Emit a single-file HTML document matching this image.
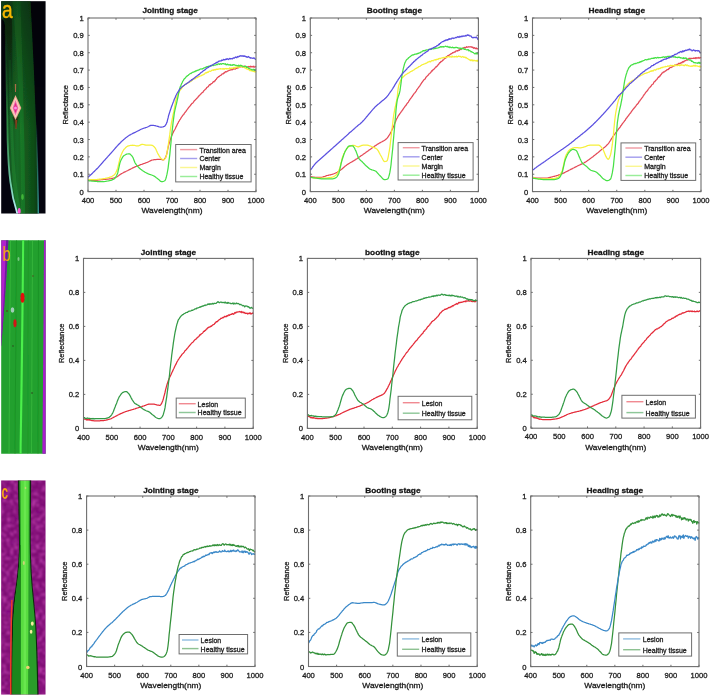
<!DOCTYPE html>
<html><head><meta charset="utf-8"><style>
html,body{margin:0;padding:0;background:#fff;width:710px;height:697px;overflow:hidden}
svg{display:block;filter:blur(0.42px)}
text{font-family:"Liberation Sans", sans-serif;fill:#1e1e1e;stroke:#1e1e1e;stroke-width:0.3px}
.tk{font-size:7.6px}
.lb{font-size:7.6px}
.lg{font-size:7.0px}
.ti{font-size:8.1px;font-weight:bold;fill:#111}
</style></head><body>
<svg width="710" height="697" viewBox="0 0 710 697">
<rect width="710" height="697" fill="#fff"/>
<defs>
 <linearGradient id="la_g" x1="0" y1="0" x2="1" y2="0">
  <stop offset="0" stop-color="#15622a"/>
  <stop offset="0.25" stop-color="#125620"/>
  <stop offset="0.45" stop-color="#186c26"/>
  <stop offset="0.65" stop-color="#135a1e"/>
  <stop offset="0.88" stop-color="#0f4c17"/>
  <stop offset="1" stop-color="#0a3410"/>
 </linearGradient>
 <linearGradient id="la_top" x1="0" y1="0" x2="0" y2="1">
  <stop offset="0" stop-color="#000" stop-opacity="0.38"/>
  <stop offset="0.6" stop-color="#000" stop-opacity="0.15"/>
  <stop offset="1" stop-color="#000" stop-opacity="0"/>
 </linearGradient>
 <linearGradient id="la_lf" x1="0" y1="0" x2="0" y2="1">
  <stop offset="0" stop-color="#020a04" stop-opacity="0.5"/>
  <stop offset="0.5" stop-color="#020a04" stop-opacity="0.3"/>
  <stop offset="1" stop-color="#020a04" stop-opacity="0"/>
 </linearGradient>
 <linearGradient id="la_re" x1="0" y1="0" x2="0" y2="1">
  <stop offset="0" stop-color="#3aa0a0" stop-opacity="0"/>
  <stop offset="0.6" stop-color="#3aa0a0" stop-opacity="0.6"/>
  <stop offset="1" stop-color="#40b0b0" stop-opacity="0.85"/>
 </linearGradient>
 <linearGradient id="la_edge" x1="0" y1="0" x2="0" y2="1">
  <stop offset="0" stop-color="#1e7a2e" stop-opacity="0.3"/>
  <stop offset="0.55" stop-color="#3aa050" stop-opacity="0.8"/>
  <stop offset="0.85" stop-color="#80e0c0" stop-opacity="0.9"/>
  <stop offset="1" stop-color="#c0f0ff" stop-opacity="1"/>
 </linearGradient>
 <linearGradient id="la_v" x1="0" y1="0" x2="0" y2="1">
  <stop offset="0" stop-color="#000" stop-opacity="0.25"/>
  <stop offset="0.5" stop-color="#000" stop-opacity="0"/>
  <stop offset="1" stop-color="#000" stop-opacity="0"/>
 </linearGradient>
 <filter id="noise" x="0" y="0" width="100%" height="100%">
  <feTurbulence type="fractalNoise" baseFrequency="0.28" numOctaves="2" seed="7" result="t"/>
  <feColorMatrix in="t" type="matrix" values="0 0 0 0 0.78  0 0 0 0 0.12  0 0 0 0 0.62  2.2 0 0 0 -1.05" result="c"/>
  <feGaussianBlur in="c" stdDeviation="0.9" result="cb"/>
  <feTurbulence type="fractalNoise" baseFrequency="0.2" numOctaves="2" seed="23" result="t2"/>
  <feColorMatrix in="t2" type="matrix" values="0 0 0 0 0.25  0 0 0 0 0.0  0 0 0 0 0.28  -2.2 0 0 0 1.05" result="d"/>
  <feGaussianBlur in="d" stdDeviation="1.0" result="db"/>
  <feMerge result="m"><feMergeNode in="db"/><feMergeNode in="cb"/></feMerge>
  <feComposite in="m" in2="SourceGraphic" operator="in"/>
 </filter>
 <filter id="blurL" x="-5%" y="-2%" width="110%" height="104%"><feGaussianBlur stdDeviation="0.6"/></filter>
 <filter id="blurS" x="-50%" y="-50%" width="200%" height="200%"><feGaussianBlur stdDeviation="0.5"/></filter>
 <clipPath id="clipA"><rect x="1.2" y="1.2" width="44.3" height="212.4"/></clipPath>
 <clipPath id="clipB"><rect x="1.2" y="240.3" width="44.5" height="213.5"/></clipPath>
 <clipPath id="clipC"><rect x="1.2" y="480.5" width="44.3" height="214"/></clipPath>
</defs>
<!-- leaf a -->
<g clip-path="url(#clipA)">
 <rect x="0" y="0" width="46" height="215" fill="#04040e"/>
 <g filter="url(#blurL)">
 <path d="M0,0 L30.5,0 C32.5,40 34.5,80 35.5,110 C37,140 38.3,170 38.6,214 L17.4,214 C14.5,205 12,196 10.4,180 C9,165 8,150 7.4,130 C6.6,90 6,50 5,25 C4,20 2,18 0,18 Z" fill="url(#la_g)"/>
 <path d="M12.5,0 L20.5,0 C22,50 23.5,100 24.5,150 C25,180 25.2,200 25,214 L21,214 C21,190 20.5,150 19.5,110 C18,60 14.5,30 12.5,0Z" fill="#1e8a2c" opacity="0.5"/>
 <path d="M8.5,60 C9.5,110 10.5,150 12.5,180 C14,196 16,206 19,214 L22,214 C18.5,200 16.5,185 15,165 C13.5,140 12,100 11,60Z" fill="#1f8a34" opacity="0.5"/>
 <path d="M5.6,30 C6.4,80 7,120 7.6,140 C8.2,160 9,172 10.4,182 C12,196 14.5,205 17.4,214" fill="none" stroke="url(#la_edge)" stroke-width="1.8"/>
 <rect x="0" y="0" width="46" height="130" fill="url(#la_top)"/>
 <path d="M36.2,120 C37.4,160 38.2,190 38.3,214" fill="none" stroke="url(#la_re)" stroke-width="1.4"/>
 <path d="M3,18 L12,18 C12.5,40 12.5,70 12,120 L7.4,120 C6.6,70 6,40 3,18Z" fill="url(#la_lf)"/>
 <ellipse cx="22.5" cy="197" rx="1.3" ry="3" fill="#52d040" opacity="0.7"/>
 <ellipse cx="19.2" cy="211" rx="1.5" ry="3" fill="#ff5ad8"/>
 <path d="M14.8,84 L16.2,84 L16,92 L15,92Z" fill="#d07050" opacity="0.8"/>
 <path d="M12.5,117 L18.5,117 L16.3,128 L15.5,128Z" fill="#2a2a10" opacity="0.7"/>
 <path d="M15.2,120 L17.2,120 L16.5,129 L15.5,129Z" fill="#a04020" opacity="0.8"/>
 <path d="M15.5,95 L21.3,108 L15.5,120 L9.8,108 Z" fill="#f0a890"/>
 <path d="M15.5,97.5 L20,108 L15.5,118 L11,108 Z" fill="#f8d0c4"/>
 <path d="M15.5,100 L18.4,108 L15.5,115.5 L12.6,108 Z" fill="#f06ea8"/>
 <path d="M15.5,102.5 L17.3,108 L15.5,113 L13.7,108 Z" fill="#e02a8a"/>
 <circle cx="15.5" cy="108" r="1.5" fill="#ff8ee8"/>
 </g>
 <text x="2.1" y="18.2" font-size="24.5" textLength="10.6" lengthAdjust="spacingAndGlyphs" style="fill:#f8b800;stroke:#f8b800;stroke-width:0.5px;font-family:'Liberation Sans',sans-serif">a</text>
</g>
<!-- leaf b -->
<g clip-path="url(#clipB)">
 <rect x="0" y="238" width="46" height="217" fill="#22a02e"/>
 <g filter="url(#blurL)">
 <path d="M0,238 L8.4,238 C7.5,260 6,285 4,310 C3,325 2,337 1.2,346 L0,346 Z" fill="#b020cc"/>
 <path d="M6.2,238 L8.4,238 C7.5,260 6,285 4,310 C3,325 2,337 1.2,346 L0.8,346 C1.6,335 2.4,322 3.2,308 C4.6,285 5.6,260 6.2,238Z" fill="#5a1a90" opacity="0.8"/>
 <path d="M44,238 L46,238 L46,455 L42.4,455 C43,400 43.6,320 44,238Z" fill="#a81ccc"/>
 <path d="M22.2,238 L24.2,238 C23.6,320 22.6,400 21.6,455 L19.6,455 C20.4,400 21.4,320 22.2,238Z" fill="#4cf04c"/>
 <path d="M10,238 L11,238 L9.5,455 L8.5,455Z" fill="#48c848" opacity="0.5"/>
 <path d="M32,238 L33,238 L32,455 L31,455Z" fill="#48c848" opacity="0.5"/>
 <path d="M16,238 L17,238 L15.5,455 L14.5,455Z" fill="#168a20" opacity="0.6"/>
 <path d="M38,238 L39,238 L38.5,455 L37.5,455Z" fill="#168a20" opacity="0.6"/>
 <path d="M28,238 L28.8,238 L28.2,455 L27.4,455Z" fill="#189020" opacity="0.5"/>
 <ellipse cx="22.5" cy="297.7" rx="2" ry="5" fill="#e41010"/>
 <ellipse cx="15" cy="323.3" rx="1.6" ry="4" fill="#d01818"/>
 <ellipse cx="12.5" cy="310" rx="1.8" ry="2.8" fill="#c8dce4" opacity="0.75"/>
 <ellipse cx="18.5" cy="259" rx="1" ry="2" fill="#b8e0c0" opacity="0.6"/>
 <circle cx="33" cy="276" r="1" fill="#505020" opacity="0.6"/>
 <circle cx="7" cy="311" r="0.9" fill="#603010" opacity="0.7"/>
 <circle cx="32" cy="393" r="1" fill="#304020" opacity="0.6"/>
 <circle cx="13" cy="346" r="0.9" fill="#304020" opacity="0.6"/>
 </g>
 <text x="2.6" y="261.4" font-size="20" textLength="8.2" lengthAdjust="spacingAndGlyphs" style="fill:#f2aa10;stroke:none;font-family:'Liberation Sans',sans-serif">b</text>
</g>
<!-- leaf c -->
<g clip-path="url(#clipC)">
 <rect x="0" y="478" width="46" height="220" fill="#7e0c74"/>
 <rect x="0" y="478" width="46" height="220" fill="#fff" filter="url(#noise)"/>
 <g filter="url(#blurL)">
 <path d="M17.8,478 L31.2,478 C31,510 30.8,530 30.8,545 C31,565 31.8,575 33,590 C34.5,605 35.5,615 36.2,625 C37.2,645 38,665 38.6,697 L11,697 C11,670 11.2,650 11.8,625 C12.5,612 13.5,600 15.5,588 C17.5,575 18.8,560 19,545 C19,530 18.4,510 17.8,478Z" fill="#0c260c"/>
 <path d="M19.2,478 L30,478 C29.8,510 29.6,530 29.8,545 C30,565 30.8,575 32,590 C33.5,605 34.5,615 35.2,625 C36.2,645 36.8,665 37.4,697 L12.4,697 C12.4,670 12.6,650 13.2,625 C13.8,612 14.8,600 16.6,588 C18.5,575 19.8,560 20,545 C20,530 19.6,510 19.2,478Z" fill="#2c9c2a"/>
 <path d="M12.4,697 C12.4,670 12.6,650 13.2,625 C13.8,612 14.8,600 16.6,588 C18.5,575 19.8,560 20,545 L21,545 C21,580 20.6,620 20.6,697Z" fill="#1f861c"/>
 <path d="M20.6,478 L28.8,478 C28.6,530 28.4,580 28.4,620 C28.2,660 28.2,680 28.2,697 L21,697 C21,660 21,600 21,540Z" fill="#58dc40"/>
 <path d="M23.8,478 L26.2,478 L26,697 L23.6,697Z" fill="#78ee5c" opacity="0.55"/>
 <path d="M12.6,600 C11.8,625 11.4,660 11.6,697 L10,697 C10,660 10.3,625 11.2,600 Z" fill="#f03a26"/>
 <ellipse cx="32.3" cy="623.6" rx="1.4" ry="2.2" fill="#f8eca0"/>
 <ellipse cx="31.1" cy="631.7" rx="1.3" ry="2" fill="#f8eca0"/>
 <ellipse cx="27.8" cy="667.4" rx="1.8" ry="1.7" fill="#f0d070"/>
 <ellipse cx="23.8" cy="563" rx="1" ry="2" fill="#e0d080" opacity="0.85"/>
 <ellipse cx="25.5" cy="488" rx="0.8" ry="1.3" fill="#e0d080" opacity="0.7"/>
 </g>
 <text x="1.6" y="498.8" font-size="19.5" font-weight="bold" textLength="6.6" lengthAdjust="spacingAndGlyphs" style="fill:#f2a414;stroke:none;font-family:'Liberation Sans',sans-serif">c</text>
</g>

<rect x="88" y="18" width="168" height="173.6" fill="#fff"/>
<path d="M88.0,179.6L88.6,179.7L89.1,179.8L89.7,179.9L90.2,180.0L90.8,180.2L91.4,180.3L91.9,180.3L92.5,180.4L93.0,180.5L93.6,180.5L94.2,180.5L94.7,180.5L95.3,180.4L95.8,180.4L96.4,180.3L97.0,180.3L97.5,180.2L98.1,180.1L98.6,180.0L99.2,179.9L99.8,179.9L100.3,179.8L100.9,179.7L101.4,179.6L102.0,179.6L102.6,179.5L103.1,179.5L103.7,179.4L104.2,179.4L104.8,179.4L105.4,179.3L105.9,179.3L106.5,179.2L107.0,179.2L107.6,179.1L108.2,179.1L108.7,179.0L109.3,178.9L109.8,178.9L110.4,178.8L111.0,178.7L111.5,178.6L112.1,178.4L112.6,178.3L113.2,178.2L113.8,178.0L114.3,177.8L114.9,177.7L115.4,177.5L116.0,177.3L116.6,177.0L117.1,176.7L117.7,176.3L118.2,176.0L118.8,175.6L119.4,175.1L119.9,174.7L120.5,174.3L121.0,173.9L121.6,173.6L122.2,173.3L122.7,173.0L123.3,172.7L123.8,172.4L124.4,172.1L125.0,171.8L125.5,171.6L126.1,171.3L126.6,171.0L127.2,170.8L127.8,170.5L128.3,170.2L128.9,169.9L129.4,169.6L130.0,169.3L130.6,169.1L131.1,168.8L131.7,168.5L132.2,168.2L132.8,167.9L133.4,167.6L133.9,167.4L134.5,167.1L135.0,166.9L135.6,166.6L136.2,166.4L136.7,166.2L137.3,166.0L137.8,165.8L138.4,165.6L139.0,165.4L139.5,165.1L140.1,164.9L140.6,164.7L141.2,164.5L141.8,164.3L142.3,164.1L142.9,163.9L143.4,163.7L144.0,163.5L144.6,163.3L145.1,163.1L145.7,162.9L146.2,162.7L146.8,162.5L147.4,162.3L147.9,162.0L148.5,161.8L149.0,161.5L149.6,161.2L150.2,160.9L150.7,160.7L151.3,160.4L151.8,160.2L152.4,160.0L153.0,159.9L153.5,159.8L154.1,159.7L154.6,159.7L155.2,159.6L155.8,159.5L156.3,159.5L156.9,159.4L157.4,159.4L158.0,159.3L158.6,159.3L159.1,159.3L159.7,159.3L160.2,159.4L160.8,159.4L161.4,159.5L161.9,159.7L162.5,159.8L163.0,159.8L163.6,159.8L164.2,159.4L164.7,158.7L165.3,157.8L165.8,156.7L166.4,155.1L167.0,152.9L167.5,150.3L168.1,147.7L168.6,145.3L169.2,143.3L169.8,141.5L170.3,139.7L170.9,138.1L171.4,136.5L172.0,135.2L172.6,133.8L173.1,132.6L173.7,131.4L174.2,130.3L174.8,129.5L175.4,128.5L175.9,127.1L176.5,126.2L177.0,125.1L177.6,123.7L178.2,122.8L178.7,121.6L179.3,120.8L179.8,119.8L180.4,119.1L181.0,118.0L181.5,117.1L182.1,116.4L182.6,115.6L183.2,114.8L183.8,114.4L184.3,113.3L184.9,112.6L185.4,112.0L186.0,111.4L186.6,110.3L187.1,109.7L187.7,108.9L188.2,108.1L188.8,107.5L189.4,106.6L189.9,106.2L190.5,105.3L191.0,104.8L191.6,103.9L192.2,103.3L192.7,103.1L193.3,102.4L193.8,101.7L194.4,100.6L195.0,100.3L195.5,99.6L196.1,99.2L196.6,98.4L197.2,97.9L197.8,97.4L198.3,96.6L198.9,96.1L199.4,95.3L200.0,94.9L200.6,94.2L201.1,93.7L201.7,93.0L202.2,92.7L202.8,92.5L203.4,91.4L203.9,90.7L204.5,90.1L205.0,89.7L205.6,89.0L206.2,88.7L206.7,87.6L207.3,87.2L207.8,86.9L208.4,86.5L209.0,85.3L209.5,84.7L210.1,85.0L210.6,84.0L211.2,83.8L211.8,83.6L212.3,83.1L212.9,82.2L213.4,81.7L214.0,81.9L214.6,80.9L215.1,80.9L215.7,79.7L216.2,79.5L216.8,78.4L217.4,77.7L217.9,77.5L218.5,76.5L219.0,76.6L219.6,76.3L220.2,75.3L220.7,75.4L221.3,74.9L221.8,74.3L222.4,73.8L223.0,73.9L223.5,73.7L224.1,72.6L224.6,72.8L225.2,71.9L225.8,71.7L226.3,71.9L226.9,71.6L227.4,71.2L228.0,70.9L228.6,70.7L229.1,70.5L229.7,70.2L230.2,69.7L230.8,70.0L231.4,69.9L231.9,69.4L232.5,69.8L233.0,69.5L233.6,68.6L234.2,69.0L234.7,68.8L235.3,69.2L235.8,68.5L236.4,68.1L237.0,68.5L237.5,67.6L238.1,67.4L238.6,67.8L239.2,66.9L239.8,67.0L240.3,66.6L240.9,66.9L241.4,66.4L242.0,66.3L242.6,67.2L243.1,67.1L243.7,66.4L244.2,66.0L244.8,66.9L245.4,66.7L245.9,66.5L246.5,66.8L247.0,66.8L247.6,66.8L248.2,66.8L248.7,66.5L249.3,66.9L249.8,66.8L250.4,66.2L251.0,67.2L251.5,66.5L252.1,66.3L252.6,66.9L253.2,67.0L253.8,66.2L254.3,67.0L254.9,67.0L255.4,66.7L256.0,66.3" fill="none" stroke="#e44a58" stroke-width="1.25" stroke-linejoin="round"/>
<path d="M88.0,179.6L88.6,179.6L89.1,179.6L89.7,179.6L90.2,179.6L90.8,179.6L91.4,179.6L91.9,179.6L92.5,179.6L93.0,179.6L93.6,179.6L94.2,179.6L94.7,179.6L95.3,179.6L95.8,179.6L96.4,179.5L97.0,179.5L97.5,179.4L98.1,179.4L98.6,179.3L99.2,179.2L99.8,179.2L100.3,179.1L100.9,179.0L101.4,179.0L102.0,178.9L102.6,178.8L103.1,178.7L103.7,178.6L104.2,178.6L104.8,178.5L105.4,178.4L105.9,178.2L106.5,178.1L107.0,178.0L107.6,177.9L108.2,177.7L108.7,177.6L109.3,177.4L109.8,177.2L110.4,177.1L111.0,176.8L111.5,176.6L112.1,176.3L112.6,176.0L113.2,175.6L113.8,175.2L114.3,174.8L114.9,174.1L115.4,173.3L116.0,172.3L116.6,171.1L117.1,169.8L117.7,168.2L118.2,166.0L118.8,163.4L119.4,160.8L119.9,158.4L120.5,156.7L121.0,155.2L121.6,153.9L122.2,152.6L122.7,151.5L123.3,150.5L123.8,149.7L124.4,149.0L125.0,148.4L125.5,147.8L126.1,147.2L126.6,146.8L127.2,146.4L127.8,146.1L128.3,145.9L128.9,145.8L129.4,145.7L130.0,145.5L130.6,145.4L131.1,145.4L131.7,145.3L132.2,145.3L132.8,145.2L133.4,145.3L133.9,145.3L134.5,145.4L135.0,145.5L135.6,145.7L136.2,145.8L136.7,145.9L137.3,145.9L137.8,145.9L138.4,145.8L139.0,145.6L139.5,145.4L140.1,145.1L140.6,144.8L141.2,144.6L141.8,144.4L142.3,144.4L142.9,144.4L143.4,144.5L144.0,144.6L144.6,144.8L145.1,144.9L145.7,145.1L146.2,145.2L146.8,145.2L147.4,145.2L147.9,145.2L148.5,145.2L149.0,145.2L149.6,145.2L150.2,145.2L150.7,145.2L151.3,145.2L151.8,145.3L152.4,145.4L153.0,145.7L153.5,146.2L154.1,146.7L154.6,147.3L155.2,148.0L155.8,149.0L156.3,150.2L156.9,151.5L157.4,152.8L158.0,153.9L158.6,154.8L159.1,155.8L159.7,156.7L160.2,157.5L160.8,158.2L161.4,158.7L161.9,159.1L162.5,159.5L163.0,159.8L163.6,159.8L164.2,159.6L164.7,159.1L165.3,158.4L165.8,157.6L166.4,155.8L167.0,152.9L167.5,149.5L168.1,146.1L168.6,142.6L169.2,138.6L169.8,134.4L170.3,130.2L170.9,126.3L171.4,123.0L172.0,120.1L172.6,117.2L173.1,114.6L173.7,111.9L174.2,109.3L174.8,106.0L175.4,102.5L175.9,100.0L176.5,97.9L177.0,96.6L177.6,95.0L178.2,93.9L178.7,92.7L179.3,91.7L179.8,90.6L180.4,89.8L181.0,89.3L181.5,88.4L182.1,87.8L182.6,86.8L183.2,86.3L183.8,85.7L184.3,85.2L184.9,84.8L185.4,84.3L186.0,84.0L186.6,83.9L187.1,83.3L187.7,83.1L188.2,82.7L188.8,82.4L189.4,82.2L189.9,81.9L190.5,81.5L191.0,81.2L191.6,81.0L192.2,80.2L192.7,79.8L193.3,79.3L193.8,79.1L194.4,78.9L195.0,78.4L195.5,78.5L196.1,77.8L196.6,77.7L197.2,77.6L197.8,77.3L198.3,76.8L198.9,76.7L199.4,76.3L200.0,76.0L200.6,75.9L201.1,75.8L201.7,75.3L202.2,75.2L202.8,74.9L203.4,74.6L203.9,74.2L204.5,74.1L205.0,73.3L205.6,72.8L206.2,73.0L206.7,72.4L207.3,72.0L207.8,72.5L208.4,72.2L209.0,71.4L209.5,71.2L210.1,71.1L210.6,71.3L211.2,70.9L211.8,70.3L212.3,70.1L212.9,70.0L213.4,70.4L214.0,69.7L214.6,70.0L215.1,69.6L215.7,69.9L216.2,69.1L216.8,69.3L217.4,69.1L217.9,69.4L218.5,69.0L219.0,68.9L219.6,68.8L220.2,69.0L220.7,68.6L221.3,68.9L221.8,69.0L222.4,69.1L223.0,68.5L223.5,69.1L224.1,68.9L224.6,69.1L225.2,68.5L225.8,68.6L226.3,68.5L226.9,69.0L227.4,68.6L228.0,68.6L228.6,68.8L229.1,68.9L229.7,67.8L230.2,68.6L230.8,68.4L231.4,68.3L231.9,67.9L232.5,68.4L233.0,67.9L233.6,67.9L234.2,67.3L234.7,68.2L235.3,67.7L235.8,67.5L236.4,66.8L237.0,67.2L237.5,67.2L238.1,66.8L238.6,67.2L239.2,67.4L239.8,66.8L240.3,66.2L240.9,66.4L241.4,66.9L242.0,66.4L242.6,66.3L243.1,67.1L243.7,66.9L244.2,67.5L244.8,67.9L245.4,68.1L245.9,68.5L246.5,68.5L247.0,69.2L247.6,69.0L248.2,69.7L248.7,69.2L249.3,69.7L249.8,70.7L250.4,69.9L251.0,70.8L251.5,70.6L252.1,70.7L252.6,71.1L253.2,71.3L253.8,71.2L254.3,71.8L254.9,70.9L255.4,72.0L256.0,71.2" fill="none" stroke="#f6f03a" stroke-width="1.25" stroke-linejoin="round"/>
<path d="M88.0,180.7L88.6,180.7L89.1,180.8L89.7,180.8L90.2,180.9L90.8,180.9L91.4,181.0L91.9,181.0L92.5,181.1L93.0,181.1L93.6,181.2L94.2,181.2L94.7,181.3L95.3,181.3L95.8,181.4L96.4,181.4L97.0,181.5L97.5,181.5L98.1,181.5L98.6,181.6L99.2,181.6L99.8,181.7L100.3,181.7L100.9,181.7L101.4,181.7L102.0,181.7L102.6,181.7L103.1,181.7L103.7,181.6L104.2,181.6L104.8,181.5L105.4,181.4L105.9,181.3L106.5,181.2L107.0,181.1L107.6,181.0L108.2,180.9L108.7,180.8L109.3,180.7L109.8,180.6L110.4,180.5L111.0,180.3L111.5,180.1L112.1,179.9L112.6,179.7L113.2,179.5L113.8,179.2L114.3,178.8L114.9,178.3L115.4,177.6L116.0,176.7L116.6,175.6L117.1,174.4L117.7,173.0L118.2,170.7L118.8,168.1L119.4,165.4L119.9,163.0L120.5,161.4L121.0,160.1L121.6,159.0L122.2,157.9L122.7,157.0L123.3,156.2L123.8,155.7L124.4,155.3L125.0,155.0L125.5,154.7L126.1,154.4L126.6,154.2L127.2,154.0L127.8,153.9L128.3,153.8L128.9,153.8L129.4,153.8L130.0,154.1L130.6,154.5L131.1,155.1L131.7,155.7L132.2,156.3L132.8,157.3L133.4,158.6L133.9,160.1L134.5,161.5L135.0,162.7L135.6,163.7L136.2,164.5L136.7,165.2L137.3,165.9L137.8,166.5L138.4,167.1L139.0,167.7L139.5,168.2L140.1,168.7L140.6,169.2L141.2,169.6L141.8,170.0L142.3,170.4L142.9,170.8L143.4,171.2L144.0,171.5L144.6,171.9L145.1,172.2L145.7,172.5L146.2,172.8L146.8,173.1L147.4,173.3L147.9,173.6L148.5,173.9L149.0,174.1L149.6,174.3L150.2,174.5L150.7,174.7L151.3,174.9L151.8,175.0L152.4,175.3L153.0,175.5L153.5,175.8L154.1,176.1L154.6,176.4L155.2,176.8L155.8,177.3L156.3,177.7L156.9,178.1L157.4,178.6L158.0,179.0L158.6,179.4L159.1,179.9L159.7,180.5L160.2,180.9L160.8,181.4L161.4,181.6L161.9,181.7L162.5,181.7L163.0,181.5L163.6,181.3L164.2,181.0L164.7,180.7L165.3,180.1L165.8,178.7L166.4,176.7L167.0,174.2L167.5,171.5L168.1,168.1L168.6,163.9L169.2,159.3L169.8,154.6L170.3,149.3L170.9,143.4L171.4,137.5L172.0,132.1L172.6,127.1L173.1,122.3L173.7,117.8L174.2,114.0L174.8,110.7L175.4,108.2L175.9,105.9L176.5,103.6L177.0,101.2L177.6,98.5L178.2,95.7L178.7,93.0L179.3,90.3L179.8,88.1L180.4,86.4L181.0,85.2L181.5,83.9L182.1,82.7L182.6,81.5L183.2,80.6L183.8,79.6L184.3,78.8L184.9,78.3L185.4,77.9L186.0,77.0L186.6,76.4L187.1,76.1L187.7,75.5L188.2,75.3L188.8,74.5L189.4,74.2L189.9,73.8L190.5,73.4L191.0,73.5L191.6,73.0L192.2,72.5L192.7,72.2L193.3,72.2L193.8,72.1L194.4,71.5L195.0,71.6L195.5,70.9L196.1,71.2L196.6,70.6L197.2,70.4L197.8,70.5L198.3,70.0L198.9,69.8L199.4,69.7L200.0,69.2L200.6,69.0L201.1,68.8L201.7,69.0L202.2,69.0L202.8,68.5L203.4,68.4L203.9,67.8L204.5,67.9L205.0,67.7L205.6,67.4L206.2,67.1L206.7,66.6L207.3,66.7L207.8,66.6L208.4,66.2L209.0,66.5L209.5,66.2L210.1,65.7L210.6,65.5L211.2,65.9L211.8,65.9L212.3,65.4L212.9,65.1L213.4,65.6L214.0,65.1L214.6,65.1L215.1,65.2L215.7,65.0L216.2,64.7L216.8,64.5L217.4,64.7L217.9,64.1L218.5,63.8L219.0,63.9L219.6,64.4L220.2,63.8L220.7,63.7L221.3,64.3L221.8,63.9L222.4,63.7L223.0,63.5L223.5,63.5L224.1,64.0L224.6,64.0L225.2,63.7L225.8,64.6L226.3,64.4L226.9,64.9L227.4,64.2L228.0,64.4L228.6,64.9L229.1,65.0L229.7,64.7L230.2,64.5L230.8,65.3L231.4,65.1L231.9,65.0L232.5,65.3L233.0,64.6L233.6,64.9L234.2,64.7L234.7,65.1L235.3,65.1L235.8,65.6L236.4,65.4L237.0,65.5L237.5,65.5L238.1,66.0L238.6,65.2L239.2,66.0L239.8,65.7L240.3,65.2L240.9,65.8L241.4,65.4L242.0,66.2L242.6,66.1L243.1,66.3L243.7,66.5L244.2,66.5L244.8,66.6L245.4,66.2L245.9,66.2L246.5,67.5L247.0,66.9L247.6,67.3L248.2,67.7L248.7,68.5L249.3,68.4L249.8,68.8L250.4,69.1L251.0,69.1L251.5,69.6L252.1,69.9L252.6,70.0L253.2,69.2L253.8,70.1L254.3,69.4L254.9,70.5L255.4,69.9L256.0,70.2" fill="none" stroke="#46e046" stroke-width="1.25" stroke-linejoin="round"/>
<path d="M88.0,177.3L88.6,176.8L89.1,176.2L89.7,175.7L90.2,175.2L90.8,174.7L91.4,174.2L91.9,173.7L92.5,173.2L93.0,172.6L93.6,172.1L94.2,171.5L94.7,171.0L95.3,170.4L95.8,169.9L96.4,169.3L97.0,168.7L97.5,168.2L98.1,167.6L98.6,167.0L99.2,166.4L99.8,165.7L100.3,165.1L100.9,164.5L101.4,163.8L102.0,163.2L102.6,162.5L103.1,161.9L103.7,161.2L104.2,160.6L104.8,160.0L105.4,159.3L105.9,158.7L106.5,158.1L107.0,157.5L107.6,156.9L108.2,156.2L108.7,155.6L109.3,155.0L109.8,154.4L110.4,153.8L111.0,153.1L111.5,152.5L112.1,151.9L112.6,151.2L113.2,150.6L113.8,149.9L114.3,149.3L114.9,148.6L115.4,148.0L116.0,147.3L116.6,146.7L117.1,146.1L117.7,145.5L118.2,144.9L118.8,144.3L119.4,143.7L119.9,143.2L120.5,142.6L121.0,142.0L121.6,141.5L122.2,140.9L122.7,140.4L123.3,139.9L123.8,139.4L124.4,139.0L125.0,138.5L125.5,138.0L126.1,137.6L126.6,137.2L127.2,136.8L127.8,136.3L128.3,136.0L128.9,135.6L129.4,135.2L130.0,134.9L130.6,134.6L131.1,134.3L131.7,134.0L132.2,133.7L132.8,133.4L133.4,133.2L133.9,132.9L134.5,132.6L135.0,132.4L135.6,132.1L136.2,131.8L136.7,131.5L137.3,131.2L137.8,131.0L138.4,130.7L139.0,130.4L139.5,130.1L140.1,129.8L140.6,129.5L141.2,129.2L141.8,129.0L142.3,128.8L142.9,128.5L143.4,128.3L144.0,128.2L144.6,128.0L145.1,127.8L145.7,127.6L146.2,127.5L146.8,127.3L147.4,127.0L147.9,126.8L148.5,126.5L149.0,126.2L149.6,125.9L150.2,125.6L150.7,125.4L151.3,125.3L151.8,125.3L152.4,125.3L153.0,125.4L153.5,125.4L154.1,125.5L154.6,125.6L155.2,125.7L155.8,125.9L156.3,126.0L156.9,126.1L157.4,126.3L158.0,126.4L158.6,126.6L159.1,126.8L159.7,127.0L160.2,127.1L160.8,127.2L161.4,127.2L161.9,127.1L162.5,127.0L163.0,126.9L163.6,126.7L164.2,126.5L164.7,126.2L165.3,125.5L165.8,124.7L166.4,123.6L167.0,122.3L167.5,120.2L168.1,117.9L168.6,115.6L169.2,113.7L169.8,111.9L170.3,110.3L170.9,108.6L171.4,107.0L172.0,105.6L172.6,103.9L173.1,102.5L173.7,101.2L174.2,99.5L174.8,98.2L175.4,97.1L175.9,95.5L176.5,94.6L177.0,93.5L177.6,92.5L178.2,91.6L178.7,90.9L179.3,89.9L179.8,89.1L180.4,88.6L181.0,87.8L181.5,87.4L182.1,86.7L182.6,86.6L183.2,86.0L183.8,85.5L184.3,85.3L184.9,84.5L185.4,84.3L186.0,84.2L186.6,83.5L187.1,83.2L187.7,82.9L188.2,82.5L188.8,82.0L189.4,81.8L189.9,81.1L190.5,80.7L191.0,80.6L191.6,79.7L192.2,79.8L192.7,79.3L193.3,78.5L193.8,78.5L194.4,77.9L195.0,77.4L195.5,77.1L196.1,76.6L196.6,76.2L197.2,75.8L197.8,75.6L198.3,74.7L198.9,74.6L199.4,74.3L200.0,73.6L200.6,72.9L201.1,72.5L201.7,72.2L202.2,71.7L202.8,71.4L203.4,70.7L203.9,70.4L204.5,70.2L205.0,69.7L205.6,69.4L206.2,68.5L206.7,68.0L207.3,67.7L207.8,67.8L208.4,67.5L209.0,66.5L209.5,66.7L210.1,66.5L210.6,65.8L211.2,65.5L211.8,65.2L212.3,65.0L212.9,64.8L213.4,64.3L214.0,64.0L214.6,63.5L215.1,63.4L215.7,63.2L216.2,62.3L216.8,62.8L217.4,62.0L217.9,62.0L218.5,61.4L219.0,61.2L219.6,61.1L220.2,60.8L220.7,61.0L221.3,60.9L221.8,60.0L222.4,60.3L223.0,60.3L223.5,59.4L224.1,59.5L224.6,59.9L225.2,59.4L225.8,59.6L226.3,58.9L226.9,59.4L227.4,58.7L228.0,59.0L228.6,59.5L229.1,59.1L229.7,58.4L230.2,58.6L230.8,59.1L231.4,58.7L231.9,58.7L232.5,58.8L233.0,58.1L233.6,57.8L234.2,58.2L234.7,57.7L235.3,57.2L235.8,57.0L236.4,57.7L237.0,57.6L237.5,56.5L238.1,56.9L238.6,56.9L239.2,56.0L239.8,56.4L240.3,55.8L240.9,55.7L241.4,56.1L242.0,55.9L242.6,56.1L243.1,55.6L243.7,56.3L244.2,56.4L244.8,55.8L245.4,56.7L245.9,56.6L246.5,56.6L247.0,57.4L247.6,57.2L248.2,56.7L248.7,56.5L249.3,57.5L249.8,57.5L250.4,58.2L251.0,57.7L251.5,58.0L252.1,58.0L252.6,58.3L253.2,58.4L253.8,57.8L254.3,58.1L254.9,58.7L255.4,59.3L256.0,59.4" fill="none" stroke="#5a50e0" stroke-width="1.25" stroke-linejoin="round"/>
<rect x="88" y="18" width="168" height="173.6" fill="none" stroke="#6e6e6e" stroke-width="1.1"/>
<line x1="88.00" y1="191.6" x2="88.00" y2="189.79999999999998" stroke="#6e6e6e" stroke-width="1"/>
<line x1="88.00" y1="18" x2="88.00" y2="19.8" stroke="#6e6e6e" stroke-width="1"/>
<text x="88.00" y="202.79999999999998" text-anchor="middle" class="tk">400</text>
<line x1="116.00" y1="191.6" x2="116.00" y2="189.79999999999998" stroke="#6e6e6e" stroke-width="1"/>
<line x1="116.00" y1="18" x2="116.00" y2="19.8" stroke="#6e6e6e" stroke-width="1"/>
<text x="116.00" y="202.79999999999998" text-anchor="middle" class="tk">500</text>
<line x1="144.00" y1="191.6" x2="144.00" y2="189.79999999999998" stroke="#6e6e6e" stroke-width="1"/>
<line x1="144.00" y1="18" x2="144.00" y2="19.8" stroke="#6e6e6e" stroke-width="1"/>
<text x="144.00" y="202.79999999999998" text-anchor="middle" class="tk">600</text>
<line x1="172.00" y1="191.6" x2="172.00" y2="189.79999999999998" stroke="#6e6e6e" stroke-width="1"/>
<line x1="172.00" y1="18" x2="172.00" y2="19.8" stroke="#6e6e6e" stroke-width="1"/>
<text x="172.00" y="202.79999999999998" text-anchor="middle" class="tk">700</text>
<line x1="200.00" y1="191.6" x2="200.00" y2="189.79999999999998" stroke="#6e6e6e" stroke-width="1"/>
<line x1="200.00" y1="18" x2="200.00" y2="19.8" stroke="#6e6e6e" stroke-width="1"/>
<text x="200.00" y="202.79999999999998" text-anchor="middle" class="tk">800</text>
<line x1="228.00" y1="191.6" x2="228.00" y2="189.79999999999998" stroke="#6e6e6e" stroke-width="1"/>
<line x1="228.00" y1="18" x2="228.00" y2="19.8" stroke="#6e6e6e" stroke-width="1"/>
<text x="228.00" y="202.79999999999998" text-anchor="middle" class="tk">900</text>
<line x1="256.00" y1="191.6" x2="256.00" y2="189.79999999999998" stroke="#6e6e6e" stroke-width="1"/>
<line x1="256.00" y1="18" x2="256.00" y2="19.8" stroke="#6e6e6e" stroke-width="1"/>
<text x="256.00" y="202.79999999999998" text-anchor="middle" class="tk">1000</text>
<line x1="88" y1="191.60" x2="89.8" y2="191.60" stroke="#6e6e6e" stroke-width="1"/>
<line x1="256" y1="191.60" x2="254.2" y2="191.60" stroke="#6e6e6e" stroke-width="1"/>
<text x="83.7" y="194.60" text-anchor="end" class="tk">0</text>
<line x1="88" y1="174.24" x2="89.8" y2="174.24" stroke="#6e6e6e" stroke-width="1"/>
<line x1="256" y1="174.24" x2="254.2" y2="174.24" stroke="#6e6e6e" stroke-width="1"/>
<text x="83.7" y="177.24" text-anchor="end" class="tk">0.1</text>
<line x1="88" y1="156.88" x2="89.8" y2="156.88" stroke="#6e6e6e" stroke-width="1"/>
<line x1="256" y1="156.88" x2="254.2" y2="156.88" stroke="#6e6e6e" stroke-width="1"/>
<text x="83.7" y="159.88" text-anchor="end" class="tk">0.2</text>
<line x1="88" y1="139.52" x2="89.8" y2="139.52" stroke="#6e6e6e" stroke-width="1"/>
<line x1="256" y1="139.52" x2="254.2" y2="139.52" stroke="#6e6e6e" stroke-width="1"/>
<text x="83.7" y="142.52" text-anchor="end" class="tk">0.3</text>
<line x1="88" y1="122.16" x2="89.8" y2="122.16" stroke="#6e6e6e" stroke-width="1"/>
<line x1="256" y1="122.16" x2="254.2" y2="122.16" stroke="#6e6e6e" stroke-width="1"/>
<text x="83.7" y="125.16" text-anchor="end" class="tk">0.4</text>
<line x1="88" y1="104.80" x2="89.8" y2="104.80" stroke="#6e6e6e" stroke-width="1"/>
<line x1="256" y1="104.80" x2="254.2" y2="104.80" stroke="#6e6e6e" stroke-width="1"/>
<text x="83.7" y="107.80" text-anchor="end" class="tk">0.5</text>
<line x1="88" y1="87.44" x2="89.8" y2="87.44" stroke="#6e6e6e" stroke-width="1"/>
<line x1="256" y1="87.44" x2="254.2" y2="87.44" stroke="#6e6e6e" stroke-width="1"/>
<text x="83.7" y="90.44" text-anchor="end" class="tk">0.6</text>
<line x1="88" y1="70.08" x2="89.8" y2="70.08" stroke="#6e6e6e" stroke-width="1"/>
<line x1="256" y1="70.08" x2="254.2" y2="70.08" stroke="#6e6e6e" stroke-width="1"/>
<text x="83.7" y="73.08" text-anchor="end" class="tk">0.7</text>
<line x1="88" y1="52.72" x2="89.8" y2="52.72" stroke="#6e6e6e" stroke-width="1"/>
<line x1="256" y1="52.72" x2="254.2" y2="52.72" stroke="#6e6e6e" stroke-width="1"/>
<text x="83.7" y="55.72" text-anchor="end" class="tk">0.8</text>
<line x1="88" y1="35.36" x2="89.8" y2="35.36" stroke="#6e6e6e" stroke-width="1"/>
<line x1="256" y1="35.36" x2="254.2" y2="35.36" stroke="#6e6e6e" stroke-width="1"/>
<text x="83.7" y="38.36" text-anchor="end" class="tk">0.9</text>
<line x1="88" y1="18.00" x2="89.8" y2="18.00" stroke="#6e6e6e" stroke-width="1"/>
<line x1="256" y1="18.00" x2="254.2" y2="18.00" stroke="#6e6e6e" stroke-width="1"/>
<text x="83.7" y="21.00" text-anchor="end" class="tk">1</text>
<text x="142.55" y="13.10" textLength="55.3" lengthAdjust="spacingAndGlyphs" class="ti">Jointing stage</text>
<text x="141.50" y="213.20" textLength="61" lengthAdjust="spacingAndGlyphs" class="lb">Wavelength(nm)</text>
<text transform="translate(68.40,124.50) rotate(-90)" textLength="39.4" lengthAdjust="spacingAndGlyphs" class="lb">Reflectance</text>
<rect x="175.7" y="144.5" width="75.40" height="37.40" fill="#fff" stroke="#6e6e6e" stroke-width="1"/>
<line x1="180.1" y1="149.60" x2="197.2" y2="149.60" stroke="#e44a58" stroke-width="1.45" opacity="0.55"/>
<text x="199.4" y="152.50" class="lg">Transition area</text>
<line x1="180.1" y1="158.50" x2="197.2" y2="158.50" stroke="#5a50e0" stroke-width="1.45" opacity="0.55"/>
<text x="199.4" y="161.40" class="lg">Center</text>
<line x1="180.1" y1="167.50" x2="197.2" y2="167.50" stroke="#f6f03a" stroke-width="1.45" opacity="0.55"/>
<text x="199.4" y="170.40" class="lg">Margin</text>
<line x1="180.1" y1="176.50" x2="197.2" y2="176.50" stroke="#46e046" stroke-width="1.45" opacity="0.55"/>
<text x="199.4" y="179.40" class="lg">Healthy tissue</text>
<rect x="310.3" y="18" width="168.09999999999997" height="173.6" fill="#fff"/>
<path d="M310.3,176.5L310.9,176.6L311.4,176.7L312.0,176.8L312.5,176.9L313.1,177.0L313.7,177.2L314.2,177.2L314.8,177.3L315.3,177.4L315.9,177.4L316.5,177.4L317.0,177.4L317.6,177.4L318.1,177.4L318.7,177.4L319.3,177.4L319.8,177.4L320.4,177.4L320.9,177.3L321.5,177.3L322.1,177.2L322.6,177.0L323.2,176.9L323.7,176.7L324.3,176.5L324.9,176.3L325.4,176.1L326.0,175.9L326.5,175.7L327.1,175.5L327.7,175.4L328.2,175.3L328.8,175.1L329.4,175.0L329.9,174.9L330.5,174.8L331.0,174.6L331.6,174.5L332.2,174.3L332.7,174.2L333.3,174.0L333.8,173.8L334.4,173.5L335.0,173.3L335.5,173.0L336.1,172.8L336.6,172.5L337.2,172.2L337.8,171.8L338.3,171.5L338.9,171.2L339.4,170.8L340.0,170.5L340.6,170.1L341.1,169.6L341.7,169.2L342.2,168.7L342.8,168.2L343.4,167.7L343.9,167.3L344.5,166.8L345.0,166.3L345.6,165.8L346.2,165.4L346.7,165.0L347.3,164.6L347.8,164.2L348.4,163.9L349.0,163.5L349.5,163.2L350.1,162.8L350.6,162.5L351.2,162.2L351.8,161.9L352.3,161.6L352.9,161.2L353.4,160.9L354.0,160.6L354.6,160.2L355.1,159.9L355.7,159.5L356.2,159.1L356.8,158.8L357.4,158.4L357.9,158.0L358.5,157.6L359.0,157.2L359.6,156.8L360.2,156.4L360.7,156.0L361.3,155.6L361.9,155.3L362.4,154.9L363.0,154.5L363.5,154.1L364.1,153.7L364.7,153.3L365.2,152.9L365.8,152.5L366.3,152.1L366.9,151.7L367.5,151.3L368.0,150.9L368.6,150.5L369.1,150.1L369.7,149.7L370.3,149.3L370.8,148.9L371.4,148.5L371.9,148.1L372.5,147.7L373.1,147.3L373.6,146.9L374.2,146.5L374.7,146.1L375.3,145.7L375.9,145.4L376.4,145.0L377.0,144.6L377.5,144.2L378.1,143.9L378.7,143.5L379.2,143.2L379.8,142.9L380.3,142.6L380.9,142.3L381.5,142.0L382.0,141.7L382.6,141.4L383.1,141.1L383.7,140.8L384.3,140.4L384.8,140.1L385.4,139.7L385.9,139.2L386.5,138.7L387.1,138.1L387.6,137.5L388.2,136.7L388.7,135.9L389.3,135.0L389.9,134.1L390.4,133.1L391.0,132.0L391.5,130.9L392.1,129.6L392.7,128.4L393.2,127.2L393.8,125.9L394.4,124.6L394.9,123.0L395.5,121.7L396.0,120.2L396.6,118.9L397.2,118.0L397.7,117.0L398.3,115.8L398.8,115.2L399.4,114.5L400.0,113.4L400.5,112.9L401.1,111.9L401.6,111.3L402.2,110.4L402.8,109.8L403.3,108.8L403.9,107.9L404.4,107.3L405.0,106.4L405.6,105.7L406.1,105.2L406.7,104.1L407.2,103.4L407.8,102.7L408.4,102.1L408.9,100.9L409.5,100.3L410.0,99.4L410.6,98.5L411.2,97.8L411.7,96.9L412.3,96.4L412.8,95.4L413.4,94.8L414.0,93.7L414.5,93.0L415.1,92.7L415.6,91.8L416.2,91.0L416.8,89.7L417.3,89.3L417.9,88.3L418.4,87.7L419.0,86.8L419.6,86.1L420.1,85.3L420.7,84.4L421.2,83.6L421.8,82.6L422.4,82.0L422.9,81.1L423.5,80.5L424.0,79.7L424.6,79.2L425.2,78.9L425.7,77.7L426.3,77.0L426.8,76.3L427.4,75.9L428.0,75.2L428.5,74.9L429.1,73.8L429.7,73.4L430.2,73.0L430.8,72.6L431.3,71.4L431.9,70.7L432.5,70.9L433.0,69.7L433.6,69.5L434.1,69.1L434.7,68.5L435.3,67.5L435.8,66.8L436.4,67.0L436.9,66.0L437.5,65.9L438.1,64.7L438.6,64.5L439.2,63.4L439.7,62.7L440.3,62.6L440.9,61.5L441.4,61.6L442.0,61.3L442.5,60.2L443.1,60.2L443.7,59.6L444.2,58.9L444.8,58.3L445.3,58.3L445.9,57.9L446.5,56.7L447.0,56.8L447.6,55.8L448.1,55.5L448.7,55.6L449.3,55.1L449.8,54.7L450.4,54.2L450.9,53.9L451.5,53.6L452.1,53.3L452.6,52.6L453.2,52.8L453.7,52.5L454.3,51.9L454.9,52.2L455.4,51.8L456.0,50.8L456.5,51.0L457.1,50.7L457.7,51.1L458.2,50.4L458.8,50.0L459.3,50.3L459.9,49.4L460.5,49.1L461.0,49.6L461.6,48.6L462.2,48.6L462.7,48.1L463.3,48.3L463.8,47.7L464.4,47.4L465.0,48.1L465.5,47.9L466.1,47.1L466.6,46.6L467.2,47.3L467.8,47.0L468.3,46.7L468.9,47.0L469.4,46.8L470.0,46.9L470.6,46.8L471.1,46.7L471.7,47.2L472.2,47.4L472.8,47.1L473.4,48.3L473.9,47.8L474.5,47.7L475.0,48.4L475.6,48.6L476.2,47.9L476.7,48.8L477.3,48.9L477.8,48.7L478.4,48.4" fill="none" stroke="#e44a58" stroke-width="1.25" stroke-linejoin="round"/>
<path d="M310.3,177.4L310.9,177.4L311.4,177.5L312.0,177.6L312.5,177.7L313.1,177.8L313.7,177.9L314.2,178.0L314.8,178.0L315.3,178.0L315.9,178.1L316.5,178.1L317.0,178.1L317.6,178.1L318.1,178.1L318.7,178.1L319.3,178.1L319.8,178.1L320.4,178.1L320.9,178.1L321.5,178.1L322.1,178.1L322.6,178.1L323.2,178.1L323.7,178.1L324.3,178.1L324.9,178.0L325.4,178.0L326.0,178.0L326.5,178.0L327.1,177.9L327.7,177.9L328.2,177.8L328.8,177.7L329.4,177.7L329.9,177.6L330.5,177.5L331.0,177.4L331.6,177.3L332.2,177.2L332.7,177.0L333.3,176.8L333.8,176.5L334.4,176.2L335.0,175.8L335.5,175.4L336.1,175.0L336.6,174.4L337.2,173.7L337.8,172.7L338.3,171.5L338.9,170.3L339.4,169.0L340.0,167.2L340.6,165.1L341.1,162.8L341.7,160.4L342.2,158.2L342.8,156.3L343.4,154.9L343.9,153.7L344.5,152.6L345.0,151.5L345.6,150.5L346.2,149.5L346.7,148.7L347.3,148.0L347.8,147.4L348.4,147.0L349.0,146.6L349.5,146.4L350.1,146.1L350.6,145.9L351.2,145.6L351.8,145.5L352.3,145.3L352.9,145.3L353.4,145.3L354.0,145.3L354.6,145.5L355.1,145.7L355.7,146.0L356.2,146.3L356.8,146.5L357.4,146.7L357.9,146.8L358.5,146.8L359.0,146.6L359.6,146.4L360.2,146.1L360.7,145.9L361.3,145.6L361.9,145.4L362.4,145.3L363.0,145.2L363.5,145.2L364.1,145.2L364.7,145.2L365.2,145.2L365.8,145.2L366.3,145.2L366.9,145.2L367.5,145.2L368.0,145.3L368.6,145.4L369.1,145.6L369.7,145.8L370.3,146.0L370.8,146.2L371.4,146.5L371.9,146.7L372.5,147.0L373.1,147.2L373.6,147.4L374.2,147.6L374.7,147.9L375.3,148.1L375.9,148.4L376.4,148.8L377.0,149.2L377.5,149.8L378.1,150.6L378.7,151.6L379.2,152.6L379.8,153.7L380.3,154.8L380.9,155.8L381.5,156.8L382.0,157.8L382.6,158.9L383.1,160.0L383.7,160.9L384.3,161.4L384.8,161.6L385.4,161.5L385.9,161.3L386.5,161.1L387.1,160.8L387.6,159.5L388.2,157.1L388.7,154.0L389.3,150.8L389.9,147.1L390.4,142.7L391.0,137.8L391.5,133.0L392.1,128.4L392.7,123.6L393.2,118.8L393.8,114.6L394.4,111.3L394.9,108.3L395.5,105.9L396.0,103.4L396.6,100.9L397.2,97.6L397.7,92.4L398.3,87.7L398.8,85.3L399.4,83.7L400.0,82.0L400.5,80.8L401.1,79.6L401.6,78.7L402.2,77.7L402.8,77.2L403.3,76.9L403.9,76.2L404.4,75.8L405.0,75.1L405.6,74.8L406.1,74.4L406.7,74.1L407.2,73.8L407.8,73.3L408.4,73.1L408.9,73.0L409.5,72.3L410.0,72.1L410.6,71.6L411.2,71.4L411.7,71.2L412.3,70.9L412.8,70.5L413.4,70.2L414.0,70.0L414.5,69.3L415.1,69.0L415.6,68.5L416.2,68.3L416.8,68.1L417.3,67.6L417.9,67.6L418.4,66.9L419.0,66.7L419.6,66.5L420.1,66.2L420.7,65.6L421.2,65.5L421.8,65.0L422.4,64.6L422.9,64.5L423.5,64.4L424.0,63.9L424.6,63.8L425.2,63.6L425.7,63.4L426.3,63.0L426.8,63.0L427.4,62.4L428.0,61.9L428.5,62.1L429.1,61.7L429.7,61.3L430.2,61.8L430.8,61.6L431.3,60.9L431.9,60.7L432.5,60.7L433.0,60.9L433.6,60.5L434.1,60.0L434.7,59.8L435.3,59.7L435.8,60.1L436.4,59.4L436.9,59.6L437.5,59.2L438.1,59.5L438.6,58.6L439.2,58.7L439.7,58.4L440.3,58.7L440.9,58.2L441.4,58.0L442.0,57.9L442.5,57.9L443.1,57.4L443.7,57.7L444.2,57.6L444.8,57.6L445.3,57.0L445.9,57.5L446.5,57.3L447.0,57.4L447.6,56.7L448.1,56.7L448.7,56.7L449.3,57.1L449.8,56.7L450.4,56.7L450.9,57.0L451.5,57.1L452.1,56.0L452.6,56.9L453.2,56.8L453.7,56.8L454.3,56.4L454.9,57.0L455.4,56.6L456.0,56.7L456.5,56.2L457.1,57.1L457.7,56.7L458.2,56.5L458.8,56.0L459.3,56.5L459.9,56.6L460.5,56.4L461.0,56.9L461.6,57.3L462.2,56.8L462.7,56.5L463.3,56.8L463.8,57.4L464.4,57.1L465.0,57.0L465.5,57.8L466.1,57.5L466.6,58.0L467.2,58.4L467.8,58.7L468.3,59.1L468.9,59.3L469.4,60.0L470.0,59.8L470.6,60.5L471.1,59.8L471.7,60.1L472.2,60.9L472.8,60.0L473.4,60.8L473.9,60.4L474.5,60.4L475.0,60.7L475.6,60.8L476.2,60.7L476.7,61.1L477.3,60.2L477.8,61.3L478.4,60.4" fill="none" stroke="#f6f03a" stroke-width="1.25" stroke-linejoin="round"/>
<path d="M310.3,177.4L310.9,177.4L311.4,177.5L312.0,177.6L312.5,177.7L313.1,177.7L313.7,177.8L314.2,177.9L314.8,177.9L315.3,178.0L315.9,178.1L316.5,178.1L317.0,178.2L317.6,178.3L318.1,178.4L318.7,178.5L319.3,178.5L319.8,178.6L320.4,178.7L320.9,178.8L321.5,178.8L322.1,178.9L322.6,178.9L323.2,178.9L323.7,178.9L324.3,178.9L324.9,178.9L325.4,178.9L326.0,178.9L326.5,178.9L327.1,178.9L327.7,178.9L328.2,178.9L328.8,178.9L329.4,178.9L329.9,178.9L330.5,178.9L331.0,178.9L331.6,178.9L332.2,178.9L332.7,178.8L333.3,178.7L333.8,178.6L334.4,178.4L335.0,178.2L335.5,178.0L336.1,177.6L336.6,177.1L337.2,176.3L337.8,175.4L338.3,174.4L338.9,173.2L339.4,171.2L340.0,168.7L340.6,166.0L341.1,163.5L341.7,161.4L342.2,159.5L342.8,157.7L343.4,156.0L343.9,154.3L344.5,152.9L345.0,151.6L345.6,150.5L346.2,149.6L346.7,148.6L347.3,147.8L347.8,147.0L348.4,146.4L349.0,146.1L349.5,145.9L350.1,145.9L350.6,145.9L351.2,145.9L351.8,145.9L352.3,145.9L352.9,146.0L353.4,146.5L354.0,147.3L354.6,148.3L355.1,149.5L355.7,150.6L356.2,151.8L356.8,153.4L357.4,155.0L357.9,156.6L358.5,157.9L359.0,158.7L359.6,159.4L360.2,160.0L360.7,160.5L361.3,160.9L361.9,161.5L362.4,162.0L363.0,162.6L363.5,163.2L364.1,163.8L364.7,164.4L365.2,165.0L365.8,165.5L366.3,166.0L366.9,166.5L367.5,167.0L368.0,167.6L368.6,168.0L369.1,168.5L369.7,168.9L370.3,169.2L370.8,169.5L371.4,169.7L371.9,169.9L372.5,170.0L373.1,170.2L373.6,170.3L374.2,170.5L374.7,170.7L375.3,171.0L375.9,171.3L376.4,171.8L377.0,172.4L377.5,173.0L378.1,173.6L378.7,174.3L379.2,174.9L379.8,175.5L380.3,176.0L380.9,176.6L381.5,177.2L382.0,177.9L382.6,178.5L383.1,179.0L383.7,179.4L384.3,179.6L384.8,179.6L385.4,179.6L385.9,179.5L386.5,179.4L387.1,179.2L387.6,179.0L388.2,178.4L388.7,176.9L389.3,174.8L389.9,172.2L390.4,169.2L391.0,165.0L391.5,159.8L392.1,154.3L392.7,148.6L393.2,142.4L393.8,135.7L394.4,129.0L394.9,122.8L395.5,116.5L396.0,110.1L396.6,104.6L397.2,100.4L397.7,98.3L398.3,96.6L398.8,95.0L399.4,93.3L400.0,90.7L400.5,87.0L401.1,82.7L401.6,78.1L402.2,74.1L402.8,71.0L403.3,68.6L403.9,66.4L404.4,64.4L405.0,62.6L405.6,61.5L406.1,60.4L406.7,59.6L407.2,59.2L407.8,58.8L408.4,58.0L408.9,57.5L409.5,57.2L410.0,56.6L410.6,56.4L411.2,55.7L411.7,55.4L412.3,55.2L412.8,54.8L413.4,55.0L414.0,54.6L414.5,54.3L415.1,54.1L415.6,54.2L416.2,54.2L416.8,53.7L417.3,53.9L417.9,53.3L418.4,53.5L419.0,53.0L419.6,52.8L420.1,52.8L420.7,52.2L421.2,52.0L421.8,51.8L422.4,51.1L422.9,50.9L423.5,50.6L424.0,50.8L424.6,50.8L425.2,50.3L425.7,50.4L426.3,49.8L426.8,50.0L427.4,50.0L428.0,49.7L428.5,49.5L429.1,49.2L429.7,49.3L430.2,49.3L430.8,48.9L431.3,49.3L431.9,49.1L432.5,48.6L433.0,48.5L433.6,48.9L434.1,48.8L434.7,48.3L435.3,48.1L435.8,48.5L436.4,48.0L436.9,48.0L437.5,48.0L438.1,47.8L438.6,47.6L439.2,47.3L439.7,47.5L440.3,46.9L440.9,46.6L441.4,46.7L442.0,47.2L442.5,46.6L443.1,46.6L443.7,47.1L444.2,46.8L444.8,46.5L445.3,46.2L445.9,46.3L446.5,46.7L447.0,46.7L447.6,46.4L448.1,47.2L448.7,47.0L449.3,47.5L449.8,46.9L450.4,47.1L450.9,47.6L451.5,47.7L452.1,47.4L452.6,47.2L453.2,47.9L453.7,47.7L454.3,47.6L454.9,47.9L455.4,47.3L456.0,47.5L456.5,47.3L457.1,47.7L457.7,47.7L458.2,48.2L458.8,48.0L459.3,48.2L459.9,48.2L460.5,48.8L461.0,48.0L461.6,48.9L462.2,48.7L462.7,48.2L463.3,48.8L463.8,48.5L464.4,49.4L465.0,49.3L465.5,49.5L466.1,49.7L466.6,49.8L467.2,49.9L467.8,49.6L468.3,49.6L468.9,50.9L469.4,50.4L470.0,50.8L470.6,51.2L471.1,51.9L471.7,51.7L472.2,52.1L472.8,52.4L473.4,52.5L473.9,53.2L474.5,53.6L475.0,53.9L475.6,53.1L476.2,53.9L476.7,53.0L477.3,54.0L477.8,53.2L478.4,53.2" fill="none" stroke="#46e046" stroke-width="1.25" stroke-linejoin="round"/>
<path d="M310.3,170.2L310.9,169.5L311.4,168.8L312.0,168.0L312.5,167.2L313.1,166.5L313.7,165.7L314.2,165.0L314.8,164.3L315.3,163.7L315.9,163.0L316.5,162.5L317.0,161.9L317.6,161.4L318.1,160.9L318.7,160.4L319.3,159.9L319.8,159.4L320.4,158.9L320.9,158.5L321.5,158.0L322.1,157.5L322.6,157.1L323.2,156.6L323.7,156.1L324.3,155.6L324.9,155.1L325.4,154.6L326.0,154.1L326.5,153.5L327.1,153.0L327.7,152.5L328.2,152.0L328.8,151.5L329.4,151.0L329.9,150.5L330.5,150.0L331.0,149.4L331.6,148.9L332.2,148.4L332.7,147.9L333.3,147.4L333.8,146.9L334.4,146.4L335.0,146.0L335.5,145.5L336.1,145.0L336.6,144.5L337.2,144.0L337.8,143.5L338.3,143.0L338.9,142.5L339.4,142.0L340.0,141.5L340.6,141.0L341.1,140.5L341.7,139.9L342.2,139.4L342.8,138.9L343.4,138.4L343.9,137.9L344.5,137.4L345.0,136.9L345.6,136.4L346.2,135.9L346.7,135.4L347.3,134.9L347.8,134.4L348.4,133.9L349.0,133.3L349.5,132.8L350.1,132.3L350.6,131.9L351.2,131.4L351.8,130.9L352.3,130.4L352.9,129.9L353.4,129.4L354.0,128.9L354.6,128.4L355.1,127.9L355.7,127.4L356.2,126.9L356.8,126.5L357.4,126.0L357.9,125.5L358.5,125.1L359.0,124.6L359.6,124.2L360.2,123.7L360.7,123.2L361.3,122.7L361.9,122.2L362.4,121.6L363.0,121.1L363.5,120.5L364.1,119.9L364.7,119.2L365.2,118.6L365.8,117.9L366.3,117.2L366.9,116.5L367.5,115.8L368.0,115.2L368.6,114.5L369.1,113.8L369.7,113.2L370.3,112.5L370.8,111.9L371.4,111.2L371.9,110.5L372.5,109.9L373.1,109.2L373.6,108.6L374.2,108.0L374.7,107.4L375.3,106.8L375.9,106.3L376.4,105.8L377.0,105.3L377.5,104.8L378.1,104.3L378.7,103.9L379.2,103.4L379.8,102.9L380.3,102.5L380.9,102.0L381.5,101.5L382.0,101.1L382.6,100.6L383.1,100.2L383.7,99.7L384.3,99.3L384.8,98.8L385.4,98.3L385.9,97.8L386.5,97.2L387.1,96.5L387.6,95.8L388.2,95.1L388.7,94.3L389.3,93.5L389.9,92.7L390.4,91.9L391.0,91.1L391.5,90.3L392.1,89.5L392.7,88.6L393.2,87.7L393.8,86.8L394.4,85.9L394.9,84.8L395.5,83.9L396.0,83.2L396.6,82.1L397.2,81.2L397.7,80.6L398.3,79.3L398.8,78.7L399.4,77.9L400.0,77.0L400.5,76.1L401.1,75.6L401.6,74.6L402.2,73.9L402.8,73.4L403.3,72.6L403.9,72.0L404.4,71.3L405.0,71.0L405.6,70.3L406.1,69.7L406.7,69.3L407.2,68.2L407.8,67.8L408.4,67.5L408.9,66.7L409.5,66.2L410.0,65.7L410.6,65.2L411.2,64.4L411.7,64.1L412.3,63.2L412.8,62.7L413.4,62.4L414.0,61.4L414.5,61.4L415.1,60.8L415.6,59.9L416.2,59.8L416.8,59.2L417.3,58.6L417.9,58.2L418.4,57.7L419.0,57.3L419.6,56.9L420.1,56.7L420.7,55.8L421.2,55.7L421.8,55.4L422.4,54.8L422.9,54.1L423.5,53.8L424.0,53.5L424.6,53.1L425.2,52.8L425.7,52.1L426.3,51.9L426.8,51.7L427.4,51.3L428.0,51.0L428.5,50.1L429.1,49.6L429.7,49.4L430.2,49.5L430.8,49.2L431.3,48.3L431.9,48.5L432.5,48.4L433.0,47.8L433.6,47.5L434.1,47.3L434.7,47.1L435.3,46.9L435.8,46.5L436.4,46.2L436.9,45.7L437.5,45.6L438.1,45.3L438.6,44.3L439.2,44.6L439.7,43.6L440.3,43.5L440.9,42.7L441.4,42.3L442.0,42.0L442.5,41.6L443.1,41.6L443.7,41.5L444.2,40.5L444.8,40.8L445.3,40.7L445.9,39.8L446.5,39.9L447.0,40.3L447.6,39.6L448.1,39.8L448.7,39.0L449.3,39.4L449.8,38.6L450.4,38.8L450.9,39.2L451.5,38.7L452.1,38.0L452.6,38.1L453.2,38.6L453.7,38.2L454.3,38.2L454.9,38.2L455.4,37.5L456.0,37.3L456.5,37.7L457.1,37.2L457.7,36.7L458.2,36.6L458.8,37.3L459.3,37.3L459.9,36.2L460.5,36.8L461.0,36.9L461.6,36.1L462.2,36.6L462.7,36.0L463.3,35.9L463.8,36.3L464.4,36.0L465.0,36.1L465.5,35.4L466.1,35.9L466.6,35.8L467.2,34.8L467.8,35.4L468.3,35.1L468.9,35.0L469.4,35.9L470.0,36.0L470.6,35.9L471.1,36.1L471.7,37.3L472.2,37.3L472.8,37.9L473.4,37.4L473.9,37.5L474.5,37.4L475.0,37.7L475.6,37.7L476.2,37.0L476.7,37.4L477.3,38.4L477.8,39.3L478.4,39.8" fill="none" stroke="#5a50e0" stroke-width="1.25" stroke-linejoin="round"/>
<rect x="310.3" y="18" width="168.09999999999997" height="173.6" fill="none" stroke="#6e6e6e" stroke-width="1.1"/>
<line x1="310.30" y1="191.6" x2="310.30" y2="189.79999999999998" stroke="#6e6e6e" stroke-width="1"/>
<line x1="310.30" y1="18" x2="310.30" y2="19.8" stroke="#6e6e6e" stroke-width="1"/>
<text x="310.30" y="202.79999999999998" text-anchor="middle" class="tk">400</text>
<line x1="338.32" y1="191.6" x2="338.32" y2="189.79999999999998" stroke="#6e6e6e" stroke-width="1"/>
<line x1="338.32" y1="18" x2="338.32" y2="19.8" stroke="#6e6e6e" stroke-width="1"/>
<text x="338.32" y="202.79999999999998" text-anchor="middle" class="tk">500</text>
<line x1="366.33" y1="191.6" x2="366.33" y2="189.79999999999998" stroke="#6e6e6e" stroke-width="1"/>
<line x1="366.33" y1="18" x2="366.33" y2="19.8" stroke="#6e6e6e" stroke-width="1"/>
<text x="366.33" y="202.79999999999998" text-anchor="middle" class="tk">600</text>
<line x1="394.35" y1="191.6" x2="394.35" y2="189.79999999999998" stroke="#6e6e6e" stroke-width="1"/>
<line x1="394.35" y1="18" x2="394.35" y2="19.8" stroke="#6e6e6e" stroke-width="1"/>
<text x="394.35" y="202.79999999999998" text-anchor="middle" class="tk">700</text>
<line x1="422.37" y1="191.6" x2="422.37" y2="189.79999999999998" stroke="#6e6e6e" stroke-width="1"/>
<line x1="422.37" y1="18" x2="422.37" y2="19.8" stroke="#6e6e6e" stroke-width="1"/>
<text x="422.37" y="202.79999999999998" text-anchor="middle" class="tk">800</text>
<line x1="450.38" y1="191.6" x2="450.38" y2="189.79999999999998" stroke="#6e6e6e" stroke-width="1"/>
<line x1="450.38" y1="18" x2="450.38" y2="19.8" stroke="#6e6e6e" stroke-width="1"/>
<text x="450.38" y="202.79999999999998" text-anchor="middle" class="tk">900</text>
<line x1="478.40" y1="191.6" x2="478.40" y2="189.79999999999998" stroke="#6e6e6e" stroke-width="1"/>
<line x1="478.40" y1="18" x2="478.40" y2="19.8" stroke="#6e6e6e" stroke-width="1"/>
<text x="478.40" y="202.79999999999998" text-anchor="middle" class="tk">1000</text>
<line x1="310.3" y1="191.60" x2="312.1" y2="191.60" stroke="#6e6e6e" stroke-width="1"/>
<line x1="478.4" y1="191.60" x2="476.59999999999997" y2="191.60" stroke="#6e6e6e" stroke-width="1"/>
<text x="306.0" y="194.60" text-anchor="end" class="tk">0</text>
<line x1="310.3" y1="174.24" x2="312.1" y2="174.24" stroke="#6e6e6e" stroke-width="1"/>
<line x1="478.4" y1="174.24" x2="476.59999999999997" y2="174.24" stroke="#6e6e6e" stroke-width="1"/>
<text x="306.0" y="177.24" text-anchor="end" class="tk">0.1</text>
<line x1="310.3" y1="156.88" x2="312.1" y2="156.88" stroke="#6e6e6e" stroke-width="1"/>
<line x1="478.4" y1="156.88" x2="476.59999999999997" y2="156.88" stroke="#6e6e6e" stroke-width="1"/>
<text x="306.0" y="159.88" text-anchor="end" class="tk">0.2</text>
<line x1="310.3" y1="139.52" x2="312.1" y2="139.52" stroke="#6e6e6e" stroke-width="1"/>
<line x1="478.4" y1="139.52" x2="476.59999999999997" y2="139.52" stroke="#6e6e6e" stroke-width="1"/>
<text x="306.0" y="142.52" text-anchor="end" class="tk">0.3</text>
<line x1="310.3" y1="122.16" x2="312.1" y2="122.16" stroke="#6e6e6e" stroke-width="1"/>
<line x1="478.4" y1="122.16" x2="476.59999999999997" y2="122.16" stroke="#6e6e6e" stroke-width="1"/>
<text x="306.0" y="125.16" text-anchor="end" class="tk">0.4</text>
<line x1="310.3" y1="104.80" x2="312.1" y2="104.80" stroke="#6e6e6e" stroke-width="1"/>
<line x1="478.4" y1="104.80" x2="476.59999999999997" y2="104.80" stroke="#6e6e6e" stroke-width="1"/>
<text x="306.0" y="107.80" text-anchor="end" class="tk">0.5</text>
<line x1="310.3" y1="87.44" x2="312.1" y2="87.44" stroke="#6e6e6e" stroke-width="1"/>
<line x1="478.4" y1="87.44" x2="476.59999999999997" y2="87.44" stroke="#6e6e6e" stroke-width="1"/>
<text x="306.0" y="90.44" text-anchor="end" class="tk">0.6</text>
<line x1="310.3" y1="70.08" x2="312.1" y2="70.08" stroke="#6e6e6e" stroke-width="1"/>
<line x1="478.4" y1="70.08" x2="476.59999999999997" y2="70.08" stroke="#6e6e6e" stroke-width="1"/>
<text x="306.0" y="73.08" text-anchor="end" class="tk">0.7</text>
<line x1="310.3" y1="52.72" x2="312.1" y2="52.72" stroke="#6e6e6e" stroke-width="1"/>
<line x1="478.4" y1="52.72" x2="476.59999999999997" y2="52.72" stroke="#6e6e6e" stroke-width="1"/>
<text x="306.0" y="55.72" text-anchor="end" class="tk">0.8</text>
<line x1="310.3" y1="35.36" x2="312.1" y2="35.36" stroke="#6e6e6e" stroke-width="1"/>
<line x1="478.4" y1="35.36" x2="476.59999999999997" y2="35.36" stroke="#6e6e6e" stroke-width="1"/>
<text x="306.0" y="38.36" text-anchor="end" class="tk">0.9</text>
<line x1="310.3" y1="18.00" x2="312.1" y2="18.00" stroke="#6e6e6e" stroke-width="1"/>
<line x1="478.4" y1="18.00" x2="476.59999999999997" y2="18.00" stroke="#6e6e6e" stroke-width="1"/>
<text x="306.0" y="21.00" text-anchor="end" class="tk">1</text>
<text x="366.65" y="13.10" textLength="55.4" lengthAdjust="spacingAndGlyphs" class="ti">Booting stage</text>
<text x="363.85" y="213.20" textLength="61" lengthAdjust="spacingAndGlyphs" class="lb">Wavelength(nm)</text>
<text transform="translate(290.70,124.50) rotate(-90)" textLength="39.4" lengthAdjust="spacingAndGlyphs" class="lb">Reflectance</text>
<rect x="398.1" y="142.6" width="75.00" height="37.40" fill="#fff" stroke="#6e6e6e" stroke-width="1"/>
<line x1="402.8" y1="147.70" x2="419.6" y2="147.70" stroke="#e44a58" stroke-width="1.45" opacity="0.55"/>
<text x="421.6" y="150.60" class="lg">Transition area</text>
<line x1="402.8" y1="156.80" x2="419.6" y2="156.80" stroke="#5a50e0" stroke-width="1.45" opacity="0.55"/>
<text x="421.6" y="159.70" class="lg">Center</text>
<line x1="402.8" y1="166.00" x2="419.6" y2="166.00" stroke="#f6f03a" stroke-width="1.45" opacity="0.55"/>
<text x="421.6" y="168.90" class="lg">Margin</text>
<line x1="402.8" y1="175.20" x2="419.6" y2="175.20" stroke="#46e046" stroke-width="1.45" opacity="0.55"/>
<text x="421.6" y="178.10" class="lg">Healthy tissue</text>
<rect x="532.5" y="18" width="168.5" height="173.6" fill="#fff"/>
<path d="M532.5,177.4L533.1,177.4L533.6,177.5L534.2,177.6L534.7,177.7L535.3,177.8L535.9,177.9L536.4,178.0L537.0,178.0L537.6,178.1L538.1,178.1L538.7,178.1L539.2,178.1L539.8,178.1L540.4,178.1L540.9,178.1L541.5,178.1L542.0,178.1L542.6,178.1L543.2,178.1L543.7,178.1L544.3,178.1L544.9,178.1L545.4,178.1L546.0,178.1L546.5,178.0L547.1,178.0L547.7,177.9L548.2,177.8L548.8,177.7L549.4,177.6L549.9,177.4L550.5,177.3L551.0,177.1L551.6,177.0L552.2,176.8L552.7,176.7L553.3,176.5L553.8,176.4L554.4,176.3L555.0,176.1L555.5,176.0L556.1,175.8L556.7,175.6L557.2,175.5L557.8,175.3L558.3,175.1L558.9,174.9L559.5,174.7L560.0,174.5L560.6,174.3L561.1,174.1L561.7,173.9L562.3,173.7L562.8,173.4L563.4,173.2L564.0,172.9L564.5,172.6L565.1,172.3L565.6,172.0L566.2,171.7L566.8,171.5L567.3,171.2L567.9,170.9L568.4,170.6L569.0,170.3L569.6,170.0L570.1,169.7L570.7,169.4L571.3,169.2L571.8,168.9L572.4,168.6L572.9,168.3L573.5,168.0L574.1,167.7L574.6,167.4L575.2,167.1L575.7,166.8L576.3,166.6L576.9,166.3L577.4,166.0L578.0,165.7L578.6,165.5L579.1,165.2L579.7,165.0L580.2,164.7L580.8,164.4L581.4,164.2L581.9,163.9L582.5,163.6L583.0,163.3L583.6,163.1L584.2,162.8L584.7,162.4L585.3,162.1L585.9,161.8L586.4,161.4L587.0,161.0L587.5,160.6L588.1,160.2L588.7,159.8L589.2,159.4L589.8,159.0L590.4,158.6L590.9,158.1L591.5,157.7L592.0,157.3L592.6,156.9L593.2,156.4L593.7,156.0L594.3,155.6L594.8,155.1L595.4,154.7L596.0,154.2L596.5,153.8L597.1,153.3L597.7,152.9L598.2,152.4L598.8,152.0L599.3,151.5L599.9,151.0L600.5,150.6L601.0,150.1L601.6,149.6L602.1,149.2L602.7,148.7L603.3,148.3L603.8,147.8L604.4,147.4L605.0,146.9L605.5,146.4L606.1,145.9L606.6,145.4L607.2,144.8L607.8,144.2L608.3,143.6L608.9,142.8L609.4,142.0L610.0,141.2L610.6,140.3L611.1,139.3L611.7,138.4L612.3,137.5L612.8,136.7L613.4,135.9L613.9,135.1L614.5,134.4L615.1,133.6L615.6,132.9L616.2,132.2L616.8,131.5L617.3,130.7L617.9,130.0L618.4,129.1L619.0,128.4L619.6,127.8L620.1,127.1L620.7,126.0L621.2,125.5L621.8,124.7L622.4,123.6L622.9,123.1L623.5,122.2L624.1,121.6L624.6,120.7L625.2,120.2L625.7,119.2L626.3,118.3L626.9,117.7L627.4,116.9L628.0,116.1L628.5,115.7L629.1,114.6L629.7,113.9L630.2,113.3L630.8,112.7L631.4,111.5L631.9,111.0L632.5,110.2L633.0,109.4L633.6,108.8L634.2,108.0L634.7,107.6L635.3,106.6L635.8,106.1L636.4,105.1L637.0,104.4L637.5,104.1L638.1,103.3L638.7,102.5L639.2,101.3L639.8,100.9L640.3,100.0L640.9,99.4L641.5,98.5L642.0,97.8L642.6,97.1L643.1,96.2L643.7,95.4L644.3,94.4L644.8,93.8L645.4,92.9L646.0,92.2L646.5,91.4L647.1,90.9L647.6,90.5L648.2,89.3L648.8,88.5L649.3,87.8L649.9,87.4L650.5,86.6L651.0,86.3L651.6,85.1L652.1,84.6L652.7,84.2L653.3,83.7L653.8,82.4L654.4,81.6L654.9,81.7L655.5,80.4L656.1,80.1L656.6,79.7L657.2,79.0L657.8,78.0L658.3,77.2L658.9,77.3L659.4,76.2L660.0,76.1L660.6,74.9L661.1,74.7L661.7,73.6L662.2,72.9L662.8,72.8L663.4,71.9L663.9,72.1L664.5,71.8L665.1,71.0L665.6,71.1L666.2,70.6L666.7,70.0L667.3,69.5L667.9,69.6L668.4,69.4L669.0,68.3L669.5,68.5L670.1,67.5L670.7,67.3L671.2,67.5L671.8,67.1L672.4,66.8L672.9,66.4L673.5,66.1L674.0,65.9L674.6,65.6L675.2,65.0L675.7,65.2L676.3,65.0L676.8,64.4L677.4,64.7L678.0,64.3L678.5,63.3L679.1,63.6L679.7,63.3L680.2,63.6L680.8,62.9L681.3,62.5L681.9,62.9L682.5,61.9L683.0,61.6L683.6,62.1L684.1,61.1L684.7,61.1L685.3,60.6L685.8,60.7L686.4,60.0L687.0,59.6L687.5,60.1L688.1,59.8L688.6,58.7L689.2,58.1L689.8,58.8L690.3,58.5L690.9,58.2L691.5,58.5L692.0,58.4L692.6,58.5L693.1,58.4L693.7,58.0L694.3,58.4L694.8,58.2L695.4,57.7L695.9,58.6L696.5,57.8L697.1,57.6L697.6,58.1L698.2,58.2L698.8,57.3L699.3,58.1L699.9,58.1L700.4,57.7L701.0,57.3" fill="none" stroke="#e44a58" stroke-width="1.25" stroke-linejoin="round"/>
<path d="M532.5,177.4L533.1,177.5L533.6,177.7L534.2,177.8L534.7,178.0L535.3,178.1L535.9,178.3L536.4,178.4L537.0,178.5L537.6,178.6L538.1,178.6L538.7,178.6L539.2,178.7L539.8,178.7L540.4,178.8L540.9,178.8L541.5,178.8L542.0,178.8L542.6,178.9L543.2,178.9L543.7,178.9L544.3,178.9L544.9,178.9L545.4,178.9L546.0,178.9L546.5,178.9L547.1,178.9L547.7,178.9L548.2,178.9L548.8,178.9L549.4,178.8L549.9,178.8L550.5,178.8L551.0,178.8L551.6,178.7L552.2,178.7L552.7,178.6L553.3,178.6L553.8,178.5L554.4,178.4L555.0,178.3L555.5,178.2L556.1,178.0L556.7,177.7L557.2,177.5L557.8,177.2L558.3,176.9L558.9,176.5L559.5,176.0L560.0,175.2L560.6,174.2L561.1,173.1L561.7,171.8L562.3,170.4L562.8,168.5L563.4,166.0L564.0,163.3L564.5,160.6L565.1,158.1L565.6,156.2L566.2,154.9L566.8,153.8L567.3,152.8L567.9,151.9L568.4,151.1L569.0,150.5L569.6,149.9L570.1,149.4L570.7,149.1L571.3,148.8L571.8,148.5L572.4,148.2L572.9,148.0L573.5,147.8L574.1,147.7L574.6,147.6L575.2,147.5L575.7,147.5L576.3,147.5L576.9,147.6L577.4,147.6L578.0,147.7L578.6,147.8L579.1,147.8L579.7,147.8L580.2,147.8L580.8,147.8L581.4,147.7L581.9,147.6L582.5,147.5L583.0,147.3L583.6,147.1L584.2,147.0L584.7,146.8L585.3,146.6L585.9,146.4L586.4,146.2L587.0,145.9L587.5,145.7L588.1,145.5L588.7,145.3L589.2,145.3L589.8,145.2L590.4,145.2L590.9,145.2L591.5,145.2L592.0,145.2L592.6,145.2L593.2,145.2L593.7,145.2L594.3,145.2L594.8,145.2L595.4,145.2L596.0,145.2L596.5,145.2L597.1,145.2L597.7,145.2L598.2,145.2L598.8,145.2L599.3,145.4L599.9,145.7L600.5,146.2L601.0,146.8L601.6,147.5L602.1,148.2L602.7,149.0L603.3,150.0L603.8,151.3L604.4,152.8L605.0,154.3L605.5,155.6L606.1,156.6L606.6,157.6L607.2,158.5L607.8,159.1L608.3,159.3L608.9,158.8L609.4,157.7L610.0,156.2L610.6,154.5L611.1,152.1L611.7,148.7L612.3,144.7L612.8,140.3L613.4,135.3L613.9,129.1L614.5,122.8L615.1,117.5L615.6,113.7L616.2,110.3L616.8,107.4L617.3,104.6L617.9,102.3L618.4,100.3L619.0,98.9L619.6,97.3L620.1,96.0L620.7,94.7L621.2,93.3L621.8,92.5L622.4,91.3L622.9,90.5L623.5,89.6L624.1,88.8L624.6,87.8L625.2,87.2L625.7,86.7L626.3,86.0L626.9,85.4L627.4,84.5L628.0,84.0L628.5,83.5L629.1,83.0L629.7,82.6L630.2,82.0L630.8,81.7L631.4,81.6L631.9,80.9L632.5,80.7L633.0,80.2L633.6,80.0L634.2,79.7L634.7,79.4L635.3,79.0L635.8,78.7L636.4,78.4L637.0,77.6L637.5,77.3L638.1,76.8L638.7,76.6L639.2,76.3L639.8,75.9L640.3,75.9L640.9,75.2L641.5,75.1L642.0,75.0L642.6,74.7L643.1,74.2L643.7,74.1L644.3,73.7L644.8,73.4L645.4,73.3L646.0,73.3L646.5,72.8L647.1,72.8L647.6,72.6L648.2,72.5L648.8,72.1L649.3,72.2L649.9,71.5L650.5,71.1L651.0,71.4L651.6,70.9L652.1,70.6L652.7,71.1L653.3,70.9L653.8,70.1L654.4,69.9L654.9,69.9L655.5,70.2L656.1,69.8L656.6,69.2L657.2,69.0L657.8,68.9L658.3,69.2L658.9,68.5L659.4,68.7L660.0,68.2L660.6,68.5L661.1,67.5L661.7,67.7L662.2,67.4L662.8,67.6L663.4,67.1L663.9,67.0L664.5,66.8L665.1,66.9L665.6,66.4L666.2,66.6L666.7,66.5L667.3,66.4L667.9,65.8L668.4,66.2L669.0,66.0L669.5,66.0L670.1,65.4L670.7,65.4L671.2,65.4L671.8,65.9L672.4,65.4L672.9,65.5L673.5,65.7L674.0,65.8L674.6,64.7L675.2,65.7L675.7,65.5L676.3,65.5L676.8,65.1L677.4,65.7L678.0,65.3L678.5,65.4L679.1,64.8L679.7,65.8L680.2,65.4L680.8,65.2L681.3,64.7L681.9,65.2L682.5,65.2L683.0,65.0L683.6,65.5L684.1,65.8L684.7,65.2L685.3,64.7L685.8,64.9L686.4,65.6L687.0,65.1L687.5,65.0L688.1,65.9L688.6,65.6L689.2,66.0L689.8,66.2L690.3,66.2L690.9,66.3L691.5,66.0L692.0,66.4L692.6,65.8L693.1,66.2L693.7,65.3L694.3,65.4L694.8,66.2L695.4,65.2L695.9,66.1L696.5,65.8L697.1,65.8L697.6,66.2L698.2,66.3L698.8,66.3L699.3,66.8L699.9,65.9L700.4,67.0L701.0,66.2" fill="none" stroke="#f6f03a" stroke-width="1.25" stroke-linejoin="round"/>
<path d="M532.5,178.1L533.1,178.2L533.6,178.3L534.2,178.4L534.7,178.5L535.3,178.6L535.9,178.6L536.4,178.7L537.0,178.8L537.6,178.9L538.1,179.0L538.7,179.0L539.2,179.1L539.8,179.2L540.4,179.2L540.9,179.3L541.5,179.4L542.0,179.4L542.6,179.5L543.2,179.5L543.7,179.6L544.3,179.6L544.9,179.6L545.4,179.6L546.0,179.6L546.5,179.6L547.1,179.6L547.7,179.6L548.2,179.6L548.8,179.6L549.4,179.6L549.9,179.6L550.5,179.6L551.0,179.6L551.6,179.6L552.2,179.6L552.7,179.6L553.3,179.6L553.8,179.6L554.4,179.6L555.0,179.5L555.5,179.4L556.1,179.2L556.7,179.1L557.2,178.8L557.8,178.6L558.3,178.4L558.9,178.1L559.5,177.6L560.0,176.9L560.6,175.9L561.1,174.7L561.7,173.4L562.3,172.0L562.8,170.0L563.4,167.5L564.0,164.8L564.5,162.3L565.1,160.3L565.6,158.8L566.2,157.4L566.8,156.1L567.3,154.9L567.9,153.9L568.4,153.0L569.0,152.3L569.6,151.7L570.1,151.1L570.7,150.6L571.3,150.1L571.8,149.8L572.4,149.5L572.9,149.4L573.5,149.4L574.1,149.6L574.6,149.7L575.2,150.0L575.7,150.2L576.3,150.6L576.9,151.3L577.4,152.5L578.0,153.8L578.6,155.3L579.1,156.6L579.7,157.8L580.2,159.0L580.8,160.3L581.4,161.5L581.9,162.5L582.5,163.2L583.0,163.8L583.6,164.3L584.2,164.7L584.7,165.1L585.3,165.5L585.9,165.9L586.4,166.3L587.0,166.8L587.5,167.4L588.1,167.9L588.7,168.5L589.2,169.0L589.8,169.5L590.4,169.9L590.9,170.2L591.5,170.5L592.0,170.7L592.6,170.8L593.2,171.0L593.7,171.1L594.3,171.3L594.8,171.5L595.4,171.7L596.0,172.0L596.5,172.3L597.1,172.7L597.7,173.2L598.2,173.7L598.8,174.2L599.3,174.7L599.9,175.2L600.5,175.8L601.0,176.5L601.6,177.1L602.1,177.7L602.7,178.3L603.3,178.8L603.8,179.1L604.4,179.5L605.0,179.8L605.5,180.1L606.1,180.4L606.6,180.6L607.2,180.7L607.8,180.6L608.3,180.5L608.9,180.2L609.4,179.9L610.0,179.4L610.6,178.9L611.1,177.7L611.7,175.6L612.3,172.9L612.8,169.9L613.4,166.1L613.9,161.0L614.5,155.2L615.1,149.3L615.6,143.1L616.2,136.2L616.8,129.2L617.3,123.2L617.9,119.0L618.4,115.5L619.0,112.6L619.6,109.7L620.1,107.5L620.7,105.1L621.2,102.4L621.8,99.5L622.4,96.0L622.9,92.1L623.5,88.1L624.1,84.3L624.6,81.1L625.2,78.4L625.7,76.3L626.3,74.2L626.9,72.4L627.4,70.7L628.0,69.6L628.5,68.4L629.1,67.4L629.7,66.8L630.2,66.3L630.8,65.4L631.4,65.0L631.9,64.9L632.5,64.5L633.0,64.5L633.6,63.9L634.2,63.8L634.7,63.7L635.3,63.4L635.8,63.7L636.4,63.3L637.0,63.0L637.5,62.7L638.1,62.8L638.7,62.7L639.2,62.2L639.8,62.3L640.3,61.6L640.9,61.9L641.5,61.4L642.0,61.1L642.6,61.2L643.1,60.7L643.7,60.5L644.3,60.4L644.8,59.9L645.4,59.7L646.0,59.6L646.5,59.8L647.1,59.8L647.6,59.4L648.2,59.5L648.8,58.9L649.3,59.1L649.9,59.1L650.5,58.8L651.0,58.6L651.6,58.3L652.1,58.4L652.7,58.4L653.3,58.0L653.8,58.4L654.4,58.2L654.9,57.7L655.5,57.6L656.1,58.0L656.6,58.0L657.2,57.6L657.8,57.4L658.3,57.9L658.9,57.5L659.4,57.6L660.0,57.7L660.6,57.6L661.1,57.5L661.7,57.3L662.2,57.5L662.8,57.0L663.4,56.8L663.9,56.9L664.5,57.4L665.1,56.9L665.6,56.8L666.2,57.4L666.7,56.9L667.3,56.6L667.9,56.3L668.4,56.3L669.0,56.6L669.5,56.5L670.1,56.1L670.7,56.8L671.2,56.5L671.8,57.0L672.4,56.3L672.9,56.5L673.5,57.0L674.0,57.1L674.6,56.8L675.2,56.7L675.7,57.5L676.3,57.4L676.8,57.3L677.4,57.7L678.0,57.1L678.5,57.3L679.1,57.1L679.7,57.6L680.2,57.6L680.8,58.1L681.3,57.9L681.9,58.0L682.5,58.0L683.0,58.6L683.6,57.7L684.1,58.6L684.7,58.3L685.3,57.8L685.8,58.4L686.4,58.2L687.0,59.1L687.5,59.0L688.1,59.4L688.6,59.7L689.2,59.9L689.8,60.1L690.3,59.9L690.9,60.0L691.5,61.4L692.0,60.9L692.6,61.4L693.1,61.8L693.7,62.6L694.3,62.5L694.8,62.8L695.4,62.9L695.9,62.7L696.5,63.0L697.1,63.2L697.6,63.3L698.2,62.3L698.8,63.2L699.3,62.4L699.9,63.5L700.4,62.9L701.0,63.1" fill="none" stroke="#46e046" stroke-width="1.25" stroke-linejoin="round"/>
<path d="M532.5,170.2L533.1,169.8L533.6,169.4L534.2,169.0L534.7,168.5L535.3,168.1L535.9,167.7L536.4,167.3L537.0,166.8L537.6,166.4L538.1,166.0L538.7,165.6L539.2,165.2L539.8,164.9L540.4,164.5L540.9,164.1L541.5,163.7L542.0,163.3L542.6,162.9L543.2,162.6L543.7,162.2L544.3,161.8L544.9,161.4L545.4,161.0L546.0,160.6L546.5,160.2L547.1,159.8L547.7,159.4L548.2,159.0L548.8,158.6L549.4,158.2L549.9,157.8L550.5,157.4L551.0,157.0L551.6,156.6L552.2,156.2L552.7,155.8L553.3,155.4L553.8,155.0L554.4,154.7L555.0,154.3L555.5,153.9L556.1,153.5L556.7,153.1L557.2,152.7L557.8,152.3L558.3,152.0L558.9,151.6L559.5,151.2L560.0,150.8L560.6,150.4L561.1,150.0L561.7,149.6L562.3,149.3L562.8,148.9L563.4,148.5L564.0,148.1L564.5,147.7L565.1,147.3L565.6,146.9L566.2,146.5L566.8,146.1L567.3,145.7L567.9,145.3L568.4,144.9L569.0,144.4L569.6,144.0L570.1,143.6L570.7,143.2L571.3,142.7L571.8,142.3L572.4,141.8L572.9,141.4L573.5,140.9L574.1,140.4L574.6,140.0L575.2,139.5L575.7,139.1L576.3,138.6L576.9,138.2L577.4,137.7L578.0,137.3L578.6,136.8L579.1,136.4L579.7,136.0L580.2,135.5L580.8,135.1L581.4,134.6L581.9,134.2L582.5,133.7L583.0,133.3L583.6,132.8L584.2,132.4L584.7,131.9L585.3,131.4L585.9,130.9L586.4,130.5L587.0,130.0L587.5,129.5L588.1,129.0L588.7,128.5L589.2,128.0L589.8,127.5L590.4,127.0L590.9,126.5L591.5,126.0L592.0,125.4L592.6,124.9L593.2,124.4L593.7,123.8L594.3,123.3L594.8,122.8L595.4,122.2L596.0,121.6L596.5,121.1L597.1,120.5L597.7,119.9L598.2,119.4L598.8,118.8L599.3,118.2L599.9,117.6L600.5,117.0L601.0,116.4L601.6,115.8L602.1,115.2L602.7,114.6L603.3,114.0L603.8,113.4L604.4,112.8L605.0,112.1L605.5,111.5L606.1,110.9L606.6,110.2L607.2,109.6L607.8,109.0L608.3,108.3L608.9,107.7L609.4,107.0L610.0,106.4L610.6,105.7L611.1,105.0L611.7,104.4L612.3,103.7L612.8,103.0L613.4,102.3L613.9,101.6L614.5,101.0L615.1,100.3L615.6,99.6L616.2,98.9L616.8,98.2L617.3,97.2L617.9,96.5L618.4,96.1L619.0,95.2L619.6,94.7L620.1,94.4L620.7,93.5L621.2,93.3L621.8,92.7L622.4,92.1L622.9,91.4L623.5,91.0L624.1,90.1L624.6,89.4L625.2,88.9L625.7,88.1L626.3,87.5L626.9,86.8L627.4,86.5L628.0,85.8L628.5,85.2L629.1,84.8L629.7,83.8L630.2,83.5L630.8,83.2L631.4,82.5L631.9,82.0L632.5,81.7L633.0,81.2L633.6,80.5L634.2,80.2L634.7,79.5L635.3,79.0L635.8,78.7L636.4,77.7L637.0,77.7L637.5,77.1L638.1,76.2L638.7,76.0L639.2,75.4L639.8,74.8L640.3,74.4L640.9,73.8L641.5,73.3L642.0,72.9L642.6,72.7L643.1,71.8L643.7,71.7L644.3,71.4L644.8,70.8L645.4,70.1L646.0,69.8L646.5,69.6L647.1,69.2L647.6,69.0L648.2,68.3L648.8,68.1L649.3,68.0L649.9,67.6L650.5,67.3L651.0,66.4L651.6,65.9L652.1,65.7L652.7,65.7L653.3,65.5L653.8,64.5L654.4,64.6L654.9,64.4L655.5,63.8L656.1,63.4L656.6,63.2L657.2,62.9L657.8,62.8L658.3,62.3L658.9,62.1L659.4,61.6L660.0,61.5L660.6,61.3L661.1,60.5L661.7,61.0L662.2,60.2L662.8,60.2L663.4,59.6L663.9,59.4L664.5,59.3L665.1,59.0L665.6,59.2L666.2,59.1L666.7,58.2L667.3,58.5L667.9,58.4L668.4,57.5L669.0,57.5L669.5,57.8L670.1,57.1L670.7,57.2L671.2,56.3L671.8,56.6L672.4,55.6L672.9,55.7L673.5,55.9L674.0,55.2L674.6,54.3L675.2,54.3L675.7,54.5L676.3,54.0L676.8,53.8L677.4,53.7L678.0,52.9L678.5,52.5L679.1,52.8L679.7,52.3L680.2,51.7L680.8,51.5L681.3,52.1L681.9,52.1L682.5,50.9L683.0,51.5L683.6,51.5L684.1,50.6L684.7,51.1L685.3,50.4L685.8,50.2L686.4,50.5L687.0,50.1L687.5,50.1L688.1,49.3L688.6,49.8L689.2,49.7L689.8,49.0L690.3,49.9L690.9,49.9L691.5,50.0L692.0,50.9L692.6,50.7L693.1,50.1L693.7,49.8L694.3,50.7L694.8,50.5L695.4,51.0L695.9,50.5L696.5,50.7L697.1,50.5L697.6,50.9L698.2,51.1L698.8,50.6L699.3,51.1L699.9,52.0L700.4,52.7L701.0,53.0" fill="none" stroke="#5a50e0" stroke-width="1.25" stroke-linejoin="round"/>
<rect x="532.5" y="18" width="168.5" height="173.6" fill="none" stroke="#6e6e6e" stroke-width="1.1"/>
<line x1="532.50" y1="191.6" x2="532.50" y2="189.79999999999998" stroke="#6e6e6e" stroke-width="1"/>
<line x1="532.50" y1="18" x2="532.50" y2="19.8" stroke="#6e6e6e" stroke-width="1"/>
<text x="532.50" y="202.79999999999998" text-anchor="middle" class="tk">400</text>
<line x1="560.58" y1="191.6" x2="560.58" y2="189.79999999999998" stroke="#6e6e6e" stroke-width="1"/>
<line x1="560.58" y1="18" x2="560.58" y2="19.8" stroke="#6e6e6e" stroke-width="1"/>
<text x="560.58" y="202.79999999999998" text-anchor="middle" class="tk">500</text>
<line x1="588.67" y1="191.6" x2="588.67" y2="189.79999999999998" stroke="#6e6e6e" stroke-width="1"/>
<line x1="588.67" y1="18" x2="588.67" y2="19.8" stroke="#6e6e6e" stroke-width="1"/>
<text x="588.67" y="202.79999999999998" text-anchor="middle" class="tk">600</text>
<line x1="616.75" y1="191.6" x2="616.75" y2="189.79999999999998" stroke="#6e6e6e" stroke-width="1"/>
<line x1="616.75" y1="18" x2="616.75" y2="19.8" stroke="#6e6e6e" stroke-width="1"/>
<text x="616.75" y="202.79999999999998" text-anchor="middle" class="tk">700</text>
<line x1="644.83" y1="191.6" x2="644.83" y2="189.79999999999998" stroke="#6e6e6e" stroke-width="1"/>
<line x1="644.83" y1="18" x2="644.83" y2="19.8" stroke="#6e6e6e" stroke-width="1"/>
<text x="644.83" y="202.79999999999998" text-anchor="middle" class="tk">800</text>
<line x1="672.92" y1="191.6" x2="672.92" y2="189.79999999999998" stroke="#6e6e6e" stroke-width="1"/>
<line x1="672.92" y1="18" x2="672.92" y2="19.8" stroke="#6e6e6e" stroke-width="1"/>
<text x="672.92" y="202.79999999999998" text-anchor="middle" class="tk">900</text>
<line x1="701.00" y1="191.6" x2="701.00" y2="189.79999999999998" stroke="#6e6e6e" stroke-width="1"/>
<line x1="701.00" y1="18" x2="701.00" y2="19.8" stroke="#6e6e6e" stroke-width="1"/>
<text x="701.00" y="202.79999999999998" text-anchor="middle" class="tk">1000</text>
<line x1="532.5" y1="191.60" x2="534.3" y2="191.60" stroke="#6e6e6e" stroke-width="1"/>
<line x1="701" y1="191.60" x2="699.2" y2="191.60" stroke="#6e6e6e" stroke-width="1"/>
<text x="528.2" y="194.60" text-anchor="end" class="tk">0</text>
<line x1="532.5" y1="174.24" x2="534.3" y2="174.24" stroke="#6e6e6e" stroke-width="1"/>
<line x1="701" y1="174.24" x2="699.2" y2="174.24" stroke="#6e6e6e" stroke-width="1"/>
<text x="528.2" y="177.24" text-anchor="end" class="tk">0.1</text>
<line x1="532.5" y1="156.88" x2="534.3" y2="156.88" stroke="#6e6e6e" stroke-width="1"/>
<line x1="701" y1="156.88" x2="699.2" y2="156.88" stroke="#6e6e6e" stroke-width="1"/>
<text x="528.2" y="159.88" text-anchor="end" class="tk">0.2</text>
<line x1="532.5" y1="139.52" x2="534.3" y2="139.52" stroke="#6e6e6e" stroke-width="1"/>
<line x1="701" y1="139.52" x2="699.2" y2="139.52" stroke="#6e6e6e" stroke-width="1"/>
<text x="528.2" y="142.52" text-anchor="end" class="tk">0.3</text>
<line x1="532.5" y1="122.16" x2="534.3" y2="122.16" stroke="#6e6e6e" stroke-width="1"/>
<line x1="701" y1="122.16" x2="699.2" y2="122.16" stroke="#6e6e6e" stroke-width="1"/>
<text x="528.2" y="125.16" text-anchor="end" class="tk">0.4</text>
<line x1="532.5" y1="104.80" x2="534.3" y2="104.80" stroke="#6e6e6e" stroke-width="1"/>
<line x1="701" y1="104.80" x2="699.2" y2="104.80" stroke="#6e6e6e" stroke-width="1"/>
<text x="528.2" y="107.80" text-anchor="end" class="tk">0.5</text>
<line x1="532.5" y1="87.44" x2="534.3" y2="87.44" stroke="#6e6e6e" stroke-width="1"/>
<line x1="701" y1="87.44" x2="699.2" y2="87.44" stroke="#6e6e6e" stroke-width="1"/>
<text x="528.2" y="90.44" text-anchor="end" class="tk">0.6</text>
<line x1="532.5" y1="70.08" x2="534.3" y2="70.08" stroke="#6e6e6e" stroke-width="1"/>
<line x1="701" y1="70.08" x2="699.2" y2="70.08" stroke="#6e6e6e" stroke-width="1"/>
<text x="528.2" y="73.08" text-anchor="end" class="tk">0.7</text>
<line x1="532.5" y1="52.72" x2="534.3" y2="52.72" stroke="#6e6e6e" stroke-width="1"/>
<line x1="701" y1="52.72" x2="699.2" y2="52.72" stroke="#6e6e6e" stroke-width="1"/>
<text x="528.2" y="55.72" text-anchor="end" class="tk">0.8</text>
<line x1="532.5" y1="35.36" x2="534.3" y2="35.36" stroke="#6e6e6e" stroke-width="1"/>
<line x1="701" y1="35.36" x2="699.2" y2="35.36" stroke="#6e6e6e" stroke-width="1"/>
<text x="528.2" y="38.36" text-anchor="end" class="tk">0.9</text>
<line x1="532.5" y1="18.00" x2="534.3" y2="18.00" stroke="#6e6e6e" stroke-width="1"/>
<line x1="701" y1="18.00" x2="699.2" y2="18.00" stroke="#6e6e6e" stroke-width="1"/>
<text x="528.2" y="21.00" text-anchor="end" class="tk">1</text>
<text x="588.45" y="13.10" textLength="56.6" lengthAdjust="spacingAndGlyphs" class="ti">Heading stage</text>
<text x="586.25" y="213.20" textLength="61" lengthAdjust="spacingAndGlyphs" class="lb">Wavelength(nm)</text>
<text transform="translate(512.90,124.50) rotate(-90)" textLength="39.4" lengthAdjust="spacingAndGlyphs" class="lb">Reflectance</text>
<rect x="621" y="142.9" width="74.70" height="37.50" fill="#fff" stroke="#6e6e6e" stroke-width="1"/>
<line x1="625.4" y1="148.00" x2="642.1" y2="148.00" stroke="#e44a58" stroke-width="1.45" opacity="0.55"/>
<text x="644.2" y="150.90" class="lg">Transition area</text>
<line x1="625.4" y1="157.20" x2="642.1" y2="157.20" stroke="#5a50e0" stroke-width="1.45" opacity="0.55"/>
<text x="644.2" y="160.10" class="lg">Center</text>
<line x1="625.4" y1="166.30" x2="642.1" y2="166.30" stroke="#f6f03a" stroke-width="1.45" opacity="0.55"/>
<text x="644.2" y="169.20" class="lg">Margin</text>
<line x1="625.4" y1="175.50" x2="642.1" y2="175.50" stroke="#46e046" stroke-width="1.45" opacity="0.55"/>
<text x="644.2" y="178.40" class="lg">Healthy tissue</text>
<rect x="83.5" y="258.4" width="169.7" height="170.0" fill="#fff"/>
<path d="M83.5,419.1L84.1,418.8L84.6,419.1L85.2,419.0L85.8,419.1L86.3,419.8L86.9,420.0L87.5,419.2L88.0,419.9L88.6,420.0L89.2,419.5L89.7,420.1L90.3,419.9L90.9,420.3L91.4,420.3L92.0,420.7L92.6,420.5L93.1,420.5L93.7,420.8L94.2,420.8L94.8,420.8L95.4,420.9L95.9,420.9L96.5,420.9L97.1,420.9L97.6,420.9L98.2,420.9L98.8,420.8L99.3,420.8L99.9,420.8L100.5,420.7L101.0,420.7L101.6,420.7L102.2,420.6L102.7,420.6L103.3,420.5L103.9,420.5L104.4,420.4L105.0,420.3L105.6,420.2L106.1,420.1L106.7,419.9L107.3,419.8L107.8,419.7L108.4,419.5L109.0,419.3L109.5,419.2L110.1,419.0L110.7,418.8L111.2,418.6L111.8,418.3L112.3,418.0L112.9,417.7L113.5,417.4L114.0,417.1L114.6,416.8L115.2,416.5L115.7,416.2L116.3,415.9L116.9,415.6L117.4,415.3L118.0,415.0L118.6,414.7L119.1,414.4L119.7,414.1L120.3,413.9L120.8,413.6L121.4,413.3L122.0,413.1L122.5,412.9L123.1,412.6L123.7,412.4L124.2,412.2L124.8,412.0L125.4,411.7L125.9,411.5L126.5,411.3L127.1,411.2L127.6,411.0L128.2,410.8L128.8,410.6L129.3,410.5L129.9,410.3L130.5,410.1L131.0,410.0L131.6,409.8L132.1,409.7L132.7,409.5L133.3,409.3L133.8,409.1L134.4,409.0L135.0,408.8L135.5,408.6L136.1,408.4L136.7,408.2L137.2,408.0L137.8,407.9L138.4,407.7L138.9,407.5L139.5,407.3L140.1,407.1L140.6,406.9L141.2,406.8L141.8,406.6L142.3,406.4L142.9,406.2L143.5,406.0L144.0,405.9L144.6,405.7L145.2,405.5L145.7,405.2L146.3,405.0L146.9,404.7L147.4,404.5L148.0,404.3L148.6,404.1L149.1,404.1L149.7,404.1L150.2,404.1L150.8,404.1L151.4,404.1L151.9,404.1L152.5,404.1L153.1,404.1L153.6,404.1L154.2,404.2L154.8,404.3L155.3,404.5L155.9,404.6L156.5,404.8L157.0,405.0L157.6,405.1L158.2,405.2L158.7,405.2L159.3,405.3L159.9,405.3L160.4,405.1L161.0,404.4L161.6,403.4L162.1,402.3L162.7,400.9L163.3,399.0L163.8,396.9L164.4,394.8L165.0,392.5L165.5,390.1L166.1,387.8L166.7,385.7L167.2,383.9L167.8,382.2L168.3,380.7L168.9,379.2L169.5,377.9L170.0,376.6L170.6,375.4L171.2,374.2L171.7,373.0L172.3,371.8L172.9,370.6L173.4,369.3L174.0,368.3L174.6,366.8L175.1,365.7L175.7,364.6L176.3,363.6L176.8,362.2L177.4,361.3L178.0,360.3L178.5,359.3L179.1,358.5L179.7,357.6L180.2,357.0L180.8,356.1L181.4,355.5L181.9,354.5L182.5,353.8L183.1,353.5L183.6,352.8L184.2,352.1L184.8,351.0L185.3,350.6L185.9,349.9L186.5,349.4L187.0,348.6L187.6,348.0L188.1,347.4L188.7,346.6L189.3,346.0L189.8,345.2L190.4,344.7L191.0,343.9L191.5,343.4L192.1,342.7L192.7,342.3L193.2,342.0L193.8,341.0L194.4,340.3L194.9,339.8L195.5,339.5L196.1,338.8L196.6,338.6L197.2,337.6L197.8,337.2L198.3,336.9L198.9,336.5L199.5,335.4L200.0,334.7L200.6,334.9L201.2,333.8L201.7,333.6L202.3,333.3L202.9,332.6L203.4,331.7L204.0,331.1L204.6,331.3L205.1,330.3L205.7,330.3L206.2,329.2L206.8,329.1L207.4,328.2L207.9,327.7L208.5,327.7L209.1,326.8L209.6,327.1L210.2,327.0L210.8,326.1L211.3,326.3L211.9,325.7L212.5,325.2L213.0,324.6L213.6,324.6L214.2,324.4L214.7,323.1L215.3,323.2L215.9,322.1L216.4,321.7L217.0,321.8L217.6,321.2L218.1,320.7L218.7,320.1L219.3,319.7L219.8,319.4L220.4,318.9L221.0,318.2L221.5,318.3L222.1,318.1L222.7,317.5L223.2,317.8L223.8,317.4L224.4,316.3L224.9,316.6L225.5,316.4L226.0,316.8L226.6,316.1L227.2,315.6L227.7,316.1L228.3,315.1L228.9,314.9L229.4,315.4L230.0,314.5L230.6,314.6L231.1,314.1L231.7,314.4L232.3,313.7L232.8,313.5L233.4,314.3L234.0,314.0L234.5,313.0L235.1,312.3L235.7,313.0L236.2,312.5L236.8,312.0L237.4,312.1L237.9,311.9L238.5,311.9L239.1,311.8L239.6,311.5L240.2,312.0L240.8,312.0L241.3,311.5L241.9,312.8L242.5,312.1L243.0,311.9L243.6,312.7L244.1,313.0L244.7,312.3L245.3,313.3L245.8,313.5L246.4,313.3L247.0,313.0L247.5,314.0L248.1,313.7L248.7,313.7L249.2,312.9L249.8,313.6L250.4,312.9L250.9,314.1L251.5,313.8L252.1,313.3L252.6,313.0L253.2,313.7" fill="none" stroke="#e42c3a" stroke-width="1.25" stroke-linejoin="round"/>
<path d="M83.5,417.7L84.1,417.6L84.6,417.7L85.2,418.4L85.8,418.6L86.3,418.3L86.9,418.5L87.5,418.0L88.0,418.2L88.6,418.3L89.2,418.4L89.7,418.3L90.3,418.8L90.9,418.6L91.4,418.8L92.0,418.4L92.6,418.9L93.1,418.5L93.7,418.9L94.2,418.6L94.8,418.8L95.4,418.7L95.9,418.7L96.5,418.7L97.1,418.7L97.6,418.7L98.2,418.7L98.8,418.7L99.3,418.7L99.9,418.7L100.5,418.7L101.0,418.7L101.6,418.7L102.2,418.7L102.7,418.7L103.3,418.7L103.9,418.7L104.4,418.6L105.0,418.5L105.6,418.4L106.1,418.3L106.7,418.2L107.3,418.1L107.8,417.9L108.4,417.7L109.0,417.5L109.5,417.1L110.1,416.6L110.7,416.0L111.2,415.3L111.8,414.5L112.3,413.6L112.9,412.6L113.5,411.3L114.0,409.8L114.6,408.3L115.2,406.8L115.7,405.3L116.3,403.9L116.9,402.4L117.4,400.9L118.0,399.5L118.6,398.2L119.1,397.0L119.7,396.1L120.3,395.3L120.8,394.5L121.4,393.7L122.0,393.1L122.5,392.6L123.1,392.3L123.7,392.1L124.2,391.8L124.8,391.7L125.4,391.5L125.9,391.5L126.5,391.6L127.1,392.0L127.6,392.5L128.2,393.1L128.8,393.7L129.3,394.4L129.9,395.4L130.5,396.5L131.0,397.6L131.6,398.6L132.1,399.6L132.7,400.5L133.3,401.4L133.8,402.2L134.4,402.9L135.0,403.4L135.5,403.8L136.1,404.1L136.7,404.4L137.2,404.7L137.8,405.0L138.4,405.4L138.9,405.8L139.5,406.3L140.1,406.8L140.6,407.3L141.2,407.7L141.8,408.1L142.3,408.5L142.9,408.9L143.5,409.3L144.0,409.6L144.6,409.9L145.2,410.2L145.7,410.5L146.3,410.8L146.9,411.0L147.4,411.2L148.0,411.4L148.6,411.7L149.1,411.9L149.7,412.3L150.2,412.7L150.8,413.2L151.4,413.7L151.9,414.2L152.5,414.7L153.1,415.1L153.6,415.6L154.2,416.1L154.8,416.6L155.3,417.1L155.9,417.5L156.5,417.8L157.0,418.0L157.6,418.3L158.2,418.5L158.7,418.7L159.3,418.7L159.9,418.6L160.4,418.3L161.0,417.9L161.6,417.4L162.1,416.8L162.7,415.9L163.3,414.5L163.8,412.7L164.4,410.6L165.0,407.9L165.5,404.4L166.1,400.6L166.7,396.8L167.2,392.9L167.8,388.7L168.3,384.4L168.9,379.9L169.5,375.0L170.0,369.9L170.6,365.0L171.2,360.2L171.7,355.4L172.3,350.8L172.9,346.6L173.4,342.6L174.0,338.8L174.6,335.0L175.1,332.1L175.7,329.5L176.3,326.7L176.8,324.6L177.4,322.8L178.0,320.8L178.5,319.6L179.1,318.9L179.7,317.9L180.2,317.2L180.8,316.4L181.4,315.7L181.9,315.4L182.5,314.7L183.1,314.6L183.6,314.2L184.2,313.5L184.8,313.4L185.3,313.1L185.9,312.7L186.5,312.5L187.0,312.3L187.6,312.3L188.1,311.6L188.7,311.3L189.3,311.1L189.8,311.0L190.4,311.0L191.0,310.8L191.5,310.4L192.1,310.2L192.7,310.3L193.2,310.0L193.8,309.7L194.4,309.4L194.9,308.9L195.5,308.9L196.1,309.0L196.6,308.1L197.2,308.2L197.8,307.9L198.3,307.8L198.9,307.5L199.5,307.3L200.0,306.8L200.6,307.1L201.2,306.5L201.7,306.6L202.3,306.0L202.9,306.3L203.4,305.9L204.0,305.7L204.6,305.2L205.1,305.5L205.7,305.0L206.2,305.1L206.8,304.9L207.4,304.6L207.9,304.0L208.5,304.4L209.1,303.8L209.6,304.5L210.2,303.7L210.8,304.2L211.3,304.2L211.9,303.6L212.5,303.4L213.0,304.2L213.6,303.8L214.2,303.2L214.7,303.5L215.3,303.4L215.9,303.5L216.4,303.2L217.0,302.4L217.6,301.9L218.1,301.7L218.7,302.3L219.3,302.8L219.8,302.5L220.4,302.0L221.0,302.0L221.5,302.2L222.1,302.7L222.7,302.4L223.2,302.5L223.8,302.4L224.4,302.9L224.9,302.1L225.5,302.2L226.0,303.2L226.6,303.1L227.2,302.5L227.7,303.3L228.3,302.5L228.9,303.1L229.4,303.0L230.0,303.0L230.6,303.7L231.1,303.6L231.7,303.7L232.3,303.2L232.8,303.2L233.4,304.0L234.0,303.0L234.5,303.6L235.1,303.9L235.7,303.7L236.2,303.0L236.8,303.7L237.4,303.7L237.9,303.4L238.5,303.5L239.1,304.0L239.6,304.7L240.2,304.6L240.8,304.3L241.3,304.7L241.9,305.1L242.5,305.7L243.0,305.8L243.6,305.5L244.1,305.9L244.7,306.9L245.3,306.0L245.8,305.9L246.4,306.2L247.0,306.2L247.5,306.3L248.1,307.0L248.7,306.7L249.2,307.5L249.8,308.1L250.4,307.9L250.9,308.1L251.5,307.3L252.1,307.9L252.6,308.4L253.2,308.5" fill="none" stroke="#339a46" stroke-width="1.25" stroke-linejoin="round"/>
<rect x="83.5" y="258.4" width="169.7" height="170.0" fill="none" stroke="#6e6e6e" stroke-width="1.1"/>
<line x1="83.50" y1="428.4" x2="83.50" y2="426.59999999999997" stroke="#6e6e6e" stroke-width="1"/>
<line x1="83.50" y1="258.4" x2="83.50" y2="260.2" stroke="#6e6e6e" stroke-width="1"/>
<text x="83.50" y="439.59999999999997" text-anchor="middle" class="tk">400</text>
<line x1="111.78" y1="428.4" x2="111.78" y2="426.59999999999997" stroke="#6e6e6e" stroke-width="1"/>
<line x1="111.78" y1="258.4" x2="111.78" y2="260.2" stroke="#6e6e6e" stroke-width="1"/>
<text x="111.78" y="439.59999999999997" text-anchor="middle" class="tk">500</text>
<line x1="140.07" y1="428.4" x2="140.07" y2="426.59999999999997" stroke="#6e6e6e" stroke-width="1"/>
<line x1="140.07" y1="258.4" x2="140.07" y2="260.2" stroke="#6e6e6e" stroke-width="1"/>
<text x="140.07" y="439.59999999999997" text-anchor="middle" class="tk">600</text>
<line x1="168.35" y1="428.4" x2="168.35" y2="426.59999999999997" stroke="#6e6e6e" stroke-width="1"/>
<line x1="168.35" y1="258.4" x2="168.35" y2="260.2" stroke="#6e6e6e" stroke-width="1"/>
<text x="168.35" y="439.59999999999997" text-anchor="middle" class="tk">700</text>
<line x1="196.63" y1="428.4" x2="196.63" y2="426.59999999999997" stroke="#6e6e6e" stroke-width="1"/>
<line x1="196.63" y1="258.4" x2="196.63" y2="260.2" stroke="#6e6e6e" stroke-width="1"/>
<text x="196.63" y="439.59999999999997" text-anchor="middle" class="tk">800</text>
<line x1="224.92" y1="428.4" x2="224.92" y2="426.59999999999997" stroke="#6e6e6e" stroke-width="1"/>
<line x1="224.92" y1="258.4" x2="224.92" y2="260.2" stroke="#6e6e6e" stroke-width="1"/>
<text x="224.92" y="439.59999999999997" text-anchor="middle" class="tk">900</text>
<line x1="253.20" y1="428.4" x2="253.20" y2="426.59999999999997" stroke="#6e6e6e" stroke-width="1"/>
<line x1="253.20" y1="258.4" x2="253.20" y2="260.2" stroke="#6e6e6e" stroke-width="1"/>
<text x="253.20" y="439.59999999999997" text-anchor="middle" class="tk">1000</text>
<line x1="83.5" y1="428.40" x2="85.3" y2="428.40" stroke="#6e6e6e" stroke-width="1"/>
<line x1="253.2" y1="428.40" x2="251.39999999999998" y2="428.40" stroke="#6e6e6e" stroke-width="1"/>
<text x="79.2" y="431.40" text-anchor="end" class="tk">0</text>
<line x1="83.5" y1="394.40" x2="85.3" y2="394.40" stroke="#6e6e6e" stroke-width="1"/>
<line x1="253.2" y1="394.40" x2="251.39999999999998" y2="394.40" stroke="#6e6e6e" stroke-width="1"/>
<text x="79.2" y="397.40" text-anchor="end" class="tk">0.2</text>
<line x1="83.5" y1="360.40" x2="85.3" y2="360.40" stroke="#6e6e6e" stroke-width="1"/>
<line x1="253.2" y1="360.40" x2="251.39999999999998" y2="360.40" stroke="#6e6e6e" stroke-width="1"/>
<text x="79.2" y="363.40" text-anchor="end" class="tk">0.4</text>
<line x1="83.5" y1="326.40" x2="85.3" y2="326.40" stroke="#6e6e6e" stroke-width="1"/>
<line x1="253.2" y1="326.40" x2="251.39999999999998" y2="326.40" stroke="#6e6e6e" stroke-width="1"/>
<text x="79.2" y="329.40" text-anchor="end" class="tk">0.6</text>
<line x1="83.5" y1="292.40" x2="85.3" y2="292.40" stroke="#6e6e6e" stroke-width="1"/>
<line x1="253.2" y1="292.40" x2="251.39999999999998" y2="292.40" stroke="#6e6e6e" stroke-width="1"/>
<text x="79.2" y="295.40" text-anchor="end" class="tk">0.8</text>
<line x1="83.5" y1="258.40" x2="85.3" y2="258.40" stroke="#6e6e6e" stroke-width="1"/>
<line x1="253.2" y1="258.40" x2="251.39999999999998" y2="258.40" stroke="#6e6e6e" stroke-width="1"/>
<text x="79.2" y="261.40" text-anchor="end" class="tk">1</text>
<text x="140.70" y="255.10" textLength="55.3" lengthAdjust="spacingAndGlyphs" class="ti">Jointing stage</text>
<text x="137.85" y="450.00" textLength="61" lengthAdjust="spacingAndGlyphs" class="lb">Wavelength(nm)</text>
<text transform="translate(63.90,363.10) rotate(-90)" textLength="39.4" lengthAdjust="spacingAndGlyphs" class="lb">Reflectance</text>
<rect x="176.2" y="398.1" width="69.10" height="19.80" fill="#fff" stroke="#6e6e6e" stroke-width="1"/>
<line x1="178.8" y1="403.70" x2="195.7" y2="403.70" stroke="#e42c3a" stroke-width="1.45" opacity="0.55"/>
<text x="197.6" y="406.60" class="lg">Lesion</text>
<line x1="178.8" y1="412.50" x2="195.7" y2="412.50" stroke="#339a46" stroke-width="1.45" opacity="0.55"/>
<text x="197.6" y="415.40" class="lg">Healthy tissue</text>
<rect x="307.4" y="258.4" width="169.8" height="170.0" fill="#fff"/>
<path d="M307.4,416.2L308.0,416.0L308.5,416.5L309.1,416.4L309.7,416.6L310.2,417.5L310.8,417.8L311.4,417.1L311.9,417.8L312.5,418.0L313.1,417.4L313.6,418.0L314.2,417.8L314.8,418.2L315.3,418.2L315.9,418.6L316.5,418.4L317.0,418.4L317.6,418.6L318.2,418.6L318.7,418.6L319.3,418.7L319.9,418.7L320.4,418.7L321.0,418.7L321.5,418.6L322.1,418.6L322.7,418.5L323.2,418.5L323.8,418.4L324.4,418.3L324.9,418.3L325.5,418.2L326.1,418.1L326.6,418.0L327.2,418.0L327.8,417.9L328.3,417.8L328.9,417.7L329.5,417.6L330.0,417.4L330.6,417.3L331.2,417.2L331.7,417.0L332.3,416.9L332.9,416.7L333.4,416.6L334.0,416.4L334.6,416.2L335.1,416.0L335.7,415.8L336.3,415.6L336.8,415.4L337.4,415.2L338.0,414.9L338.5,414.7L339.1,414.5L339.7,414.2L340.2,413.9L340.8,413.6L341.4,413.3L341.9,413.0L342.5,412.7L343.1,412.4L343.6,412.1L344.2,411.9L344.8,411.6L345.3,411.3L345.9,411.1L346.5,410.8L347.0,410.6L347.6,410.3L348.2,410.1L348.7,409.8L349.3,409.6L349.8,409.4L350.4,409.2L351.0,409.0L351.5,408.8L352.1,408.6L352.7,408.4L353.2,408.3L353.8,408.1L354.4,407.9L354.9,407.7L355.5,407.5L356.1,407.4L356.6,407.1L357.2,406.9L357.8,406.7L358.3,406.5L358.9,406.3L359.5,406.1L360.0,405.9L360.6,405.6L361.2,405.4L361.7,405.2L362.3,404.9L362.9,404.7L363.4,404.5L364.0,404.2L364.6,404.0L365.1,403.8L365.7,403.5L366.3,403.2L366.8,403.0L367.4,402.7L368.0,402.4L368.5,402.0L369.1,401.7L369.7,401.3L370.2,400.9L370.8,400.6L371.4,400.2L371.9,399.8L372.5,399.5L373.1,399.2L373.6,398.9L374.2,398.6L374.8,398.3L375.3,398.0L375.9,397.7L376.5,397.4L377.0,397.2L377.6,396.9L378.1,396.6L378.7,396.3L379.3,396.1L379.8,395.8L380.4,395.6L381.0,395.4L381.5,395.1L382.1,394.8L382.7,394.6L383.2,394.2L383.8,393.8L384.4,393.3L384.9,392.5L385.5,391.6L386.1,390.7L386.6,389.6L387.2,388.6L387.8,387.6L388.3,386.4L388.9,385.3L389.5,384.1L390.0,382.9L390.6,381.6L391.2,380.4L391.7,379.1L392.3,377.8L392.9,376.6L393.4,375.3L394.0,374.0L394.6,372.7L395.1,371.4L395.7,370.2L396.3,369.1L396.8,368.0L397.4,367.0L398.0,366.1L398.5,364.9L399.1,364.0L399.7,363.2L400.2,362.3L400.8,361.1L401.4,360.4L401.9,359.4L402.5,358.5L403.1,357.7L403.6,356.8L404.2,356.2L404.8,355.2L405.3,354.5L405.9,353.5L406.4,352.8L407.0,352.3L407.6,351.6L408.1,350.8L408.7,349.7L409.3,349.2L409.8,348.4L410.4,347.8L411.0,347.0L411.5,346.4L412.1,345.8L412.7,345.0L413.2,344.3L413.8,343.5L414.4,343.0L414.9,342.2L415.5,341.5L416.1,340.8L416.6,340.3L417.2,339.9L417.8,338.8L418.3,338.1L418.9,337.4L419.5,337.0L420.0,336.2L420.6,335.8L421.2,334.7L421.7,334.2L422.3,333.7L422.9,333.2L423.4,332.0L424.0,331.2L424.6,331.1L425.1,329.9L425.7,329.5L426.3,329.0L426.8,328.2L427.4,327.1L428.0,326.4L428.5,326.3L429.1,325.2L429.7,324.9L430.2,323.8L430.8,323.4L431.4,322.4L431.9,321.7L432.5,321.5L433.1,320.6L433.6,320.6L434.2,320.2L434.8,319.2L435.3,319.2L435.9,318.5L436.4,317.8L437.0,317.0L437.6,316.8L438.1,316.3L438.7,315.0L439.3,314.8L439.8,313.5L440.4,312.8L441.0,312.6L441.5,311.9L442.1,311.3L442.7,310.7L443.2,310.4L443.8,310.1L444.4,309.7L444.9,309.1L445.5,309.3L446.1,309.1L446.6,308.6L447.2,308.8L447.8,308.5L448.3,307.5L448.9,307.7L449.5,307.4L450.0,307.6L450.6,306.9L451.2,306.5L451.7,306.8L452.3,305.9L452.9,305.6L453.4,305.9L454.0,305.0L454.6,304.9L455.1,304.4L455.7,304.5L456.3,303.8L456.8,303.5L457.4,304.1L458.0,303.8L458.5,302.8L459.1,302.3L459.7,302.9L460.2,302.5L460.8,302.2L461.4,302.3L461.9,302.1L462.5,302.1L463.0,301.9L463.6,301.5L464.2,301.7L464.7,301.5L465.3,300.9L465.9,301.8L466.4,301.0L467.0,300.7L467.6,301.1L468.1,301.2L468.7,300.4L469.3,301.1L469.8,301.1L470.4,300.9L471.0,300.6L471.5,301.5L472.1,301.4L472.7,301.6L473.2,301.1L473.8,301.6L474.4,301.1L474.9,301.9L475.5,301.5L476.1,300.9L476.6,300.4L477.2,300.8" fill="none" stroke="#e42c3a" stroke-width="1.25" stroke-linejoin="round"/>
<path d="M307.4,414.8L308.0,414.7L308.5,414.8L309.1,415.6L309.7,415.9L310.2,415.6L310.8,415.8L311.4,415.4L311.9,415.6L312.5,415.8L313.1,415.9L313.6,415.9L314.2,416.4L314.8,416.2L315.3,416.5L315.9,416.1L316.5,416.7L317.0,416.3L317.6,416.7L318.2,416.5L318.7,416.7L319.3,416.7L319.9,416.7L320.4,416.7L321.0,416.7L321.5,416.7L322.1,416.8L322.7,416.8L323.2,416.8L323.8,416.8L324.4,416.8L324.9,416.8L325.5,416.8L326.1,416.8L326.6,416.8L327.2,416.8L327.8,416.8L328.3,416.8L328.9,416.8L329.5,416.8L330.0,416.8L330.6,416.8L331.2,416.7L331.7,416.7L332.3,416.7L332.9,416.6L333.4,416.4L334.0,416.0L334.6,415.6L335.1,415.1L335.7,414.5L336.3,413.6L336.8,412.5L337.4,411.1L338.0,409.7L338.5,408.2L339.1,406.7L339.7,405.0L340.2,403.1L340.8,401.0L341.4,399.0L341.9,397.2L342.5,395.6L343.1,394.4L343.6,393.2L344.2,392.0L344.8,391.0L345.3,390.2L345.9,389.6L346.5,389.2L347.0,389.0L347.6,388.7L348.2,388.6L348.7,388.4L349.3,388.3L349.8,388.3L350.4,388.4L351.0,388.8L351.5,389.3L352.1,390.0L352.7,390.7L353.2,391.5L353.8,392.6L354.4,393.9L354.9,395.1L355.5,396.3L356.1,397.3L356.6,398.3L357.2,399.2L357.8,400.1L358.3,400.8L358.9,401.3L359.5,401.8L360.0,402.2L360.6,402.5L361.2,402.8L361.7,403.2L362.3,403.5L362.9,403.9L363.4,404.3L364.0,404.8L364.6,405.3L365.1,405.8L365.7,406.3L366.3,406.8L366.8,407.2L367.4,407.6L368.0,407.8L368.5,408.1L369.1,408.3L369.7,408.5L370.2,408.7L370.8,408.9L371.4,409.2L371.9,409.6L372.5,410.0L373.1,410.5L373.6,411.0L374.2,411.6L374.8,412.1L375.3,412.7L375.9,413.2L376.5,413.7L377.0,414.2L377.6,414.7L378.1,415.2L378.7,415.6L379.3,416.0L379.8,416.4L380.4,416.7L381.0,417.0L381.5,417.3L382.1,417.5L382.7,417.6L383.2,417.7L383.8,417.6L384.4,417.4L384.9,417.1L385.5,416.7L386.1,416.2L386.6,415.5L387.2,414.3L387.8,412.7L388.3,410.8L388.9,407.8L389.5,403.5L390.0,398.8L390.6,394.1L391.2,389.4L391.7,384.5L392.3,379.4L392.9,374.3L393.4,368.9L394.0,363.4L394.6,358.1L395.1,353.3L395.7,348.5L396.3,343.9L396.8,339.4L397.4,335.1L398.0,331.1L398.5,327.2L399.1,324.0L399.7,320.6L400.2,317.2L400.8,314.9L401.4,313.1L401.9,311.0L402.5,309.5L403.1,308.6L403.6,307.5L404.2,306.9L404.8,306.1L405.3,305.5L405.9,305.2L406.4,304.5L407.0,304.4L407.6,304.0L408.1,303.4L408.7,303.4L409.3,303.1L409.8,302.8L410.4,302.7L411.0,302.5L411.5,302.5L412.1,302.0L412.7,301.7L413.2,301.5L413.8,301.5L414.4,301.5L414.9,301.3L415.5,301.0L416.1,300.8L416.6,301.0L417.2,300.7L417.8,300.5L418.3,300.2L418.9,299.9L419.5,299.9L420.0,300.0L420.6,299.3L421.2,299.4L421.7,299.1L422.3,299.1L422.9,298.8L423.4,298.6L424.0,298.1L424.6,298.4L425.1,297.9L425.7,298.0L426.3,297.5L426.8,297.8L427.4,297.5L428.0,297.3L428.5,297.0L429.1,297.3L429.7,296.9L430.2,297.0L430.8,296.9L431.4,296.6L431.9,296.1L432.5,296.4L433.1,295.9L433.6,296.5L434.2,295.7L434.8,296.1L435.3,296.1L435.9,295.5L436.4,295.2L437.0,295.9L437.6,295.5L438.1,295.0L438.7,295.2L439.3,295.2L439.8,295.3L440.4,295.2L441.0,294.6L441.5,294.2L442.1,294.2L442.7,294.6L443.2,295.1L443.8,294.9L444.4,294.5L444.9,294.6L445.5,294.9L446.1,295.4L446.6,295.2L447.2,295.3L447.8,295.3L448.3,295.7L448.9,295.1L449.5,295.1L450.0,295.9L450.6,295.8L451.2,295.2L451.7,295.9L452.3,295.2L452.9,295.7L453.4,295.5L454.0,295.6L454.6,296.2L455.1,296.2L455.7,296.3L456.3,296.0L456.8,296.1L457.4,296.8L458.0,296.1L458.5,296.8L459.1,297.1L459.7,297.0L460.2,296.5L460.8,297.1L461.4,297.2L461.9,297.0L462.5,297.0L463.0,297.4L463.6,297.9L464.2,297.9L464.7,297.7L465.3,297.9L465.9,298.4L466.4,298.9L467.0,299.1L467.6,298.8L468.1,299.3L468.7,300.2L469.3,299.5L469.8,299.4L470.4,299.6L471.0,299.5L471.5,299.6L472.1,300.1L472.7,299.9L473.2,300.5L473.8,300.9L474.4,300.6L474.9,300.7L475.5,300.0L476.1,300.4L476.6,300.6L477.2,300.6" fill="none" stroke="#339a46" stroke-width="1.25" stroke-linejoin="round"/>
<rect x="307.4" y="258.4" width="169.8" height="170.0" fill="none" stroke="#6e6e6e" stroke-width="1.1"/>
<line x1="307.40" y1="428.4" x2="307.40" y2="426.59999999999997" stroke="#6e6e6e" stroke-width="1"/>
<line x1="307.40" y1="258.4" x2="307.40" y2="260.2" stroke="#6e6e6e" stroke-width="1"/>
<text x="307.40" y="439.59999999999997" text-anchor="middle" class="tk">400</text>
<line x1="335.70" y1="428.4" x2="335.70" y2="426.59999999999997" stroke="#6e6e6e" stroke-width="1"/>
<line x1="335.70" y1="258.4" x2="335.70" y2="260.2" stroke="#6e6e6e" stroke-width="1"/>
<text x="335.70" y="439.59999999999997" text-anchor="middle" class="tk">500</text>
<line x1="364.00" y1="428.4" x2="364.00" y2="426.59999999999997" stroke="#6e6e6e" stroke-width="1"/>
<line x1="364.00" y1="258.4" x2="364.00" y2="260.2" stroke="#6e6e6e" stroke-width="1"/>
<text x="364.00" y="439.59999999999997" text-anchor="middle" class="tk">600</text>
<line x1="392.30" y1="428.4" x2="392.30" y2="426.59999999999997" stroke="#6e6e6e" stroke-width="1"/>
<line x1="392.30" y1="258.4" x2="392.30" y2="260.2" stroke="#6e6e6e" stroke-width="1"/>
<text x="392.30" y="439.59999999999997" text-anchor="middle" class="tk">700</text>
<line x1="420.60" y1="428.4" x2="420.60" y2="426.59999999999997" stroke="#6e6e6e" stroke-width="1"/>
<line x1="420.60" y1="258.4" x2="420.60" y2="260.2" stroke="#6e6e6e" stroke-width="1"/>
<text x="420.60" y="439.59999999999997" text-anchor="middle" class="tk">800</text>
<line x1="448.90" y1="428.4" x2="448.90" y2="426.59999999999997" stroke="#6e6e6e" stroke-width="1"/>
<line x1="448.90" y1="258.4" x2="448.90" y2="260.2" stroke="#6e6e6e" stroke-width="1"/>
<text x="448.90" y="439.59999999999997" text-anchor="middle" class="tk">900</text>
<line x1="477.20" y1="428.4" x2="477.20" y2="426.59999999999997" stroke="#6e6e6e" stroke-width="1"/>
<line x1="477.20" y1="258.4" x2="477.20" y2="260.2" stroke="#6e6e6e" stroke-width="1"/>
<text x="477.20" y="439.59999999999997" text-anchor="middle" class="tk">1000</text>
<line x1="307.4" y1="428.40" x2="309.2" y2="428.40" stroke="#6e6e6e" stroke-width="1"/>
<line x1="477.2" y1="428.40" x2="475.4" y2="428.40" stroke="#6e6e6e" stroke-width="1"/>
<text x="303.09999999999997" y="431.40" text-anchor="end" class="tk">0</text>
<line x1="307.4" y1="394.40" x2="309.2" y2="394.40" stroke="#6e6e6e" stroke-width="1"/>
<line x1="477.2" y1="394.40" x2="475.4" y2="394.40" stroke="#6e6e6e" stroke-width="1"/>
<text x="303.09999999999997" y="397.40" text-anchor="end" class="tk">0.2</text>
<line x1="307.4" y1="360.40" x2="309.2" y2="360.40" stroke="#6e6e6e" stroke-width="1"/>
<line x1="477.2" y1="360.40" x2="475.4" y2="360.40" stroke="#6e6e6e" stroke-width="1"/>
<text x="303.09999999999997" y="363.40" text-anchor="end" class="tk">0.4</text>
<line x1="307.4" y1="326.40" x2="309.2" y2="326.40" stroke="#6e6e6e" stroke-width="1"/>
<line x1="477.2" y1="326.40" x2="475.4" y2="326.40" stroke="#6e6e6e" stroke-width="1"/>
<text x="303.09999999999997" y="329.40" text-anchor="end" class="tk">0.6</text>
<line x1="307.4" y1="292.40" x2="309.2" y2="292.40" stroke="#6e6e6e" stroke-width="1"/>
<line x1="477.2" y1="292.40" x2="475.4" y2="292.40" stroke="#6e6e6e" stroke-width="1"/>
<text x="303.09999999999997" y="295.40" text-anchor="end" class="tk">0.8</text>
<line x1="307.4" y1="258.40" x2="309.2" y2="258.40" stroke="#6e6e6e" stroke-width="1"/>
<line x1="477.2" y1="258.40" x2="475.4" y2="258.40" stroke="#6e6e6e" stroke-width="1"/>
<text x="303.09999999999997" y="261.40" text-anchor="end" class="tk">1</text>
<text x="365.05" y="255.10" textLength="54.5" lengthAdjust="spacingAndGlyphs" class="ti">booting stage</text>
<text x="361.80" y="450.00" textLength="61" lengthAdjust="spacingAndGlyphs" class="lb">Wavelength(nm)</text>
<text transform="translate(287.80,363.10) rotate(-90)" textLength="39.4" lengthAdjust="spacingAndGlyphs" class="lb">Reflectance</text>
<rect x="398.1" y="396.3" width="73.70" height="23.50" fill="#fff" stroke="#6e6e6e" stroke-width="1"/>
<line x1="402.8" y1="402.70" x2="419.6" y2="402.70" stroke="#e42c3a" stroke-width="1.45" opacity="0.55"/>
<text x="421.8" y="405.60" class="lg">Lesion</text>
<line x1="402.8" y1="413.20" x2="419.6" y2="413.20" stroke="#339a46" stroke-width="1.45" opacity="0.55"/>
<text x="421.8" y="416.10" class="lg">Healthy tissue</text>
<rect x="531" y="258.4" width="169.60000000000002" height="169.8" fill="#fff"/>
<path d="M531.0,416.2L531.6,416.0L532.1,416.5L532.7,416.5L533.3,416.7L533.8,417.6L534.4,417.9L535.0,417.2L535.5,418.0L536.1,418.2L536.7,417.7L537.2,418.4L537.8,418.3L538.3,418.8L538.9,418.8L539.5,419.3L540.0,419.2L540.6,419.2L541.2,419.4L541.7,419.4L542.3,419.5L542.9,419.5L543.4,419.5L544.0,419.5L544.6,419.5L545.1,419.5L545.7,419.5L546.3,419.5L546.8,419.5L547.4,419.5L548.0,419.5L548.5,419.5L549.1,419.5L549.7,419.5L550.2,419.5L550.8,419.5L551.4,419.5L551.9,419.4L552.5,419.4L553.0,419.3L553.6,419.2L554.2,419.2L554.7,419.1L555.3,419.0L555.9,418.9L556.4,418.8L557.0,418.7L557.6,418.6L558.1,418.4L558.7,418.3L559.3,418.1L559.8,417.9L560.4,417.6L561.0,417.4L561.5,417.2L562.1,416.9L562.7,416.7L563.2,416.5L563.8,416.2L564.4,415.9L564.9,415.6L565.5,415.4L566.1,415.1L566.6,414.8L567.2,414.5L567.7,414.3L568.3,414.0L568.9,413.8L569.4,413.6L570.0,413.5L570.6,413.3L571.1,413.1L571.7,412.9L572.3,412.8L572.8,412.6L573.4,412.5L574.0,412.3L574.5,412.2L575.1,412.1L575.7,411.9L576.2,411.8L576.8,411.7L577.4,411.5L577.9,411.4L578.5,411.3L579.1,411.2L579.6,411.0L580.2,410.9L580.7,410.7L581.3,410.6L581.9,410.4L582.4,410.2L583.0,410.0L583.6,409.8L584.1,409.7L584.7,409.5L585.3,409.3L585.8,409.0L586.4,408.8L587.0,408.6L587.5,408.4L588.1,408.1L588.7,407.9L589.2,407.6L589.8,407.3L590.4,407.1L590.9,406.8L591.5,406.6L592.1,406.3L592.6,406.1L593.2,405.8L593.8,405.6L594.3,405.3L594.9,405.0L595.4,404.8L596.0,404.6L596.6,404.3L597.1,404.1L597.7,403.8L598.3,403.6L598.8,403.4L599.4,403.2L600.0,402.9L600.5,402.7L601.1,402.5L601.7,402.3L602.2,402.1L602.8,401.9L603.4,401.7L603.9,401.5L604.5,401.3L605.1,401.2L605.6,401.0L606.2,400.8L606.8,400.6L607.3,400.4L607.9,400.0L608.5,399.6L609.0,398.9L609.6,398.2L610.1,397.3L610.7,396.4L611.3,395.2L611.8,393.7L612.4,392.1L613.0,390.5L613.5,389.1L614.1,387.8L614.7,386.5L615.2,385.2L615.8,384.0L616.4,382.9L616.9,381.8L617.5,380.8L618.1,379.8L618.6,378.8L619.2,377.9L619.8,377.0L620.3,376.1L620.9,375.3L621.5,374.5L622.0,373.4L622.6,372.4L623.1,371.5L623.7,370.5L624.3,369.1L624.8,368.1L625.4,366.9L626.0,365.8L626.5,365.0L627.1,364.0L627.7,363.4L628.2,362.4L628.8,361.7L629.4,360.7L629.9,360.0L630.5,359.5L631.1,358.8L631.6,358.0L632.2,356.9L632.8,356.4L633.3,355.6L633.9,355.0L634.5,354.1L635.0,353.4L635.6,352.7L636.2,351.8L636.7,351.1L637.3,350.2L637.8,349.6L638.4,348.7L639.0,348.0L639.5,347.2L640.1,346.7L640.7,346.2L641.2,345.2L641.8,344.4L642.4,343.7L642.9,343.2L643.5,342.4L644.1,342.0L644.6,340.9L645.2,340.4L645.8,339.9L646.3,339.4L646.9,338.3L647.5,337.5L648.0,337.4L648.6,336.4L649.2,336.0L649.7,335.6L650.3,334.9L650.9,334.0L651.4,333.3L652.0,333.3L652.5,332.4L653.1,332.2L653.7,331.3L654.2,331.0L654.8,330.2L655.4,329.7L655.9,329.6L656.5,328.9L657.1,329.0L657.6,328.8L658.2,328.1L658.8,328.2L659.3,327.7L659.9,327.3L660.5,326.8L661.0,326.7L661.6,326.4L662.2,325.5L662.7,325.4L663.3,324.4L663.9,323.8L664.4,323.6L665.0,323.0L665.5,322.4L666.1,321.8L666.7,321.4L667.2,321.1L667.8,320.7L668.4,320.1L668.9,320.2L669.5,319.9L670.1,319.5L670.6,319.6L671.2,319.2L671.8,318.4L672.3,318.5L672.9,318.1L673.5,318.2L674.0,317.5L674.6,317.0L675.2,317.1L675.7,316.3L676.3,315.9L676.9,316.1L677.4,315.3L678.0,315.2L678.6,314.7L679.1,314.7L679.7,314.2L680.2,313.9L680.8,314.3L681.4,314.0L681.9,313.3L682.5,312.8L683.1,313.2L683.6,312.8L684.2,312.5L684.8,312.5L685.3,312.2L685.9,311.9L686.5,311.7L687.0,311.3L687.6,311.4L688.2,311.3L688.7,311.0L689.3,311.6L689.9,311.1L690.4,311.0L691.0,311.4L691.6,311.5L692.1,310.9L692.7,311.5L693.3,311.5L693.8,311.4L694.4,311.2L694.9,311.8L695.5,311.7L696.1,311.7L696.6,311.2L697.2,311.6L697.8,311.1L698.3,311.7L698.9,311.4L699.5,311.0L700.0,310.6L700.6,310.9" fill="none" stroke="#e42c3a" stroke-width="1.25" stroke-linejoin="round"/>
<path d="M531.0,414.8L531.6,414.8L532.1,415.0L532.7,415.8L533.3,416.1L533.8,415.9L534.4,416.2L535.0,415.8L535.5,416.0L536.1,416.2L536.7,416.4L537.2,416.4L537.8,416.9L538.3,416.8L538.9,417.0L539.5,416.6L540.0,417.2L540.6,416.9L541.2,417.3L541.7,417.1L542.3,417.2L542.9,417.2L543.4,417.2L544.0,417.2L544.6,417.2L545.1,417.3L545.7,417.3L546.3,417.3L546.8,417.3L547.4,417.3L548.0,417.3L548.5,417.3L549.1,417.3L549.7,417.3L550.2,417.3L550.8,417.3L551.4,417.3L551.9,417.3L552.5,417.2L553.0,417.2L553.6,417.1L554.2,417.0L554.7,416.9L555.3,416.9L555.9,416.7L556.4,416.5L557.0,416.1L557.6,415.6L558.1,415.1L558.7,414.5L559.3,413.8L559.8,412.9L560.4,411.7L561.0,410.2L561.5,408.7L562.1,407.1L562.7,405.6L563.2,404.0L563.8,402.4L564.4,400.6L564.9,398.9L565.5,397.3L566.1,396.0L566.6,394.8L567.2,393.8L567.7,392.8L568.3,391.9L568.9,391.1L569.4,390.5L570.0,390.2L570.6,389.9L571.1,389.7L571.7,389.5L572.3,389.3L572.8,389.2L573.4,389.2L574.0,389.2L574.5,389.5L575.1,390.0L575.7,390.6L576.2,391.2L576.8,391.9L577.4,392.7L577.9,393.8L578.5,394.9L579.1,395.9L579.6,397.0L580.2,398.1L580.7,399.2L581.3,400.3L581.9,401.2L582.4,401.8L583.0,402.3L583.6,402.7L584.1,403.0L584.7,403.4L585.3,403.7L585.8,404.0L586.4,404.4L587.0,404.9L587.5,405.3L588.1,405.7L588.7,406.2L589.2,406.6L589.8,407.0L590.4,407.3L590.9,407.6L591.5,407.9L592.1,408.3L592.6,408.6L593.2,408.9L593.8,409.3L594.3,409.6L594.9,410.0L595.4,410.4L596.0,410.9L596.6,411.3L597.1,411.7L597.7,412.2L598.3,412.6L598.8,413.1L599.4,413.5L600.0,414.0L600.5,414.5L601.1,415.0L601.7,415.5L602.2,415.9L602.8,416.3L603.4,416.7L603.9,417.0L604.5,417.4L605.1,417.7L605.6,417.9L606.2,418.0L606.8,418.0L607.3,417.8L607.9,417.5L608.5,417.2L609.0,416.7L609.6,416.0L610.1,414.8L610.7,413.0L611.3,411.1L611.8,408.3L612.4,404.6L613.0,400.3L613.5,396.0L614.1,391.4L614.7,386.5L615.2,381.3L615.8,376.2L616.4,370.9L616.9,365.5L617.5,360.3L618.1,355.4L618.6,350.7L619.2,346.2L619.8,341.9L620.3,338.1L620.9,334.7L621.5,332.0L622.0,329.3L622.6,327.0L623.1,324.0L623.7,320.3L624.3,317.3L624.8,314.9L625.4,312.8L626.0,311.2L626.5,310.2L627.1,309.0L627.7,308.3L628.2,307.6L628.8,306.9L629.4,306.6L629.9,305.9L630.5,305.8L631.1,305.4L631.6,304.8L632.2,304.7L632.8,304.5L633.3,304.2L633.9,304.0L634.5,303.9L635.0,303.8L635.6,303.3L636.2,303.1L636.7,302.9L637.3,302.8L637.8,302.8L638.4,302.6L639.0,302.2L639.5,302.0L640.1,302.1L640.7,301.8L641.2,301.5L641.8,301.2L642.4,300.9L642.9,300.8L643.5,300.9L644.1,300.3L644.6,300.3L645.2,300.1L645.8,300.1L646.3,299.8L646.9,299.7L647.5,299.3L648.0,299.5L648.6,299.1L649.2,299.1L649.7,298.7L650.3,299.0L650.9,298.7L651.4,298.5L652.0,298.3L652.5,298.5L653.1,298.2L653.7,298.3L654.2,298.2L654.8,298.0L655.4,297.6L655.9,297.9L656.5,297.5L657.1,297.9L657.6,297.4L658.2,297.7L658.8,297.7L659.3,297.3L659.9,297.1L660.5,297.6L661.0,297.3L661.6,296.8L662.2,297.0L662.7,296.9L663.3,296.9L663.9,296.8L664.4,296.2L665.0,295.9L665.5,295.8L666.1,296.1L666.7,296.4L667.2,296.3L667.8,296.0L668.4,296.0L668.9,296.3L669.5,296.7L670.1,296.6L670.6,296.7L671.2,296.7L671.8,297.1L672.3,296.6L672.9,296.7L673.5,297.3L674.0,297.2L674.6,296.8L675.2,297.3L675.7,296.8L676.3,297.2L676.9,297.0L677.4,297.1L678.0,297.5L678.6,297.5L679.1,297.6L679.7,297.3L680.2,297.4L680.8,298.0L681.4,297.5L681.9,298.0L682.5,298.3L683.1,298.2L683.6,297.9L684.2,298.3L684.8,298.4L685.3,298.3L685.9,298.4L686.5,298.7L687.0,299.2L687.6,299.2L688.2,299.1L688.7,299.3L689.3,299.7L689.9,300.1L690.4,300.3L691.0,300.2L691.6,300.6L692.1,301.4L692.7,301.0L693.3,301.1L693.8,301.4L694.4,301.5L694.9,301.6L695.5,302.0L696.1,301.9L696.6,302.3L697.2,302.7L697.8,302.5L698.3,302.6L698.9,302.1L699.5,302.4L700.0,302.6L700.6,302.6" fill="none" stroke="#339a46" stroke-width="1.25" stroke-linejoin="round"/>
<rect x="531" y="258.4" width="169.60000000000002" height="169.8" fill="none" stroke="#6e6e6e" stroke-width="1.1"/>
<line x1="531.00" y1="428.2" x2="531.00" y2="426.4" stroke="#6e6e6e" stroke-width="1"/>
<line x1="531.00" y1="258.4" x2="531.00" y2="260.2" stroke="#6e6e6e" stroke-width="1"/>
<text x="531.00" y="439.4" text-anchor="middle" class="tk">400</text>
<line x1="559.27" y1="428.2" x2="559.27" y2="426.4" stroke="#6e6e6e" stroke-width="1"/>
<line x1="559.27" y1="258.4" x2="559.27" y2="260.2" stroke="#6e6e6e" stroke-width="1"/>
<text x="559.27" y="439.4" text-anchor="middle" class="tk">500</text>
<line x1="587.53" y1="428.2" x2="587.53" y2="426.4" stroke="#6e6e6e" stroke-width="1"/>
<line x1="587.53" y1="258.4" x2="587.53" y2="260.2" stroke="#6e6e6e" stroke-width="1"/>
<text x="587.53" y="439.4" text-anchor="middle" class="tk">600</text>
<line x1="615.80" y1="428.2" x2="615.80" y2="426.4" stroke="#6e6e6e" stroke-width="1"/>
<line x1="615.80" y1="258.4" x2="615.80" y2="260.2" stroke="#6e6e6e" stroke-width="1"/>
<text x="615.80" y="439.4" text-anchor="middle" class="tk">700</text>
<line x1="644.07" y1="428.2" x2="644.07" y2="426.4" stroke="#6e6e6e" stroke-width="1"/>
<line x1="644.07" y1="258.4" x2="644.07" y2="260.2" stroke="#6e6e6e" stroke-width="1"/>
<text x="644.07" y="439.4" text-anchor="middle" class="tk">800</text>
<line x1="672.33" y1="428.2" x2="672.33" y2="426.4" stroke="#6e6e6e" stroke-width="1"/>
<line x1="672.33" y1="258.4" x2="672.33" y2="260.2" stroke="#6e6e6e" stroke-width="1"/>
<text x="672.33" y="439.4" text-anchor="middle" class="tk">900</text>
<line x1="700.60" y1="428.2" x2="700.60" y2="426.4" stroke="#6e6e6e" stroke-width="1"/>
<line x1="700.60" y1="258.4" x2="700.60" y2="260.2" stroke="#6e6e6e" stroke-width="1"/>
<text x="700.60" y="439.4" text-anchor="middle" class="tk">1000</text>
<line x1="531" y1="428.20" x2="532.8" y2="428.20" stroke="#6e6e6e" stroke-width="1"/>
<line x1="700.6" y1="428.20" x2="698.8000000000001" y2="428.20" stroke="#6e6e6e" stroke-width="1"/>
<text x="526.7" y="431.20" text-anchor="end" class="tk">0</text>
<line x1="531" y1="394.24" x2="532.8" y2="394.24" stroke="#6e6e6e" stroke-width="1"/>
<line x1="700.6" y1="394.24" x2="698.8000000000001" y2="394.24" stroke="#6e6e6e" stroke-width="1"/>
<text x="526.7" y="397.24" text-anchor="end" class="tk">0.2</text>
<line x1="531" y1="360.28" x2="532.8" y2="360.28" stroke="#6e6e6e" stroke-width="1"/>
<line x1="700.6" y1="360.28" x2="698.8000000000001" y2="360.28" stroke="#6e6e6e" stroke-width="1"/>
<text x="526.7" y="363.28" text-anchor="end" class="tk">0.4</text>
<line x1="531" y1="326.32" x2="532.8" y2="326.32" stroke="#6e6e6e" stroke-width="1"/>
<line x1="700.6" y1="326.32" x2="698.8000000000001" y2="326.32" stroke="#6e6e6e" stroke-width="1"/>
<text x="526.7" y="329.32" text-anchor="end" class="tk">0.6</text>
<line x1="531" y1="292.36" x2="532.8" y2="292.36" stroke="#6e6e6e" stroke-width="1"/>
<line x1="700.6" y1="292.36" x2="698.8000000000001" y2="292.36" stroke="#6e6e6e" stroke-width="1"/>
<text x="526.7" y="295.36" text-anchor="end" class="tk">0.8</text>
<line x1="531" y1="258.40" x2="532.8" y2="258.40" stroke="#6e6e6e" stroke-width="1"/>
<line x1="700.6" y1="258.40" x2="698.8000000000001" y2="258.40" stroke="#6e6e6e" stroke-width="1"/>
<text x="526.7" y="261.40" text-anchor="end" class="tk">1</text>
<text x="587.50" y="255.10" textLength="56.6" lengthAdjust="spacingAndGlyphs" class="ti">Heading stage</text>
<text x="585.30" y="449.80" textLength="61" lengthAdjust="spacingAndGlyphs" class="lb">Wavelength(nm)</text>
<text transform="translate(511.40,363.00) rotate(-90)" textLength="39.4" lengthAdjust="spacingAndGlyphs" class="lb">Reflectance</text>
<rect x="621.9" y="395.3" width="73.50" height="22.80" fill="#fff" stroke="#6e6e6e" stroke-width="1"/>
<line x1="626.4" y1="401.70" x2="643.4" y2="401.70" stroke="#e42c3a" stroke-width="1.45" opacity="0.55"/>
<text x="645.6" y="404.60" class="lg">Lesion</text>
<line x1="626.4" y1="412.60" x2="643.4" y2="412.60" stroke="#339a46" stroke-width="1.45" opacity="0.55"/>
<text x="645.6" y="415.50" class="lg">Healthy tissue</text>
<rect x="86.6" y="496" width="168.4" height="170.5" fill="#fff"/>
<path d="M86.6,652.4L87.2,651.9L87.7,650.9L88.3,650.6L88.8,650.1L89.4,649.1L90.0,648.0L90.5,647.5L91.1,646.8L91.7,646.6L92.2,645.6L92.8,645.1L93.3,644.3L93.9,643.6L94.5,642.7L95.0,641.7L95.6,641.1L96.1,640.3L96.7,639.6L97.3,638.8L97.8,638.1L98.4,637.3L98.9,636.6L99.5,635.8L100.1,635.1L100.6,634.4L101.2,633.7L101.8,632.9L102.3,632.2L102.9,631.5L103.4,630.8L104.0,630.1L104.6,629.4L105.1,628.8L105.7,628.2L106.2,627.6L106.8,627.0L107.4,626.5L107.9,626.0L108.5,625.5L109.1,625.0L109.6,624.6L110.2,624.1L110.7,623.6L111.3,623.1L111.9,622.7L112.4,622.2L113.0,621.6L113.5,621.1L114.1,620.5L114.7,620.0L115.2,619.4L115.8,618.9L116.4,618.3L116.9,617.7L117.5,617.2L118.0,616.6L118.6,616.0L119.2,615.5L119.7,614.9L120.3,614.3L120.8,613.7L121.4,613.1L122.0,612.5L122.5,612.0L123.1,611.4L123.6,610.9L124.2,610.4L124.8,609.9L125.3,609.4L125.9,608.9L126.5,608.5L127.0,608.0L127.6,607.6L128.1,607.1L128.7,606.7L129.3,606.3L129.8,606.0L130.4,605.6L130.9,605.3L131.5,605.0L132.1,604.7L132.6,604.4L133.2,604.2L133.8,603.9L134.3,603.6L134.9,603.4L135.4,603.1L136.0,602.8L136.6,602.5L137.1,602.2L137.7,601.8L138.2,601.5L138.8,601.1L139.4,600.8L139.9,600.4L140.5,600.1L141.0,599.8L141.6,599.6L142.2,599.4L142.7,599.3L143.3,599.1L143.9,599.0L144.4,598.9L145.0,598.8L145.5,598.7L146.1,598.5L146.7,598.3L147.2,598.1L147.8,597.8L148.3,597.5L148.9,597.2L149.5,596.9L150.0,596.7L150.6,596.6L151.2,596.5L151.7,596.5L152.3,596.4L152.8,596.4L153.4,596.4L154.0,596.3L154.5,596.3L155.1,596.3L155.6,596.3L156.2,596.3L156.8,596.3L157.3,596.3L157.9,596.3L158.5,596.3L159.0,596.4L159.6,596.4L160.1,596.5L160.7,596.5L161.3,596.6L161.8,596.6L162.4,596.6L162.9,596.5L163.5,596.3L164.1,596.1L164.6,595.8L165.2,595.5L165.7,595.0L166.3,594.2L166.9,593.2L167.4,592.2L168.0,591.1L168.6,590.0L169.1,588.8L169.7,587.5L170.2,586.2L170.8,584.9L171.4,583.7L171.9,582.6L172.5,581.5L173.0,580.4L173.6,579.3L174.2,578.1L174.7,577.0L175.3,575.8L175.9,574.8L176.4,573.7L177.0,572.8L177.5,571.9L178.1,571.2L178.7,570.3L179.2,569.5L179.8,568.8L180.3,568.3L180.9,567.8L181.5,567.8L182.0,567.1L182.6,566.8L183.1,566.5L183.7,566.4L184.3,565.9L184.8,565.8L185.4,565.0L186.0,564.7L186.5,564.6L187.1,564.5L187.6,563.8L188.2,563.8L188.8,563.3L189.3,563.1L189.9,563.0L190.4,562.9L191.0,562.5L191.6,562.4L192.1,562.3L192.7,562.0L193.3,561.4L193.8,561.8L194.4,561.6L194.9,560.9L195.5,560.9L196.1,560.4L196.6,560.2L197.2,560.0L197.7,559.2L198.3,559.6L198.9,559.1L199.4,559.0L200.0,558.3L200.6,558.3L201.1,557.9L201.7,557.2L202.2,557.4L202.8,556.8L203.4,556.2L203.9,556.8L204.5,556.5L205.0,556.1L205.6,555.2L206.2,555.1L206.7,555.3L207.3,554.9L207.8,554.8L208.4,554.3L209.0,554.6L209.5,553.6L210.1,553.1L210.7,552.9L211.2,553.0L211.8,552.6L212.3,553.6L212.9,553.1L213.5,552.1L214.0,552.2L214.6,552.6L215.1,551.7L215.7,552.1L216.3,551.7L216.8,552.3L217.4,552.3L218.0,551.9L218.5,552.2L219.1,551.7L219.6,550.8L220.2,551.6L220.8,552.0L221.3,551.9L221.9,551.6L222.4,550.6L223.0,551.2L223.6,551.3L224.1,551.5L224.7,550.1L225.2,551.0L225.8,551.4L226.4,551.7L226.9,551.7L227.5,551.5L228.1,550.7L228.6,551.6L229.2,551.8L229.7,551.1L230.3,551.5L230.9,550.2L231.4,551.7L232.0,551.0L232.5,550.5L233.1,551.1L233.7,550.0L234.2,550.9L234.8,551.3L235.4,550.9L235.9,551.5L236.5,550.7L237.0,551.0L237.6,549.8L238.2,550.0L238.7,550.7L239.3,551.8L239.8,551.6L240.4,551.8L241.0,552.0L241.5,552.1L242.1,550.9L242.7,552.5L243.2,552.8L243.8,551.1L244.3,551.9L244.9,551.1L245.5,552.4L246.0,551.5L246.6,552.1L247.1,551.9L247.7,552.1L248.3,552.9L248.8,554.0L249.4,554.0L249.9,552.7L250.5,552.9L251.1,553.1L251.6,554.6L252.2,554.0L252.8,553.8L253.3,554.1L253.9,553.7L254.4,554.4L255.0,554.1" fill="none" stroke="#3a88c8" stroke-width="1.25" stroke-linejoin="round"/>
<path d="M86.6,654.9L87.2,654.9L87.7,655.0L88.3,655.8L88.8,656.1L89.4,655.8L90.0,656.0L90.5,655.7L91.1,655.9L91.7,656.1L92.2,656.2L92.8,656.3L93.3,656.7L93.9,656.6L94.5,656.9L95.0,656.7L95.6,656.9L96.1,657.0L96.7,657.0L97.3,657.1L97.8,657.1L98.4,657.1L98.9,657.1L99.5,657.1L100.1,657.1L100.6,657.1L101.2,657.1L101.8,657.1L102.3,657.1L102.9,657.1L103.4,657.1L104.0,657.1L104.6,657.1L105.1,657.1L105.7,657.1L106.2,657.1L106.8,657.1L107.4,657.1L107.9,657.0L108.5,657.0L109.1,656.9L109.6,656.9L110.2,656.8L110.7,656.7L111.3,656.6L111.9,656.5L112.4,656.3L113.0,655.8L113.5,655.3L114.1,654.7L114.7,654.0L115.2,653.3L115.8,652.2L116.4,650.7L116.9,649.0L117.5,647.2L118.0,645.4L118.6,643.7L119.2,642.3L119.7,640.9L120.3,639.4L120.8,638.1L121.4,636.9L122.0,635.9L122.5,635.1L123.1,634.5L123.6,633.9L124.2,633.4L124.8,633.0L125.3,632.6L125.9,632.4L126.5,632.3L127.0,632.2L127.6,632.1L128.1,632.1L128.7,632.1L129.3,632.1L129.8,632.4L130.4,632.8L130.9,633.4L131.5,634.0L132.1,634.6L132.6,635.4L133.2,636.4L133.8,637.4L134.3,638.4L134.9,639.3L135.4,640.2L136.0,641.2L136.6,642.1L137.1,642.8L137.7,643.4L138.2,643.8L138.8,644.2L139.4,644.5L139.9,644.8L140.5,645.1L141.0,645.4L141.6,645.8L142.2,646.1L142.7,646.5L143.3,646.9L143.9,647.3L144.4,647.6L145.0,648.0L145.5,648.4L146.1,648.8L146.7,649.2L147.2,649.6L147.8,649.9L148.3,650.2L148.9,650.5L149.5,650.7L150.0,650.9L150.6,651.1L151.2,651.3L151.7,651.5L152.3,651.8L152.8,652.1L153.4,652.5L154.0,652.9L154.5,653.3L155.1,653.8L155.6,654.2L156.2,654.6L156.8,655.0L157.3,655.5L157.9,655.9L158.5,656.2L159.0,656.5L159.6,656.7L160.1,656.8L160.7,657.0L161.3,657.0L161.8,657.1L162.4,657.1L162.9,657.0L163.5,656.8L164.1,656.4L164.6,656.0L165.2,655.5L165.7,654.7L166.3,653.5L166.9,651.9L167.4,649.9L168.0,646.0L168.6,640.7L169.1,634.9L169.7,629.7L170.2,624.4L170.8,619.1L171.4,613.8L171.9,608.5L172.5,602.9L173.0,597.5L173.6,592.6L174.2,588.6L174.7,584.8L175.3,581.2L175.9,577.8L176.4,574.8L177.0,571.6L177.5,569.2L178.1,566.6L178.7,564.7L179.2,562.8L179.8,560.8L180.3,559.7L180.9,558.4L181.5,557.0L182.0,556.4L182.6,555.9L183.1,554.8L183.7,554.3L184.3,554.3L184.8,553.7L185.4,553.6L186.0,553.2L186.5,552.8L187.1,552.8L187.6,552.3L188.2,552.5L188.8,552.2L189.3,551.6L189.9,551.7L190.4,551.5L191.0,551.1L191.6,551.0L192.1,550.9L192.7,551.0L193.3,550.3L193.8,549.9L194.4,549.7L194.9,549.8L195.5,549.9L196.1,549.7L196.6,549.2L197.2,549.0L197.7,549.3L198.3,549.0L198.9,548.7L199.4,548.4L200.0,547.9L200.6,548.0L201.1,548.3L201.7,547.3L202.2,547.6L202.8,547.3L203.4,547.5L203.9,547.1L204.5,547.0L205.0,546.5L205.6,547.1L206.2,546.5L206.7,546.7L207.3,546.0L207.8,546.7L208.4,546.3L209.0,546.1L209.5,545.7L210.1,546.3L210.7,545.8L211.2,546.0L211.8,545.9L212.3,545.6L212.9,544.9L213.5,545.5L214.0,544.8L214.6,545.8L215.1,544.7L215.7,545.4L216.3,545.6L216.8,544.8L217.4,544.5L218.0,545.7L218.5,545.3L219.1,544.5L219.6,545.1L220.2,545.1L220.8,545.4L221.3,545.3L221.9,544.4L222.4,543.8L223.0,543.7L223.6,544.4L224.1,545.2L224.7,544.7L225.2,544.0L225.8,543.9L226.4,544.3L226.9,545.0L227.5,544.6L228.1,544.7L228.6,544.5L229.2,545.2L229.7,544.1L230.3,544.3L230.9,545.6L231.4,545.5L232.0,544.5L232.5,545.6L233.1,544.5L233.7,545.4L234.2,545.1L234.8,545.2L235.4,546.2L235.9,546.2L236.5,546.3L237.0,545.6L237.6,545.7L238.2,546.9L238.7,545.5L239.3,546.6L239.8,547.0L240.4,546.8L241.0,545.8L241.5,546.8L242.1,546.8L242.7,546.3L243.2,546.3L243.8,546.9L244.3,547.8L244.9,547.6L245.5,547.1L246.0,547.6L246.6,548.3L247.1,549.0L247.7,549.2L248.3,548.6L248.8,549.2L249.4,550.7L249.9,549.4L250.5,549.2L251.1,549.7L251.6,549.7L252.2,549.8L252.8,550.8L253.3,550.2L253.9,551.2L254.4,551.9L255.0,551.3" fill="none" stroke="#33913a" stroke-width="1.25" stroke-linejoin="round"/>
<rect x="86.6" y="496" width="168.4" height="170.5" fill="none" stroke="#6e6e6e" stroke-width="1.1"/>
<line x1="86.60" y1="666.5" x2="86.60" y2="664.7" stroke="#6e6e6e" stroke-width="1"/>
<line x1="86.60" y1="496" x2="86.60" y2="497.8" stroke="#6e6e6e" stroke-width="1"/>
<text x="86.60" y="677.7" text-anchor="middle" class="tk">400</text>
<line x1="114.67" y1="666.5" x2="114.67" y2="664.7" stroke="#6e6e6e" stroke-width="1"/>
<line x1="114.67" y1="496" x2="114.67" y2="497.8" stroke="#6e6e6e" stroke-width="1"/>
<text x="114.67" y="677.7" text-anchor="middle" class="tk">500</text>
<line x1="142.73" y1="666.5" x2="142.73" y2="664.7" stroke="#6e6e6e" stroke-width="1"/>
<line x1="142.73" y1="496" x2="142.73" y2="497.8" stroke="#6e6e6e" stroke-width="1"/>
<text x="142.73" y="677.7" text-anchor="middle" class="tk">600</text>
<line x1="170.80" y1="666.5" x2="170.80" y2="664.7" stroke="#6e6e6e" stroke-width="1"/>
<line x1="170.80" y1="496" x2="170.80" y2="497.8" stroke="#6e6e6e" stroke-width="1"/>
<text x="170.80" y="677.7" text-anchor="middle" class="tk">700</text>
<line x1="198.87" y1="666.5" x2="198.87" y2="664.7" stroke="#6e6e6e" stroke-width="1"/>
<line x1="198.87" y1="496" x2="198.87" y2="497.8" stroke="#6e6e6e" stroke-width="1"/>
<text x="198.87" y="677.7" text-anchor="middle" class="tk">800</text>
<line x1="226.93" y1="666.5" x2="226.93" y2="664.7" stroke="#6e6e6e" stroke-width="1"/>
<line x1="226.93" y1="496" x2="226.93" y2="497.8" stroke="#6e6e6e" stroke-width="1"/>
<text x="226.93" y="677.7" text-anchor="middle" class="tk">900</text>
<line x1="255.00" y1="666.5" x2="255.00" y2="664.7" stroke="#6e6e6e" stroke-width="1"/>
<line x1="255.00" y1="496" x2="255.00" y2="497.8" stroke="#6e6e6e" stroke-width="1"/>
<text x="255.00" y="677.7" text-anchor="middle" class="tk">1000</text>
<line x1="86.6" y1="666.50" x2="88.39999999999999" y2="666.50" stroke="#6e6e6e" stroke-width="1"/>
<line x1="255" y1="666.50" x2="253.2" y2="666.50" stroke="#6e6e6e" stroke-width="1"/>
<text x="82.3" y="669.50" text-anchor="end" class="tk">0</text>
<line x1="86.6" y1="632.40" x2="88.39999999999999" y2="632.40" stroke="#6e6e6e" stroke-width="1"/>
<line x1="255" y1="632.40" x2="253.2" y2="632.40" stroke="#6e6e6e" stroke-width="1"/>
<text x="82.3" y="635.40" text-anchor="end" class="tk">0.2</text>
<line x1="86.6" y1="598.30" x2="88.39999999999999" y2="598.30" stroke="#6e6e6e" stroke-width="1"/>
<line x1="255" y1="598.30" x2="253.2" y2="598.30" stroke="#6e6e6e" stroke-width="1"/>
<text x="82.3" y="601.30" text-anchor="end" class="tk">0.4</text>
<line x1="86.6" y1="564.20" x2="88.39999999999999" y2="564.20" stroke="#6e6e6e" stroke-width="1"/>
<line x1="255" y1="564.20" x2="253.2" y2="564.20" stroke="#6e6e6e" stroke-width="1"/>
<text x="82.3" y="567.20" text-anchor="end" class="tk">0.6</text>
<line x1="86.6" y1="530.10" x2="88.39999999999999" y2="530.10" stroke="#6e6e6e" stroke-width="1"/>
<line x1="255" y1="530.10" x2="253.2" y2="530.10" stroke="#6e6e6e" stroke-width="1"/>
<text x="82.3" y="533.10" text-anchor="end" class="tk">0.8</text>
<line x1="86.6" y1="496.00" x2="88.39999999999999" y2="496.00" stroke="#6e6e6e" stroke-width="1"/>
<line x1="255" y1="496.00" x2="253.2" y2="496.00" stroke="#6e6e6e" stroke-width="1"/>
<text x="82.3" y="499.00" text-anchor="end" class="tk">1</text>
<text x="143.15" y="492.70" textLength="55.3" lengthAdjust="spacingAndGlyphs" class="ti">Jointing stage</text>
<text x="140.30" y="688.10" textLength="61" lengthAdjust="spacingAndGlyphs" class="lb">Wavelength(nm)</text>
<text transform="translate(67.00,600.95) rotate(-90)" textLength="39.4" lengthAdjust="spacingAndGlyphs" class="lb">Reflectance</text>
<rect x="179.1" y="634.5" width="68.50" height="19.40" fill="#fff" stroke="#6e6e6e" stroke-width="1"/>
<line x1="182" y1="640.00" x2="198.5" y2="640.00" stroke="#3a88c8" stroke-width="1.45" opacity="0.55"/>
<text x="200.6" y="642.90" class="lg">Lesion</text>
<line x1="182" y1="648.60" x2="198.5" y2="648.60" stroke="#33913a" stroke-width="1.45" opacity="0.55"/>
<text x="200.6" y="651.50" class="lg">Healthy tissue</text>
<rect x="308.5" y="496" width="168.7" height="170.5" fill="#fff"/>
<path d="M308.5,643.1L309.1,642.4L309.6,641.0L310.2,640.5L310.7,639.8L311.3,638.4L311.9,636.8L312.4,636.1L313.0,635.4L313.6,635.4L314.1,634.2L314.7,633.8L315.2,633.2L315.8,632.6L316.4,631.8L316.9,630.3L317.5,629.9L318.1,629.3L318.6,628.8L319.2,628.9L319.7,628.3L320.3,627.5L320.9,626.9L321.4,626.3L322.0,625.8L322.6,626.0L323.1,625.1L323.7,624.6L324.2,624.3L324.8,624.2L325.4,623.6L325.9,623.5L326.5,622.6L327.1,622.4L327.6,622.3L328.2,622.2L328.7,621.7L329.3,621.6L329.9,621.3L330.4,621.1L331.0,621.0L331.6,620.7L332.1,620.4L332.7,620.2L333.2,619.9L333.8,619.6L334.4,619.3L334.9,618.9L335.5,618.6L336.1,618.2L336.6,617.7L337.2,617.2L337.7,616.6L338.3,616.0L338.9,615.3L339.4,614.6L340.0,613.9L340.6,613.2L341.1,612.5L341.7,611.9L342.2,611.2L342.8,610.5L343.4,609.8L343.9,609.1L344.5,608.5L345.1,607.9L345.6,607.4L346.2,606.8L346.7,606.3L347.3,605.9L347.9,605.4L348.4,605.0L349.0,604.6L349.6,604.2L350.1,603.8L350.7,603.4L351.2,603.1L351.8,602.8L352.4,602.7L352.9,602.8L353.5,602.8L354.0,602.9L354.6,603.0L355.2,603.1L355.7,603.2L356.3,603.2L356.9,603.3L357.4,603.4L358.0,603.4L358.5,603.4L359.1,603.4L359.7,603.3L360.2,603.2L360.8,603.1L361.4,603.0L361.9,602.9L362.5,602.8L363.0,602.8L363.6,602.7L364.2,602.7L364.7,602.7L365.3,602.7L365.9,602.7L366.4,602.7L367.0,602.7L367.5,602.7L368.1,602.7L368.7,602.7L369.2,602.7L369.8,602.7L370.4,602.7L370.9,602.7L371.5,602.6L372.0,602.5L372.6,602.5L373.2,602.4L373.7,602.4L374.3,602.4L374.9,602.5L375.4,602.7L376.0,602.9L376.5,603.2L377.1,603.4L377.7,603.7L378.2,603.9L378.8,604.0L379.4,604.2L379.9,604.3L380.5,604.4L381.0,604.6L381.6,604.7L382.2,604.8L382.7,604.8L383.3,604.9L383.9,604.9L384.4,604.9L385.0,604.7L385.5,604.3L386.1,603.8L386.7,603.2L387.2,602.6L387.8,601.8L388.4,600.7L388.9,599.5L389.5,598.2L390.0,596.9L390.6,595.4L391.2,593.7L391.7,592.0L392.3,590.2L392.9,588.4L393.4,586.7L394.0,585.1L394.5,583.4L395.1,581.7L395.7,580.0L396.2,578.1L396.8,576.1L397.3,574.0L397.9,572.1L398.5,570.7L399.0,569.5L399.6,568.6L400.2,567.8L400.7,567.0L401.3,566.1L401.8,565.8L402.4,565.2L403.0,564.4L403.5,564.1L404.1,563.5L404.7,563.1L405.2,562.8L405.8,562.1L406.3,562.2L406.9,561.7L407.5,561.5L408.0,560.9L408.6,560.8L409.2,560.4L409.7,559.8L410.3,559.8L410.8,559.3L411.4,558.8L412.0,559.0L412.5,558.8L413.1,558.4L413.7,557.7L414.2,557.5L414.8,557.5L415.3,557.1L415.9,556.9L416.5,556.4L417.0,556.3L417.6,555.5L418.2,555.0L418.7,554.6L419.3,554.4L419.8,553.8L420.4,554.2L421.0,553.7L421.5,552.7L422.1,552.6L422.7,552.5L423.2,551.8L423.8,551.7L424.3,551.3L424.9,551.4L425.5,551.2L426.0,550.7L426.6,550.7L427.2,550.2L427.7,549.3L428.3,549.7L428.8,549.7L429.4,549.5L430.0,549.1L430.5,548.3L431.1,548.5L431.7,548.4L432.2,548.4L432.8,547.2L433.3,547.7L433.9,547.7L434.5,547.7L435.0,547.5L435.6,547.2L436.1,546.5L436.7,546.9L437.3,546.9L437.8,546.1L438.4,546.2L439.0,545.1L439.5,545.9L440.1,545.1L440.6,544.6L441.2,544.9L441.8,544.0L442.3,544.5L442.9,544.8L443.5,544.5L444.0,545.1L444.6,544.6L445.1,544.9L445.7,544.0L446.3,544.2L446.8,544.7L447.4,545.4L448.0,545.2L448.5,545.2L449.1,545.3L449.6,545.3L450.2,544.4L450.8,545.5L451.3,545.6L451.9,544.2L452.5,544.7L453.0,544.0L453.6,544.9L454.1,544.0L454.7,544.4L455.3,544.1L455.8,544.1L456.4,544.5L457.0,545.1L457.5,544.9L458.1,543.8L458.6,543.8L459.2,543.7L459.8,544.7L460.3,544.2L460.9,543.9L461.5,544.2L462.0,543.9L462.6,544.4L463.1,544.2L463.7,544.1L464.3,544.8L464.8,543.7L465.4,543.7L466.0,545.4L466.5,543.9L467.1,544.1L467.6,544.8L468.2,546.3L468.8,545.1L469.3,546.9L469.9,545.6L470.5,546.3L471.0,547.6L471.6,547.5L472.1,546.6L472.7,546.8L473.3,546.5L473.8,546.2L474.4,547.7L475.0,548.1L475.5,546.3L476.1,548.2L476.6,546.5L477.2,548.1" fill="none" stroke="#3a88c8" stroke-width="1.25" stroke-linejoin="round"/>
<path d="M308.5,652.1L309.1,651.8L309.6,651.8L310.2,652.7L310.7,653.0L311.3,652.5L311.9,652.7L312.4,652.0L313.0,652.3L313.6,652.6L314.1,652.8L314.7,652.8L315.2,653.6L315.8,653.4L316.4,653.8L316.9,653.1L317.5,654.2L318.1,653.5L318.6,654.4L319.2,653.9L319.7,654.3L320.3,654.3L320.9,653.9L321.4,654.7L322.0,654.7L322.6,654.0L323.1,654.4L323.7,654.8L324.2,654.1L324.8,654.2L325.4,654.8L325.9,654.6L326.5,654.8L327.1,654.7L327.6,654.5L328.2,654.7L328.7,654.5L329.3,654.7L329.9,654.7L330.4,654.4L331.0,654.5L331.6,654.4L332.1,654.4L332.7,654.3L333.2,654.3L333.8,654.1L334.4,653.8L334.9,653.1L335.5,652.2L336.1,651.2L336.6,650.2L337.2,649.1L337.7,647.7L338.3,646.0L338.9,644.1L339.4,642.0L340.0,640.0L340.6,638.1L341.1,636.4L341.7,634.7L342.2,632.9L342.8,631.2L343.4,629.7L343.9,628.4L344.5,627.3L345.1,626.2L345.6,625.3L346.2,624.4L346.7,623.6L347.3,623.0L347.9,622.7L348.4,622.6L349.0,622.5L349.6,622.4L350.1,622.4L350.7,622.3L351.2,622.4L351.8,622.7L352.4,623.3L352.9,624.0L353.5,624.8L354.0,625.6L354.6,626.6L355.2,627.8L355.7,629.0L356.3,630.3L356.9,631.4L357.4,632.5L358.0,633.6L358.5,634.6L359.1,635.5L359.7,636.2L360.2,636.8L360.8,637.3L361.4,637.7L361.9,638.1L362.5,638.5L363.0,638.9L363.6,639.4L364.2,639.8L364.7,640.3L365.3,640.7L365.9,641.2L366.4,641.6L367.0,642.1L367.5,642.5L368.1,643.0L368.7,643.5L369.2,643.9L369.8,644.4L370.4,644.8L370.9,645.1L371.5,645.4L372.0,645.7L372.6,646.0L373.2,646.3L373.7,646.6L374.3,647.1L374.9,647.7L375.4,648.4L376.0,649.1L376.5,649.9L377.1,650.6L377.7,651.3L378.2,651.9L378.8,652.5L379.4,653.1L379.9,653.6L380.5,654.1L381.0,654.4L381.6,654.7L382.2,654.9L382.7,655.0L383.3,655.2L383.9,655.2L384.4,655.2L385.0,655.0L385.5,654.6L386.1,654.0L386.7,653.3L387.2,652.5L387.8,651.2L388.4,649.2L388.9,646.7L389.5,643.7L390.0,639.5L390.6,634.2L391.2,628.6L391.7,623.3L392.3,617.7L392.9,612.1L393.4,606.5L394.0,601.0L394.5,595.5L395.1,590.2L395.7,585.2L396.2,580.5L396.8,576.1L397.3,571.9L397.9,567.9L398.5,564.0L399.0,560.0L399.6,556.1L400.2,552.0L400.7,548.3L401.3,544.6L401.8,541.9L402.4,539.4L403.0,537.3L403.5,535.6L404.1,534.2L404.7,533.1L405.2,532.3L405.8,531.9L406.3,531.2L406.9,530.6L407.5,530.1L408.0,529.6L408.6,529.4L409.2,529.5L409.7,528.8L410.3,528.9L410.8,528.7L411.4,528.7L412.0,528.5L412.5,528.4L413.1,528.0L413.7,528.3L414.2,527.9L414.8,528.0L415.3,527.5L415.9,527.8L416.5,527.5L417.0,527.2L417.6,526.9L418.2,527.1L418.7,526.7L419.3,526.7L419.8,526.5L420.4,526.2L421.0,525.6L421.5,525.9L422.1,525.3L422.7,525.9L423.2,525.1L423.8,525.4L424.3,525.5L424.9,524.8L425.5,524.6L426.0,525.3L426.6,524.9L427.2,524.3L427.7,524.6L428.3,524.6L428.8,524.8L429.4,524.7L430.0,524.0L430.5,523.5L431.1,523.4L431.7,523.9L432.2,524.3L432.8,523.9L433.3,523.3L433.9,523.2L434.5,523.3L435.0,523.7L435.6,523.3L436.1,523.3L436.7,523.0L437.3,523.3L437.8,522.4L438.4,522.4L439.0,523.1L439.5,522.9L440.1,522.1L440.6,522.8L441.2,521.9L441.8,522.4L442.3,522.2L442.9,522.2L443.5,522.9L444.0,522.9L444.6,523.1L445.1,522.6L445.7,522.7L446.3,523.6L446.8,522.6L447.4,523.4L448.0,523.7L448.5,523.5L449.1,522.8L449.6,523.5L450.2,523.5L450.8,523.1L451.3,523.1L451.9,523.5L452.5,524.1L453.0,523.9L453.6,523.5L454.1,523.8L454.7,524.2L455.3,524.7L455.8,524.7L456.4,524.2L457.0,524.6L457.5,525.6L458.1,524.6L458.6,524.4L459.2,524.7L459.8,524.7L460.3,524.8L460.9,525.6L461.5,525.3L462.0,526.1L462.6,526.8L463.1,526.5L463.7,526.8L464.3,525.9L464.8,526.5L465.4,527.0L466.0,527.1L466.5,528.2L467.1,527.7L467.6,527.6L468.2,528.4L468.8,528.9L469.3,528.9L469.9,529.3L470.5,528.8L471.0,530.0L471.6,530.2L472.1,529.8L472.7,529.0L473.3,528.9L473.8,529.1L474.4,528.6L475.0,529.7L475.5,530.4L476.1,529.4L476.6,529.5L477.2,530.1" fill="none" stroke="#33913a" stroke-width="1.25" stroke-linejoin="round"/>
<rect x="308.5" y="496" width="168.7" height="170.5" fill="none" stroke="#6e6e6e" stroke-width="1.1"/>
<line x1="308.50" y1="666.5" x2="308.50" y2="664.7" stroke="#6e6e6e" stroke-width="1"/>
<line x1="308.50" y1="496" x2="308.50" y2="497.8" stroke="#6e6e6e" stroke-width="1"/>
<text x="308.50" y="677.7" text-anchor="middle" class="tk">400</text>
<line x1="336.62" y1="666.5" x2="336.62" y2="664.7" stroke="#6e6e6e" stroke-width="1"/>
<line x1="336.62" y1="496" x2="336.62" y2="497.8" stroke="#6e6e6e" stroke-width="1"/>
<text x="336.62" y="677.7" text-anchor="middle" class="tk">500</text>
<line x1="364.73" y1="666.5" x2="364.73" y2="664.7" stroke="#6e6e6e" stroke-width="1"/>
<line x1="364.73" y1="496" x2="364.73" y2="497.8" stroke="#6e6e6e" stroke-width="1"/>
<text x="364.73" y="677.7" text-anchor="middle" class="tk">600</text>
<line x1="392.85" y1="666.5" x2="392.85" y2="664.7" stroke="#6e6e6e" stroke-width="1"/>
<line x1="392.85" y1="496" x2="392.85" y2="497.8" stroke="#6e6e6e" stroke-width="1"/>
<text x="392.85" y="677.7" text-anchor="middle" class="tk">700</text>
<line x1="420.97" y1="666.5" x2="420.97" y2="664.7" stroke="#6e6e6e" stroke-width="1"/>
<line x1="420.97" y1="496" x2="420.97" y2="497.8" stroke="#6e6e6e" stroke-width="1"/>
<text x="420.97" y="677.7" text-anchor="middle" class="tk">800</text>
<line x1="449.08" y1="666.5" x2="449.08" y2="664.7" stroke="#6e6e6e" stroke-width="1"/>
<line x1="449.08" y1="496" x2="449.08" y2="497.8" stroke="#6e6e6e" stroke-width="1"/>
<text x="449.08" y="677.7" text-anchor="middle" class="tk">900</text>
<line x1="477.20" y1="666.5" x2="477.20" y2="664.7" stroke="#6e6e6e" stroke-width="1"/>
<line x1="477.20" y1="496" x2="477.20" y2="497.8" stroke="#6e6e6e" stroke-width="1"/>
<text x="477.20" y="677.7" text-anchor="middle" class="tk">1000</text>
<line x1="308.5" y1="666.50" x2="310.3" y2="666.50" stroke="#6e6e6e" stroke-width="1"/>
<line x1="477.2" y1="666.50" x2="475.4" y2="666.50" stroke="#6e6e6e" stroke-width="1"/>
<text x="304.2" y="669.50" text-anchor="end" class="tk">0</text>
<line x1="308.5" y1="632.40" x2="310.3" y2="632.40" stroke="#6e6e6e" stroke-width="1"/>
<line x1="477.2" y1="632.40" x2="475.4" y2="632.40" stroke="#6e6e6e" stroke-width="1"/>
<text x="304.2" y="635.40" text-anchor="end" class="tk">0.2</text>
<line x1="308.5" y1="598.30" x2="310.3" y2="598.30" stroke="#6e6e6e" stroke-width="1"/>
<line x1="477.2" y1="598.30" x2="475.4" y2="598.30" stroke="#6e6e6e" stroke-width="1"/>
<text x="304.2" y="601.30" text-anchor="end" class="tk">0.4</text>
<line x1="308.5" y1="564.20" x2="310.3" y2="564.20" stroke="#6e6e6e" stroke-width="1"/>
<line x1="477.2" y1="564.20" x2="475.4" y2="564.20" stroke="#6e6e6e" stroke-width="1"/>
<text x="304.2" y="567.20" text-anchor="end" class="tk">0.6</text>
<line x1="308.5" y1="530.10" x2="310.3" y2="530.10" stroke="#6e6e6e" stroke-width="1"/>
<line x1="477.2" y1="530.10" x2="475.4" y2="530.10" stroke="#6e6e6e" stroke-width="1"/>
<text x="304.2" y="533.10" text-anchor="end" class="tk">0.8</text>
<line x1="308.5" y1="496.00" x2="310.3" y2="496.00" stroke="#6e6e6e" stroke-width="1"/>
<line x1="477.2" y1="496.00" x2="475.4" y2="496.00" stroke="#6e6e6e" stroke-width="1"/>
<text x="304.2" y="499.00" text-anchor="end" class="tk">1</text>
<text x="365.15" y="492.70" textLength="55.4" lengthAdjust="spacingAndGlyphs" class="ti">Booting stage</text>
<text x="362.35" y="688.10" textLength="61" lengthAdjust="spacingAndGlyphs" class="lb">Wavelength(nm)</text>
<text transform="translate(288.90,600.95) rotate(-90)" textLength="39.4" lengthAdjust="spacingAndGlyphs" class="lb">Reflectance</text>
<rect x="397.3" y="632.9" width="73.50" height="23.20" fill="#fff" stroke="#6e6e6e" stroke-width="1"/>
<line x1="402.1" y1="638.90" x2="419.2" y2="638.90" stroke="#3a88c8" stroke-width="1.45" opacity="0.55"/>
<text x="421.6" y="641.80" class="lg">Lesion</text>
<line x1="402.1" y1="649.30" x2="419.2" y2="649.30" stroke="#33913a" stroke-width="1.45" opacity="0.55"/>
<text x="421.6" y="652.20" class="lg">Healthy tissue</text>
<rect x="530.7" y="496" width="168.29999999999995" height="170.60000000000002" fill="#fff"/>
<path d="M530.7,650.2L531.3,650.2L531.8,650.4L532.4,650.3L532.9,651.1L533.5,650.9L534.1,653.4L534.6,652.6L535.2,651.7L535.7,652.6L536.3,652.3L536.9,654.3L537.4,653.7L538.0,654.3L538.6,653.8L539.1,653.9L539.7,655.2L540.2,654.8L540.8,654.8L541.4,653.6L541.9,654.0L542.5,655.2L543.0,654.1L543.6,655.3L544.2,654.5L544.7,655.3L545.3,655.5L545.8,654.1L546.4,655.2L547.0,655.2L547.5,654.1L548.1,654.3L548.7,655.1L549.2,654.2L549.8,654.8L550.3,654.6L550.9,655.2L551.5,654.3L552.0,654.6L552.6,654.2L553.1,654.3L553.7,654.9L554.3,654.8L554.8,654.7L555.4,654.2L555.9,653.7L556.5,652.7L557.1,651.5L557.6,651.0L558.2,649.3L558.8,647.7L559.3,645.3L559.9,642.9L560.4,640.6L561.0,638.5L561.6,636.9L562.1,635.4L562.7,634.0L563.2,632.6L563.8,631.3L564.4,630.2L564.9,629.2L565.5,628.3L566.0,627.5L566.6,626.8L567.2,626.1L567.7,625.5L568.3,625.0L568.8,624.6L569.4,624.4L570.0,624.3L570.5,624.2L571.1,624.2L571.7,624.1L572.2,624.1L572.8,624.3L573.3,624.9L573.9,625.6L574.5,626.4L575.0,627.3L575.6,628.2L576.1,629.3L576.7,630.6L577.3,631.9L577.8,633.1L578.4,634.2L578.9,635.1L579.5,635.9L580.1,636.6L580.6,637.3L581.2,637.9L581.8,638.5L582.3,639.0L582.9,639.4L583.4,639.8L584.0,640.1L584.6,640.4L585.1,640.7L585.7,641.0L586.2,641.4L586.8,641.7L587.4,642.0L587.9,642.4L588.5,642.7L589.0,643.1L589.6,643.4L590.2,643.8L590.7,644.3L591.3,644.7L591.8,645.2L592.4,645.6L593.0,646.0L593.5,646.4L594.1,646.7L594.7,647.0L595.2,647.3L595.8,647.7L596.3,648.0L596.9,648.4L597.5,648.9L598.0,649.4L598.6,650.0L599.1,650.6L599.7,651.2L600.3,651.8L600.8,652.3L601.4,653.0L601.9,653.6L602.5,654.2L603.1,654.6L603.6,654.7L604.2,654.9L604.8,655.0L605.3,655.1L605.9,655.2L606.4,655.2L607.0,655.0L607.6,654.6L608.1,654.0L608.7,653.3L609.2,652.6L609.8,651.2L610.4,649.1L610.9,646.6L611.5,643.6L612.0,639.4L612.6,634.2L613.2,628.7L613.7,623.3L614.3,617.8L614.9,612.1L615.4,606.4L616.0,600.8L616.5,595.0L617.1,589.4L617.7,583.8L618.2,578.5L618.8,573.2L619.3,568.0L619.9,562.9L620.5,558.2L621.0,553.3L621.6,549.2L622.1,545.1L622.7,541.0L623.3,537.6L623.8,535.8L624.4,533.1L624.9,532.2L625.5,530.1L626.1,528.9L626.6,528.8L627.2,527.3L627.8,527.0L628.3,526.2L628.9,526.3L629.4,525.8L630.0,525.3L630.6,524.0L631.1,524.6L631.7,523.7L632.2,523.2L632.8,522.9L633.4,523.5L633.9,523.3L634.5,522.9L635.0,522.4L635.6,523.1L636.2,522.0L636.7,521.7L637.3,521.4L637.9,522.4L638.4,520.8L639.0,521.9L639.5,521.3L640.1,520.6L640.7,519.9L641.2,520.7L641.8,519.5L642.3,519.9L642.9,520.1L643.5,519.9L644.0,520.0L644.6,520.0L645.1,519.7L645.7,518.4L646.3,517.7L646.8,519.1L647.4,519.1L647.9,517.1L648.5,517.8L649.1,517.9L649.6,518.1L650.2,517.2L650.8,516.6L651.3,517.3L651.9,517.3L652.4,518.0L653.0,516.0L653.6,517.9L654.1,516.8L654.7,516.0L655.2,517.5L655.8,516.1L656.4,515.5L656.9,516.1L657.5,515.7L658.0,517.3L658.6,516.3L659.2,516.9L659.7,515.0L660.3,516.3L660.9,515.8L661.4,514.2L662.0,514.4L662.5,514.0L663.1,515.3L663.7,515.1L664.2,514.3L664.8,515.0L665.3,515.5L665.9,515.2L666.5,516.0L667.0,515.3L667.6,513.6L668.1,513.7L668.7,514.7L669.3,515.1L669.8,515.6L670.4,516.5L671.0,516.0L671.5,514.5L672.1,514.3L672.6,516.1L673.2,514.8L673.8,515.0L674.3,515.4L674.9,515.7L675.4,515.5L676.0,517.0L676.6,515.9L677.1,517.5L677.7,517.0L678.2,516.1L678.8,516.5L679.4,518.1L679.9,515.9L680.5,517.1L681.0,517.6L681.6,519.8L682.2,518.0L682.7,519.3L683.3,517.9L683.9,518.9L684.4,517.7L685.0,518.6L685.5,518.2L686.1,520.1L686.7,519.2L687.2,519.1L687.8,519.0L688.3,521.1L688.9,519.3L689.5,519.4L690.0,520.3L690.6,519.4L691.1,519.6L691.7,521.6L692.3,521.7L692.8,523.4L693.4,520.8L694.0,520.5L694.5,522.5L695.1,521.7L695.6,521.7L696.2,521.7L696.8,524.2L697.3,521.6L697.9,522.6L698.4,522.3L699.0,523.5" fill="none" stroke="#33913a" stroke-width="1.25" stroke-linejoin="round"/>
<path d="M530.7,646.3L531.3,646.0L531.8,645.0L532.4,646.2L532.9,646.1L533.5,645.9L534.1,646.9L534.6,646.0L535.2,645.4L535.7,644.8L536.3,646.0L536.9,645.2L537.4,645.3L538.0,643.5L538.6,643.5L539.1,644.7L539.7,642.5L540.2,642.4L540.8,642.8L541.4,642.7L541.9,643.4L542.5,643.5L543.0,642.3L543.6,642.9L544.2,642.5L544.7,642.2L545.3,642.3L545.8,641.4L546.4,641.2L547.0,640.4L547.5,640.7L548.1,640.4L548.7,640.4L549.2,640.0L549.8,640.2L550.3,640.3L550.9,639.2L551.5,639.1L552.0,639.2L552.6,639.2L553.1,639.5L553.7,639.4L554.3,639.1L554.8,639.0L555.4,638.0L555.9,637.9L556.5,637.0L557.1,636.9L557.6,635.9L558.2,635.4L558.8,635.3L559.3,634.1L559.9,633.1L560.4,632.0L561.0,630.9L561.6,629.7L562.1,628.6L562.7,627.5L563.2,626.5L563.8,625.5L564.4,624.5L564.9,623.5L565.5,622.6L566.0,621.7L566.6,620.9L567.2,620.1L567.7,619.4L568.3,618.7L568.8,618.0L569.4,617.4L570.0,616.9L570.5,616.5L571.1,616.3L571.7,616.1L572.2,616.0L572.8,615.8L573.3,615.8L573.9,615.8L574.5,616.0L575.0,616.3L575.6,616.6L576.1,617.0L576.7,617.4L577.3,617.8L577.8,618.3L578.4,618.8L578.9,619.3L579.5,619.8L580.1,620.1L580.6,620.5L581.2,620.8L581.8,621.1L582.3,621.3L582.9,621.6L583.4,621.8L584.0,622.0L584.6,622.3L585.1,622.5L585.7,622.7L586.2,622.9L586.8,623.1L587.4,623.3L587.9,623.5L588.5,623.7L589.0,623.9L589.6,624.0L590.2,624.2L590.7,624.4L591.3,624.5L591.8,624.7L592.4,624.9L593.0,625.1L593.5,625.3L594.1,625.5L594.7,625.8L595.2,626.1L595.8,626.4L596.3,626.7L596.9,627.0L597.5,627.3L598.0,627.6L598.6,627.9L599.1,628.2L599.7,628.5L600.3,628.8L600.8,629.1L601.4,629.4L601.9,629.6L602.5,629.8L603.1,630.1L603.6,630.3L604.2,630.5L604.8,630.7L605.3,630.9L605.9,630.9L606.4,630.9L607.0,630.8L607.6,630.4L608.1,630.0L608.7,629.4L609.2,628.7L609.8,627.4L610.4,625.4L610.9,623.1L611.5,620.7L612.0,617.6L612.6,614.1L613.2,610.4L613.7,606.8L614.3,603.1L614.9,599.3L615.4,595.5L616.0,592.0L616.5,588.4L617.1,585.0L617.7,581.7L618.2,578.6L618.8,575.5L619.3,572.4L619.9,569.5L620.5,567.1L621.0,564.5L621.6,563.3L622.1,561.6L622.7,560.9L623.3,560.2L623.8,558.9L624.4,558.0L624.9,557.8L625.5,557.3L626.1,556.6L626.6,555.4L627.2,555.2L627.8,555.4L628.3,554.9L628.9,554.7L629.4,554.4L630.0,553.2L630.6,553.6L631.1,552.9L631.7,552.7L632.2,552.8L632.8,551.8L633.4,552.3L633.9,551.4L634.5,551.9L635.0,551.2L635.6,551.2L636.2,550.8L636.7,549.5L637.3,549.5L637.9,550.0L638.4,548.8L639.0,549.6L639.5,549.0L640.1,548.0L640.7,548.0L641.2,548.6L641.8,546.8L642.3,547.7L642.9,547.3L643.5,546.1L644.0,546.5L644.6,546.2L645.1,546.3L645.7,545.9L646.3,544.7L646.8,545.0L647.4,544.0L647.9,544.2L648.5,543.7L649.1,542.4L649.6,543.2L650.2,542.7L650.8,541.9L651.3,543.1L651.9,543.0L652.4,541.1L653.0,541.1L653.6,542.1L654.1,542.1L654.7,540.6L655.2,539.9L655.8,541.5L656.4,539.5L656.9,539.5L657.5,540.0L658.0,540.3L658.6,540.9L659.2,540.9L659.7,538.4L660.3,540.1L660.9,538.7L661.4,539.7L662.0,538.0L662.5,538.5L663.1,539.1L663.7,539.2L664.2,537.5L664.8,539.1L665.3,538.5L665.9,537.3L666.5,536.3L667.0,536.8L667.6,537.6L668.1,535.7L668.7,537.7L669.3,538.2L669.8,537.5L670.4,537.0L671.0,538.2L671.5,537.9L672.1,537.4L672.6,536.8L673.2,538.3L673.8,537.7L674.3,536.0L674.9,535.8L675.4,536.9L676.0,536.8L676.6,537.2L677.1,538.7L677.7,539.0L678.2,539.0L678.8,535.9L679.4,536.5L679.9,535.5L680.5,538.8L681.0,536.5L681.6,537.0L682.2,536.0L682.7,537.5L683.3,534.9L683.9,538.4L684.4,536.6L685.0,536.0L685.5,535.4L686.1,536.1L686.7,536.4L687.2,536.2L687.8,535.8L688.3,538.2L688.9,537.0L689.5,536.3L690.0,536.5L690.6,538.4L691.1,537.0L691.7,536.7L692.3,538.0L692.8,537.8L693.4,538.9L694.0,538.1L694.5,538.0L695.1,540.3L695.6,538.0L696.2,536.5L696.8,537.0L697.3,537.7L697.9,539.2L698.4,537.7L699.0,538.5" fill="none" stroke="#3a88c8" stroke-width="1.25" stroke-linejoin="round"/>
<rect x="530.7" y="496" width="168.29999999999995" height="170.60000000000002" fill="none" stroke="#6e6e6e" stroke-width="1.1"/>
<line x1="530.70" y1="666.6" x2="530.70" y2="664.8000000000001" stroke="#6e6e6e" stroke-width="1"/>
<line x1="530.70" y1="496" x2="530.70" y2="497.8" stroke="#6e6e6e" stroke-width="1"/>
<text x="530.70" y="677.8000000000001" text-anchor="middle" class="tk">400</text>
<line x1="558.75" y1="666.6" x2="558.75" y2="664.8000000000001" stroke="#6e6e6e" stroke-width="1"/>
<line x1="558.75" y1="496" x2="558.75" y2="497.8" stroke="#6e6e6e" stroke-width="1"/>
<text x="558.75" y="677.8000000000001" text-anchor="middle" class="tk">500</text>
<line x1="586.80" y1="666.6" x2="586.80" y2="664.8000000000001" stroke="#6e6e6e" stroke-width="1"/>
<line x1="586.80" y1="496" x2="586.80" y2="497.8" stroke="#6e6e6e" stroke-width="1"/>
<text x="586.80" y="677.8000000000001" text-anchor="middle" class="tk">600</text>
<line x1="614.85" y1="666.6" x2="614.85" y2="664.8000000000001" stroke="#6e6e6e" stroke-width="1"/>
<line x1="614.85" y1="496" x2="614.85" y2="497.8" stroke="#6e6e6e" stroke-width="1"/>
<text x="614.85" y="677.8000000000001" text-anchor="middle" class="tk">700</text>
<line x1="642.90" y1="666.6" x2="642.90" y2="664.8000000000001" stroke="#6e6e6e" stroke-width="1"/>
<line x1="642.90" y1="496" x2="642.90" y2="497.8" stroke="#6e6e6e" stroke-width="1"/>
<text x="642.90" y="677.8000000000001" text-anchor="middle" class="tk">800</text>
<line x1="670.95" y1="666.6" x2="670.95" y2="664.8000000000001" stroke="#6e6e6e" stroke-width="1"/>
<line x1="670.95" y1="496" x2="670.95" y2="497.8" stroke="#6e6e6e" stroke-width="1"/>
<text x="670.95" y="677.8000000000001" text-anchor="middle" class="tk">900</text>
<line x1="699.00" y1="666.6" x2="699.00" y2="664.8000000000001" stroke="#6e6e6e" stroke-width="1"/>
<line x1="699.00" y1="496" x2="699.00" y2="497.8" stroke="#6e6e6e" stroke-width="1"/>
<text x="699.00" y="677.8000000000001" text-anchor="middle" class="tk">1000</text>
<line x1="530.7" y1="666.60" x2="532.5" y2="666.60" stroke="#6e6e6e" stroke-width="1"/>
<line x1="699" y1="666.60" x2="697.2" y2="666.60" stroke="#6e6e6e" stroke-width="1"/>
<text x="526.4000000000001" y="669.60" text-anchor="end" class="tk">0</text>
<line x1="530.7" y1="632.48" x2="532.5" y2="632.48" stroke="#6e6e6e" stroke-width="1"/>
<line x1="699" y1="632.48" x2="697.2" y2="632.48" stroke="#6e6e6e" stroke-width="1"/>
<text x="526.4000000000001" y="635.48" text-anchor="end" class="tk">0.2</text>
<line x1="530.7" y1="598.36" x2="532.5" y2="598.36" stroke="#6e6e6e" stroke-width="1"/>
<line x1="699" y1="598.36" x2="697.2" y2="598.36" stroke="#6e6e6e" stroke-width="1"/>
<text x="526.4000000000001" y="601.36" text-anchor="end" class="tk">0.4</text>
<line x1="530.7" y1="564.24" x2="532.5" y2="564.24" stroke="#6e6e6e" stroke-width="1"/>
<line x1="699" y1="564.24" x2="697.2" y2="564.24" stroke="#6e6e6e" stroke-width="1"/>
<text x="526.4000000000001" y="567.24" text-anchor="end" class="tk">0.6</text>
<line x1="530.7" y1="530.12" x2="532.5" y2="530.12" stroke="#6e6e6e" stroke-width="1"/>
<line x1="699" y1="530.12" x2="697.2" y2="530.12" stroke="#6e6e6e" stroke-width="1"/>
<text x="526.4000000000001" y="533.12" text-anchor="end" class="tk">0.8</text>
<line x1="530.7" y1="496.00" x2="532.5" y2="496.00" stroke="#6e6e6e" stroke-width="1"/>
<line x1="699" y1="496.00" x2="697.2" y2="496.00" stroke="#6e6e6e" stroke-width="1"/>
<text x="526.4000000000001" y="499.00" text-anchor="end" class="tk">1</text>
<text x="586.55" y="492.70" textLength="56.6" lengthAdjust="spacingAndGlyphs" class="ti">Heading stage</text>
<text x="584.35" y="688.20" textLength="61" lengthAdjust="spacingAndGlyphs" class="lb">Wavelength(nm)</text>
<text transform="translate(511.10,601.00) rotate(-90)" textLength="39.4" lengthAdjust="spacingAndGlyphs" class="lb">Reflectance</text>
<rect x="618.8" y="632.9" width="72.80" height="23.20" fill="#fff" stroke="#6e6e6e" stroke-width="1"/>
<line x1="623.1" y1="638.90" x2="640.4" y2="638.90" stroke="#3a88c8" stroke-width="1.45" opacity="0.55"/>
<text x="642.8" y="641.80" class="lg">Lesion</text>
<line x1="623.1" y1="649.70" x2="640.4" y2="649.70" stroke="#33913a" stroke-width="1.45" opacity="0.55"/>
<text x="642.8" y="652.60" class="lg">Healthy tissue</text>
</svg>
</body></html>
